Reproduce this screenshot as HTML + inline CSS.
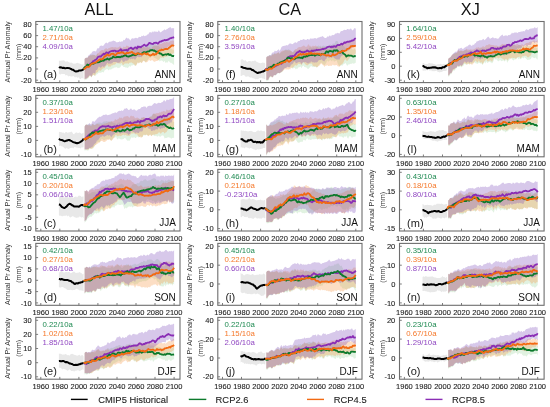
<!DOCTYPE html><html><head><meta charset="utf-8"><style>html,body{margin:0;padding:0;background:#fff;}svg{display:block}text{font-family:"Liberation Sans",Arial,sans-serif;}</style></head><body>
<svg width="550" height="407" viewBox="0 0 550 407">
<rect width="550" height="407" fill="#fff"/>
<text x="99.0" y="14.6" font-size="16.2" text-anchor="middle" fill="#111">ALL</text>
<text x="289.7" y="14.6" font-size="16.2" text-anchor="middle" fill="#111">CA</text>
<text x="470.3" y="14.6" font-size="16.2" text-anchor="middle" fill="#111">XJ</text>
<g>
<clipPath id="ca"><rect x="35.8" y="21.5" width="144.2" height="61.1"/></clipPath>
<g clip-path="url(#ca)">
<path d="M58.9,60.5 L59.8,60.8 L60.8,60.7 L61.7,60.4 L62.7,60.4 L63.6,60.2 L64.6,60.7 L65.6,61.7 L66.5,61.4 L67.5,61.2 L68.4,61.9 L69.4,62.4 L70.3,62.7 L71.3,62.5 L72.2,63.0 L73.2,63.8 L74.1,63.4 L75.1,63.7 L76.0,63.2 L77.0,63.1 L77.9,62.8 L78.9,63.5 L79.8,63.4 L80.8,64.1 L81.7,64.5 L82.7,64.6 L83.6,63.5 L83.6,78.7 L82.7,78.2 L81.7,78.0 L80.8,79.1 L79.8,78.9 L78.9,77.3 L77.9,77.7 L77.0,77.5 L76.0,76.6 L75.1,77.7 L74.1,76.5 L73.2,76.0 L72.2,76.6 L71.3,76.4 L70.3,76.2 L69.4,76.0 L68.4,76.4 L67.5,75.5 L66.5,75.1 L65.6,75.4 L64.6,74.1 L63.6,74.0 L62.7,74.1 L61.7,73.8 L60.8,74.6 L59.8,74.3 L58.9,74.1Z" fill="#e8e8e8"/>
<path d="M84.6,58.9 L85.5,58.0 L86.5,57.9 L87.4,58.0 L88.4,56.6 L89.4,56.1 L90.3,54.9 L91.3,54.8 L92.2,54.6 L93.2,54.5 L94.1,55.0 L95.1,55.3 L96.0,56.1 L97.0,54.2 L97.9,53.9 L98.9,55.9 L99.8,54.2 L100.8,53.4 L101.7,53.3 L102.7,54.0 L103.6,54.3 L104.6,52.6 L105.5,50.8 L106.5,50.8 L107.4,51.9 L108.4,51.3 L109.3,51.6 L110.3,51.4 L111.2,51.4 L112.2,50.2 L113.2,50.5 L114.1,52.2 L115.1,51.8 L116.0,52.2 L117.0,52.0 L117.9,52.5 L118.9,51.2 L119.8,50.4 L120.8,51.0 L121.7,50.7 L122.7,50.1 L123.6,49.3 L124.6,49.4 L125.5,48.7 L126.5,48.0 L127.4,47.9 L128.4,48.3 L129.3,49.3 L130.3,49.7 L131.2,48.7 L132.2,48.7 L133.1,48.0 L134.1,48.4 L135.0,47.3 L136.0,48.0 L137.0,49.4 L137.9,49.8 L138.9,47.8 L139.8,47.8 L140.8,47.5 L141.7,46.7 L142.7,47.7 L143.6,45.7 L144.6,47.0 L145.5,46.5 L146.5,46.9 L147.4,45.9 L148.4,45.0 L149.3,44.0 L150.3,44.1 L151.2,44.2 L152.2,43.0 L153.1,43.1 L154.1,41.3 L155.0,43.8 L156.0,44.2 L156.9,45.2 L157.9,45.8 L158.8,46.2 L159.8,47.2 L160.8,47.9 L161.7,47.6 L162.7,48.3 L163.6,47.3 L164.6,47.9 L165.5,48.3 L166.5,47.3 L167.4,48.5 L168.4,47.9 L169.3,47.0 L170.3,46.7 L171.2,48.7 L172.2,49.5 L173.1,49.7 L174.1,50.0 L174.1,65.0 L173.1,64.2 L172.2,63.4 L171.2,62.8 L170.3,62.7 L169.3,61.6 L168.4,60.9 L167.4,62.7 L166.5,62.2 L165.5,63.0 L164.6,60.7 L163.6,62.2 L162.7,61.1 L161.7,60.6 L160.8,60.4 L159.8,61.4 L158.8,60.3 L157.9,59.9 L156.9,58.9 L156.0,58.5 L155.0,57.9 L154.1,57.7 L153.1,56.6 L152.2,56.2 L151.2,57.1 L150.3,58.0 L149.3,57.8 L148.4,58.9 L147.4,60.2 L146.5,61.4 L145.5,61.9 L144.6,61.2 L143.6,60.6 L142.7,61.0 L141.7,63.0 L140.8,62.3 L139.8,61.8 L138.9,63.4 L137.9,62.1 L137.0,64.1 L136.0,65.4 L135.0,65.8 L134.1,65.1 L133.1,65.1 L132.2,65.4 L131.2,65.4 L130.3,67.0 L129.3,66.0 L128.4,67.5 L127.4,67.9 L126.5,67.5 L125.5,67.6 L124.6,66.9 L123.6,67.0 L122.7,65.9 L121.7,65.1 L120.8,66.5 L119.8,67.8 L118.9,67.7 L117.9,68.2 L117.0,67.6 L116.0,67.0 L115.1,67.7 L114.1,67.6 L113.2,68.5 L112.2,68.5 L111.2,69.4 L110.3,69.6 L109.3,69.4 L108.4,70.5 L107.4,68.9 L106.5,69.3 L105.5,69.8 L104.6,70.3 L103.6,72.6 L102.7,72.1 L101.7,72.2 L100.8,72.8 L99.8,72.8 L98.9,72.6 L97.9,73.6 L97.0,74.4 L96.0,74.4 L95.1,76.2 L94.1,75.5 L93.2,74.8 L92.2,76.0 L91.3,77.6 L90.3,76.1 L89.4,76.6 L88.4,78.0 L87.4,78.7 L86.5,79.5 L85.5,79.7 L84.6,80.5Z" fill="rgba(118,198,118,0.22)"/>
<path d="M84.6,58.9 L85.5,57.9 L86.5,57.8 L87.4,58.1 L88.4,56.6 L89.4,56.1 L90.3,55.3 L91.3,55.6 L92.2,55.1 L93.2,55.2 L94.1,54.8 L95.1,55.3 L96.0,56.1 L97.0,54.0 L97.9,52.7 L98.9,53.0 L99.8,51.3 L100.8,50.7 L101.7,49.9 L102.7,50.1 L103.6,50.4 L104.6,49.0 L105.5,48.4 L106.5,48.3 L107.4,49.3 L108.4,48.2 L109.3,47.9 L110.3,47.4 L111.2,47.3 L112.2,46.9 L113.2,47.3 L114.1,47.6 L115.1,46.9 L116.0,47.6 L117.0,47.6 L117.9,47.5 L118.9,46.9 L119.8,46.2 L120.8,46.8 L121.7,47.9 L122.7,48.0 L123.6,46.6 L124.6,47.1 L125.5,46.9 L126.5,45.5 L127.4,45.8 L128.4,46.3 L129.3,46.8 L130.3,48.2 L131.2,46.8 L132.2,47.4 L133.1,48.2 L134.1,48.3 L135.0,48.1 L136.0,46.8 L137.0,47.8 L137.9,47.8 L138.9,47.3 L139.8,47.7 L140.8,47.6 L141.7,46.4 L142.7,47.3 L143.6,46.7 L144.6,47.6 L145.5,47.4 L146.5,47.5 L147.4,46.4 L148.4,47.8 L149.3,47.2 L150.3,47.7 L151.2,49.0 L152.2,47.1 L153.1,46.6 L154.1,45.4 L155.0,45.9 L156.0,45.5 L156.9,46.2 L157.9,44.7 L158.8,43.8 L159.8,43.6 L160.8,44.3 L161.7,43.7 L162.7,43.0 L163.6,42.8 L164.6,42.0 L165.5,42.7 L166.5,41.8 L167.4,42.3 L168.4,42.4 L169.3,42.2 L170.3,41.1 L171.2,41.3 L172.2,40.2 L173.1,41.0 L174.1,40.2 L174.1,53.8 L173.1,52.8 L172.2,54.2 L171.2,54.4 L170.3,54.5 L169.3,53.6 L168.4,54.1 L167.4,56.6 L166.5,56.4 L165.5,56.9 L164.6,56.5 L163.6,58.3 L162.7,57.2 L161.7,57.9 L160.8,56.9 L159.8,58.7 L158.8,59.7 L157.9,60.8 L156.9,61.1 L156.0,61.1 L155.0,61.8 L154.1,61.7 L153.1,61.0 L152.2,60.0 L151.2,60.4 L150.3,61.0 L149.3,60.1 L148.4,60.5 L147.4,61.9 L146.5,62.3 L145.5,62.4 L144.6,61.2 L143.6,60.8 L142.7,61.7 L141.7,63.2 L140.8,62.3 L139.8,62.6 L138.9,63.4 L137.9,62.3 L137.0,63.8 L136.0,65.7 L135.0,65.6 L134.1,64.1 L133.1,63.6 L132.2,63.1 L131.2,62.2 L130.3,62.8 L129.3,62.7 L128.4,63.9 L127.4,63.2 L126.5,63.4 L125.5,63.4 L124.6,63.4 L123.6,65.1 L122.7,65.0 L121.7,62.7 L120.8,63.4 L119.8,63.4 L118.9,63.3 L117.9,63.5 L117.0,62.4 L116.0,63.5 L115.1,64.5 L114.1,64.8 L113.2,64.7 L112.2,65.6 L111.2,65.4 L110.3,66.9 L109.3,66.2 L108.4,66.8 L107.4,64.7 L106.5,65.4 L105.5,66.5 L104.6,68.2 L103.6,68.3 L102.7,68.5 L101.7,69.6 L100.8,70.8 L99.8,70.6 L98.9,70.1 L97.9,72.0 L97.0,72.6 L96.0,73.1 L95.1,75.7 L94.1,75.0 L93.2,74.7 L92.2,75.9 L91.3,77.2 L90.3,75.4 L89.4,75.8 L88.4,77.4 L87.4,77.9 L86.5,78.5 L85.5,78.7 L84.6,79.3Z" fill="rgba(245,145,58,0.3)"/>
<path d="M84.6,58.9 L85.5,57.9 L86.5,57.6 L87.4,57.7 L88.4,55.6 L89.4,55.0 L90.3,53.8 L91.3,53.4 L92.2,51.8 L93.2,51.2 L94.1,50.9 L95.1,51.3 L96.0,51.4 L97.0,49.1 L97.9,48.1 L98.9,48.4 L99.8,46.1 L100.8,45.7 L101.7,45.5 L102.7,46.0 L103.6,45.5 L104.6,43.9 L105.5,42.9 L106.5,42.5 L107.4,43.6 L108.4,42.4 L109.3,41.7 L110.3,41.8 L111.2,41.5 L112.2,41.3 L113.2,40.5 L114.1,41.0 L115.1,40.9 L116.0,42.1 L117.0,42.4 L117.9,41.9 L118.9,42.0 L119.8,41.2 L120.8,41.9 L121.7,41.3 L122.7,41.4 L123.6,39.8 L124.6,40.3 L125.5,38.7 L126.5,37.6 L127.4,38.4 L128.4,38.2 L129.3,38.9 L130.3,40.8 L131.2,39.1 L132.2,38.3 L133.1,38.4 L134.1,38.6 L135.0,38.1 L136.0,37.7 L137.0,38.2 L137.9,38.2 L138.9,36.8 L139.8,36.9 L140.8,36.9 L141.7,35.8 L142.7,36.2 L143.6,35.3 L144.6,36.2 L145.5,35.8 L146.5,35.4 L147.4,34.5 L148.4,34.2 L149.3,32.4 L150.3,32.0 L151.2,32.9 L152.2,31.2 L153.1,32.6 L154.1,31.0 L155.0,32.1 L156.0,31.2 L156.9,31.9 L157.9,31.7 L158.8,30.2 L159.8,31.7 L160.8,32.5 L161.7,31.5 L162.7,30.7 L163.6,30.2 L164.6,29.2 L165.5,30.2 L166.5,29.2 L167.4,28.9 L168.4,28.1 L169.3,27.7 L170.3,26.8 L171.2,28.4 L172.2,27.9 L173.1,28.4 L174.1,27.8 L174.1,46.3 L173.1,45.2 L172.2,46.2 L171.2,46.2 L170.3,46.9 L169.3,46.9 L168.4,46.3 L167.4,48.0 L166.5,47.8 L165.5,48.8 L164.6,48.3 L163.6,50.3 L162.7,48.2 L161.7,48.8 L160.8,48.7 L159.8,49.2 L158.8,49.5 L157.9,51.4 L156.9,50.8 L156.0,50.6 L155.0,51.6 L154.1,51.4 L153.1,52.3 L152.2,50.2 L151.2,51.2 L150.3,51.1 L149.3,50.9 L148.4,52.5 L147.4,54.4 L146.5,54.0 L145.5,54.0 L144.6,53.9 L143.6,53.7 L142.7,55.1 L141.7,57.2 L140.8,57.1 L139.8,57.1 L138.9,57.6 L137.9,56.2 L137.0,57.1 L136.0,58.5 L135.0,60.0 L134.1,58.8 L133.1,58.6 L132.2,59.2 L131.2,58.5 L130.3,59.4 L129.3,58.1 L128.4,60.1 L127.4,60.6 L126.5,60.8 L125.5,60.5 L124.6,61.4 L123.6,62.0 L122.7,61.4 L121.7,59.3 L120.8,61.0 L119.8,62.5 L118.9,62.6 L117.9,63.0 L117.0,62.3 L116.0,62.0 L115.1,62.1 L114.1,62.1 L113.2,61.9 L112.2,63.3 L111.2,63.5 L110.3,63.8 L109.3,63.5 L108.4,63.8 L107.4,62.5 L106.5,64.0 L105.5,65.5 L104.6,66.5 L103.6,66.9 L102.7,66.0 L101.7,66.9 L100.8,67.7 L99.8,67.2 L98.9,66.2 L97.9,68.2 L97.0,69.9 L96.0,70.0 L95.1,73.5 L94.1,73.3 L93.2,72.8 L92.2,75.1 L91.3,76.8 L90.3,75.3 L89.4,75.5 L88.4,76.8 L87.4,77.8 L86.5,78.5 L85.5,78.7 L84.6,79.3Z" fill="rgba(122,72,184,0.3)"/>
<polyline points="58.9,67.0 59.8,67.5 60.8,67.3 61.7,67.6 62.7,68.0 63.6,67.7 64.6,68.2 65.6,68.2 66.5,68.1 67.5,67.9 68.4,68.1 69.4,68.2 70.3,68.7 71.3,69.0 72.2,69.7 73.2,69.8 74.1,70.6 75.1,71.3 76.0,71.4 77.0,71.2 77.9,71.3 78.9,70.5 79.8,70.6 80.8,70.6 81.7,70.2 82.7,69.9 83.6,69.1" fill="none" stroke="#000" stroke-width="2" stroke-linejoin="round"/>
<polyline points="83.6,69.1 84.6,67.7 85.5,67.6 86.5,66.3 87.4,66.4 88.4,65.1 89.4,65.3 90.3,63.7 91.3,63.3 92.2,62.3 93.2,61.1 94.1,60.9 95.1,60.0 96.0,59.6 97.0,58.6 97.9,57.0 98.9,56.7 99.8,56.5 100.8,56.7 101.7,55.4 102.7,55.0 103.6,53.6 104.6,54.3 105.5,53.4 106.5,52.3 107.4,52.7 108.4,53.5 109.3,52.1 110.3,51.5 111.2,51.2 112.2,50.7 113.2,51.2 114.1,50.6 115.1,50.6 116.0,51.5 117.0,51.1 117.9,51.6 118.9,50.8 119.8,50.1 120.8,49.2 121.7,51.0 122.7,50.4 123.6,50.4 124.6,50.2 125.5,50.1 126.5,49.9 127.4,50.9 128.4,49.5 129.3,48.3 130.3,48.1 131.2,47.6 132.2,48.6 133.1,49.1 134.1,48.1 135.0,47.3 136.0,47.5 137.0,48.6 137.9,46.4 138.9,47.3 139.8,46.6 140.8,47.4 141.7,46.3 142.7,46.0 143.6,45.0 144.6,44.7 145.5,45.8 146.5,45.9 147.4,45.0 148.4,44.1 149.3,42.8 150.3,43.2 151.2,43.7 152.2,43.9 153.1,44.0 154.1,42.9 155.0,42.8 156.0,42.6 156.9,43.1 157.9,43.7 158.8,42.7 159.8,41.7 160.8,41.6 161.7,41.1 162.7,40.6 163.6,40.6 164.6,39.9 165.5,40.3 166.5,40.0 167.4,39.9 168.4,39.4 169.3,38.8 170.3,38.2 171.2,38.2 172.2,37.6 173.1,37.6 174.1,37.2" fill="none" stroke="#8a2db5" stroke-width="1.8" stroke-linejoin="round"/>
<polyline points="83.6,69.1 84.6,67.1 85.5,67.3 86.5,66.1 87.4,64.5 88.4,64.8 89.4,65.6 90.3,65.1 91.3,63.9 92.2,63.3 93.2,63.9 94.1,63.4 95.1,63.0 96.0,62.5 97.0,62.2 97.9,62.4 98.9,62.2 99.8,61.9 100.8,60.9 101.7,61.1 102.7,60.4 103.6,60.8 104.6,59.6 105.5,59.5 106.5,59.3 107.4,58.4 108.4,59.3 109.3,59.5 110.3,58.5 111.2,58.4 112.2,58.0 113.2,56.4 114.1,57.1 115.1,57.3 116.0,57.4 117.0,56.9 117.9,57.0 118.9,56.8 119.8,57.3 120.8,56.9 121.7,56.4 122.7,56.7 123.6,55.9 124.6,55.6 125.5,54.7 126.5,56.1 127.4,56.4 128.4,56.5 129.3,56.3 130.3,55.9 131.2,55.6 132.2,55.1 133.1,54.9 134.1,54.7 135.0,55.3 136.0,55.0 137.0,54.3 137.9,53.7 138.9,53.3 139.8,54.2 140.8,54.0 141.7,53.5 142.7,53.0 143.6,52.2 144.6,52.2 145.5,52.6 146.5,52.0 147.4,51.6 148.4,51.4 149.3,51.3 150.3,50.2 151.2,50.3 152.2,49.9 153.1,50.5 154.1,50.3 155.0,51.0 156.0,51.9 156.9,51.6 157.9,51.9 158.8,52.8 159.8,53.5 160.8,53.5 161.7,54.2 162.7,55.4 163.6,54.9 164.6,54.7 165.5,54.3 166.5,54.8 167.4,54.2 168.4,53.9 169.3,55.1 170.3,54.5 171.2,55.3 172.2,56.1 173.1,56.0 174.1,56.2" fill="none" stroke="#0c7a2c" stroke-width="1.8" stroke-linejoin="round"/>
<polyline points="83.6,69.1 84.6,68.7 85.5,68.1 86.5,66.8 87.4,66.6 88.4,67.0 89.4,66.6 90.3,65.0 91.3,63.9 92.2,63.5 93.2,63.4 94.1,62.9 95.1,62.6 96.0,62.3 97.0,61.4 97.9,60.7 98.9,60.1 99.8,59.3 100.8,59.1 101.7,59.6 102.7,58.8 103.6,57.9 104.6,56.2 105.5,56.4 106.5,55.0 107.4,54.5 108.4,55.4 109.3,55.5 110.3,55.0 111.2,53.8 112.2,53.9 113.2,53.7 114.1,54.3 115.1,55.4 116.0,54.7 117.0,53.7 117.9,52.9 118.9,53.1 119.8,53.0 120.8,52.3 121.7,52.7 122.7,52.2 123.6,53.1 124.6,53.6 125.5,53.8 126.5,52.9 127.4,53.2 128.4,53.0 129.3,52.7 130.3,52.7 131.2,52.2 132.2,51.9 133.1,53.2 134.1,53.4 135.0,53.9 136.0,54.5 137.0,53.3 137.9,53.2 138.9,53.7 139.8,54.0 140.8,53.8 141.7,54.5 142.7,54.3 143.6,53.5 144.6,53.2 145.5,54.0 146.5,54.3 147.4,53.3 148.4,54.6 149.3,55.0 150.3,55.7 151.2,55.1 152.2,54.6 153.1,53.7 154.1,55.1 155.0,54.1 156.0,54.5 156.9,53.2 157.9,52.5 158.8,50.7 159.8,50.2 160.8,50.5 161.7,49.5 162.7,50.1 163.6,49.9 164.6,49.1 165.5,49.0 166.5,49.0 167.4,49.2 168.4,48.4 169.3,47.5 170.3,46.9 171.2,46.0 172.2,45.3 173.1,45.5 174.1,46.0" fill="none" stroke="#f26a12" stroke-width="1.8" stroke-linejoin="round"/>
</g>
<rect x="35.8" y="21.5" width="144.2" height="61.1" fill="none" stroke="#6e6e6e" stroke-width="1.1"/>
<line x1="40.8" y1="82.6" x2="40.8" y2="80.3" stroke="#6e6e6e" stroke-width="0.9"/>
<text x="40.8" y="92.1" font-size="7.5" text-anchor="middle" fill="#222" stroke="#222" stroke-width="0.1">1960</text>
<line x1="59.8" y1="82.6" x2="59.8" y2="80.3" stroke="#6e6e6e" stroke-width="0.9"/>
<text x="59.8" y="92.1" font-size="7.5" text-anchor="middle" fill="#222" stroke="#222" stroke-width="0.1">1980</text>
<line x1="78.9" y1="82.6" x2="78.9" y2="80.3" stroke="#6e6e6e" stroke-width="0.9"/>
<text x="78.9" y="92.1" font-size="7.5" text-anchor="middle" fill="#222" stroke="#222" stroke-width="0.1">2000</text>
<line x1="97.9" y1="82.6" x2="97.9" y2="80.3" stroke="#6e6e6e" stroke-width="0.9"/>
<text x="97.9" y="92.1" font-size="7.5" text-anchor="middle" fill="#222" stroke="#222" stroke-width="0.1">2020</text>
<line x1="117.0" y1="82.6" x2="117.0" y2="80.3" stroke="#6e6e6e" stroke-width="0.9"/>
<text x="117.0" y="92.1" font-size="7.5" text-anchor="middle" fill="#222" stroke="#222" stroke-width="0.1">2040</text>
<line x1="136.0" y1="82.6" x2="136.0" y2="80.3" stroke="#6e6e6e" stroke-width="0.9"/>
<text x="136.0" y="92.1" font-size="7.5" text-anchor="middle" fill="#222" stroke="#222" stroke-width="0.1">2060</text>
<line x1="155.0" y1="82.6" x2="155.0" y2="80.3" stroke="#6e6e6e" stroke-width="0.9"/>
<text x="155.0" y="92.1" font-size="7.5" text-anchor="middle" fill="#222" stroke="#222" stroke-width="0.1">2080</text>
<line x1="174.1" y1="82.6" x2="174.1" y2="80.3" stroke="#6e6e6e" stroke-width="0.9"/>
<text x="174.1" y="92.1" font-size="7.5" text-anchor="middle" fill="#222" stroke="#222" stroke-width="0.1">2100</text>
<line x1="35.8" y1="24.4" x2="38.099999999999994" y2="24.4" stroke="#6e6e6e" stroke-width="0.9"/>
<text x="31.6" y="26.9" font-size="7.5" text-anchor="end" fill="#222" stroke="#222" stroke-width="0.1">80</text>
<line x1="35.8" y1="35.6" x2="38.099999999999994" y2="35.6" stroke="#6e6e6e" stroke-width="0.9"/>
<text x="31.6" y="38.1" font-size="7.5" text-anchor="end" fill="#222" stroke="#222" stroke-width="0.1">60</text>
<line x1="35.8" y1="46.7" x2="38.099999999999994" y2="46.7" stroke="#6e6e6e" stroke-width="0.9"/>
<text x="31.6" y="49.3" font-size="7.5" text-anchor="end" fill="#222" stroke="#222" stroke-width="0.1">40</text>
<line x1="35.8" y1="57.9" x2="38.099999999999994" y2="57.9" stroke="#6e6e6e" stroke-width="0.9"/>
<text x="31.6" y="60.4" font-size="7.5" text-anchor="end" fill="#222" stroke="#222" stroke-width="0.1">20</text>
<line x1="35.8" y1="69.0" x2="38.099999999999994" y2="69.0" stroke="#6e6e6e" stroke-width="0.9"/>
<text x="31.6" y="71.6" font-size="7.5" text-anchor="end" fill="#222" stroke="#222" stroke-width="0.1">0</text>
<line x1="35.8" y1="80.2" x2="38.099999999999994" y2="80.2" stroke="#6e6e6e" stroke-width="0.9"/>
<text x="31.6" y="82.7" font-size="7.5" text-anchor="end" fill="#222" stroke="#222" stroke-width="0.1">-20</text>
<text transform="translate(10.4,52.0) rotate(-90)" font-size="7.2" text-anchor="middle" fill="#333">Annual Pr Anomaly</text>
<text transform="translate(21.2,52.0) rotate(-90)" font-size="7.2" text-anchor="middle" fill="#333">(mm)</text>
<text x="42.5" y="31.3" font-size="7.8" fill="#1f8a52">1.47/10a</text>
<text x="42.5" y="40.1" font-size="7.8" fill="#f5782a">2.71/10a</text>
<text x="42.5" y="49.0" font-size="7.8" fill="#9148c2">4.09/10a</text>
<text x="43.4" y="78.3" font-size="11" fill="#222">(a)</text>
<text x="175.8" y="78.0" font-size="10" text-anchor="end" fill="#111">ANN</text>
</g>
<g>
<clipPath id="cb"><rect x="35.8" y="95.4" width="144.2" height="61.4"/></clipPath>
<g clip-path="url(#cb)">
<path d="M58.9,132.3 L59.8,131.7 L60.8,132.3 L61.7,132.2 L62.7,132.8 L63.6,132.6 L64.6,133.6 L65.6,132.0 L66.5,132.1 L67.5,132.8 L68.4,132.6 L69.4,132.2 L70.3,132.2 L71.3,131.6 L72.2,132.2 L73.2,134.0 L74.1,134.2 L75.1,133.1 L76.0,132.5 L77.0,132.5 L77.9,133.3 L78.9,132.7 L79.8,132.5 L80.8,133.3 L81.7,133.8 L82.7,133.3 L83.6,132.6 L83.6,147.3 L82.7,147.5 L81.7,147.2 L80.8,148.4 L79.8,147.9 L78.9,148.0 L77.9,147.8 L77.0,147.6 L76.0,147.4 L75.1,147.1 L74.1,147.2 L73.2,148.4 L72.2,147.4 L71.3,148.1 L70.3,148.0 L69.4,148.5 L68.4,149.0 L67.5,148.4 L66.5,147.9 L65.6,148.7 L64.6,148.3 L63.6,147.2 L62.7,146.6 L61.7,146.5 L60.8,145.4 L59.8,145.9 L58.9,145.9Z" fill="#e8e8e8"/>
<path d="M84.6,126.4 L85.5,125.1 L86.5,124.5 L87.4,124.7 L88.4,124.8 L89.4,124.1 L90.3,125.0 L91.3,125.0 L92.2,123.8 L93.2,123.6 L94.1,125.0 L95.1,124.8 L96.0,123.5 L97.0,123.3 L97.9,122.7 L98.9,122.6 L99.8,122.4 L100.8,122.8 L101.7,122.9 L102.7,122.4 L103.6,121.6 L104.6,121.6 L105.5,121.4 L106.5,120.9 L107.4,121.4 L108.4,121.6 L109.3,121.5 L110.3,121.6 L111.2,121.2 L112.2,122.3 L113.2,122.8 L114.1,123.3 L115.1,122.6 L116.0,124.7 L117.0,123.8 L117.9,122.8 L118.9,122.5 L119.8,122.2 L120.8,123.0 L121.7,122.0 L122.7,123.4 L123.6,121.4 L124.6,120.5 L125.5,119.7 L126.5,120.2 L127.4,120.2 L128.4,120.8 L129.3,121.5 L130.3,121.1 L131.2,119.9 L132.2,120.6 L133.1,119.6 L134.1,119.6 L135.0,119.8 L136.0,120.2 L137.0,119.6 L137.9,119.0 L138.9,118.6 L139.8,119.2 L140.8,119.4 L141.7,117.4 L142.7,117.8 L143.6,117.5 L144.6,118.3 L145.5,118.0 L146.5,119.2 L147.4,118.0 L148.4,118.3 L149.3,117.4 L150.3,116.6 L151.2,116.2 L152.2,115.1 L153.1,113.6 L154.1,113.9 L155.0,114.3 L156.0,115.1 L156.9,116.1 L157.9,116.4 L158.8,115.6 L159.8,115.5 L160.8,116.8 L161.7,116.8 L162.7,115.7 L163.6,114.2 L164.6,114.4 L165.5,116.3 L166.5,115.5 L167.4,117.2 L168.4,117.7 L169.3,117.9 L170.3,119.3 L171.2,119.6 L172.2,120.6 L173.1,121.7 L174.1,121.9 L174.1,137.9 L173.1,137.8 L172.2,137.9 L171.2,138.8 L170.3,137.7 L169.3,137.6 L168.4,137.2 L167.4,137.6 L166.5,138.1 L165.5,137.9 L164.6,138.5 L163.6,135.7 L162.7,135.4 L161.7,135.6 L160.8,136.4 L159.8,136.7 L158.8,135.4 L157.9,136.4 L156.9,136.4 L156.0,135.6 L155.0,136.3 L154.1,135.7 L153.1,135.0 L152.2,135.0 L151.2,136.0 L150.3,134.4 L149.3,134.8 L148.4,135.7 L147.4,135.2 L146.5,134.5 L145.5,135.5 L144.6,135.6 L143.6,134.5 L142.7,137.0 L141.7,137.3 L140.8,136.0 L139.8,136.8 L138.9,137.5 L137.9,136.9 L137.0,136.3 L136.0,138.1 L135.0,138.1 L134.1,136.7 L133.1,138.0 L132.2,137.6 L131.2,137.6 L130.3,139.6 L129.3,141.0 L128.4,140.6 L127.4,140.8 L126.5,139.8 L125.5,138.3 L124.6,138.1 L123.6,138.9 L122.7,139.3 L121.7,139.5 L120.8,139.3 L119.8,139.1 L118.9,138.0 L117.9,139.5 L117.0,138.9 L116.0,136.8 L115.1,137.7 L114.1,137.5 L113.2,137.8 L112.2,139.8 L111.2,140.5 L110.3,139.7 L109.3,138.6 L108.4,139.3 L107.4,138.9 L106.5,139.3 L105.5,139.5 L104.6,140.2 L103.6,140.3 L102.7,139.2 L101.7,138.7 L100.8,140.3 L99.8,142.4 L98.9,141.7 L97.9,142.4 L97.0,142.1 L96.0,144.6 L95.1,144.9 L94.1,146.8 L93.2,148.4 L92.2,148.3 L91.3,148.8 L90.3,148.8 L89.4,148.7 L88.4,150.5 L87.4,150.6 L86.5,150.2 L85.5,150.3 L84.6,150.8Z" fill="rgba(118,198,118,0.22)"/>
<path d="M84.6,126.4 L85.5,125.1 L86.5,124.4 L87.4,125.1 L88.4,125.4 L89.4,124.9 L90.3,125.8 L91.3,126.3 L92.2,124.1 L93.2,124.5 L94.1,124.9 L95.1,125.3 L96.0,124.5 L97.0,123.9 L97.9,124.0 L98.9,124.6 L99.8,124.5 L100.8,125.1 L101.7,124.4 L102.7,124.4 L103.6,123.9 L104.6,123.4 L105.5,123.4 L106.5,122.9 L107.4,123.0 L108.4,122.2 L109.3,122.1 L110.3,122.4 L111.2,121.3 L112.2,121.5 L113.2,121.2 L114.1,121.2 L115.1,118.9 L116.0,119.7 L117.0,119.9 L117.9,118.7 L118.9,118.7 L119.8,117.1 L120.8,118.2 L121.7,117.6 L122.7,118.7 L123.6,116.9 L124.6,116.5 L125.5,116.4 L126.5,116.3 L127.4,116.0 L128.4,116.4 L129.3,118.0 L130.3,116.2 L131.2,115.5 L132.2,116.4 L133.1,115.8 L134.1,116.7 L135.0,118.1 L136.0,118.2 L137.0,117.3 L137.9,118.1 L138.9,118.6 L139.8,118.9 L140.8,118.8 L141.7,117.5 L142.7,117.8 L143.6,117.1 L144.6,117.2 L145.5,118.4 L146.5,119.0 L147.4,119.5 L148.4,118.5 L149.3,116.9 L150.3,116.7 L151.2,117.0 L152.2,115.7 L153.1,113.9 L154.1,113.4 L155.0,113.8 L156.0,113.6 L156.9,113.1 L157.9,113.2 L158.8,113.0 L159.8,112.3 L160.8,112.4 L161.7,111.6 L162.7,111.8 L163.6,110.9 L164.6,111.2 L165.5,112.1 L166.5,109.5 L167.4,109.9 L168.4,110.4 L169.3,109.9 L170.3,109.7 L171.2,108.9 L172.2,109.1 L173.1,110.4 L174.1,109.5 L174.1,127.1 L173.1,127.4 L172.2,127.9 L171.2,129.1 L170.3,128.5 L169.3,128.5 L168.4,128.5 L167.4,130.5 L166.5,131.9 L165.5,132.5 L164.6,133.5 L163.6,131.9 L162.7,132.1 L161.7,132.6 L160.8,134.0 L159.8,132.4 L158.8,132.2 L157.9,133.5 L156.9,134.1 L156.0,134.2 L155.0,134.3 L154.1,134.9 L153.1,134.3 L152.2,135.4 L151.2,136.3 L150.3,134.6 L149.3,135.5 L148.4,136.2 L147.4,135.2 L146.5,134.6 L145.5,135.0 L144.6,134.8 L143.6,134.8 L142.7,136.4 L141.7,137.5 L140.8,137.5 L139.8,136.9 L138.9,136.7 L137.9,135.8 L137.0,133.9 L136.0,134.4 L135.0,133.9 L134.1,132.9 L133.1,133.5 L132.2,133.4 L131.2,133.5 L130.3,134.8 L129.3,136.0 L128.4,135.7 L127.4,135.7 L126.5,135.6 L125.5,134.7 L124.6,135.4 L123.6,134.5 L122.7,135.0 L121.7,135.6 L120.8,136.2 L119.8,135.8 L118.9,135.6 L117.9,136.5 L117.0,135.8 L116.0,135.1 L115.1,135.5 L114.1,137.7 L113.2,138.7 L112.2,140.1 L111.2,140.9 L110.3,139.9 L109.3,139.3 L108.4,139.9 L107.4,139.8 L106.5,140.7 L105.5,141.4 L104.6,142.1 L103.6,141.9 L102.7,141.2 L101.7,140.9 L100.8,141.0 L99.8,142.6 L98.9,142.4 L97.9,143.8 L97.0,143.8 L96.0,145.0 L95.1,145.2 L94.1,146.7 L93.2,147.6 L92.2,148.7 L91.3,148.8 L90.3,148.6 L89.4,148.3 L88.4,149.6 L87.4,149.7 L86.5,149.4 L85.5,149.3 L84.6,149.6Z" fill="rgba(245,145,58,0.3)"/>
<path d="M84.6,126.4 L85.5,125.1 L86.5,124.4 L87.4,124.7 L88.4,124.2 L89.4,123.0 L90.3,123.9 L91.3,124.2 L92.2,121.5 L93.2,121.0 L94.1,121.9 L95.1,120.9 L96.0,119.9 L97.0,118.8 L97.9,117.8 L98.9,117.3 L99.8,116.6 L100.8,116.9 L101.7,116.1 L102.7,115.6 L103.6,114.8 L104.6,115.0 L105.5,114.4 L106.5,114.4 L107.4,115.2 L108.4,114.9 L109.3,114.8 L110.3,114.5 L111.2,114.0 L112.2,113.5 L113.2,113.0 L114.1,113.3 L115.1,112.1 L116.0,113.0 L117.0,112.5 L117.9,111.5 L118.9,111.1 L119.8,110.7 L120.8,110.9 L121.7,110.3 L122.7,111.1 L123.6,110.1 L124.6,108.5 L125.5,108.7 L126.5,107.9 L127.4,108.8 L128.4,109.9 L129.3,110.1 L130.3,108.8 L131.2,108.5 L132.2,110.0 L133.1,109.7 L134.1,109.3 L135.0,109.7 L136.0,110.8 L137.0,110.5 L137.9,109.5 L138.9,109.1 L139.8,109.0 L140.8,107.9 L141.7,107.0 L142.7,107.1 L143.6,106.4 L144.6,106.5 L145.5,106.6 L146.5,108.0 L147.4,106.4 L148.4,106.0 L149.3,105.7 L150.3,105.8 L151.2,106.1 L152.2,105.2 L153.1,104.3 L154.1,103.2 L155.0,103.1 L156.0,103.8 L156.9,103.8 L157.9,102.9 L158.8,102.8 L159.8,102.9 L160.8,103.1 L161.7,102.3 L162.7,101.9 L163.6,100.6 L164.6,100.2 L165.5,101.7 L166.5,99.7 L167.4,99.8 L168.4,100.1 L169.3,99.6 L170.3,99.0 L171.2,99.0 L172.2,98.7 L173.1,98.3 L174.1,96.6 L174.1,117.4 L173.1,118.8 L172.2,120.7 L171.2,122.9 L170.3,122.2 L169.3,123.7 L168.4,123.6 L167.4,124.6 L166.5,126.0 L165.5,125.8 L164.6,128.2 L163.6,127.4 L162.7,128.6 L161.7,127.9 L160.8,129.3 L159.8,128.7 L158.8,127.3 L157.9,129.2 L156.9,129.4 L156.0,128.9 L155.0,130.3 L154.1,130.4 L153.1,130.3 L152.2,131.0 L151.2,131.0 L150.3,128.4 L149.3,129.0 L148.4,128.4 L147.4,127.1 L146.5,126.8 L145.5,127.6 L144.6,127.8 L143.6,127.1 L142.7,131.0 L141.7,131.6 L140.8,131.5 L139.8,131.2 L138.9,132.9 L137.9,133.1 L137.0,132.4 L136.0,132.6 L135.0,133.6 L134.1,131.7 L133.1,132.0 L132.2,131.1 L131.2,131.0 L130.3,133.2 L129.3,134.3 L128.4,135.0 L127.4,133.5 L126.5,133.3 L125.5,132.8 L124.6,133.0 L123.6,132.4 L122.7,133.0 L121.7,132.7 L120.8,133.4 L119.8,133.4 L118.9,132.0 L117.9,132.8 L117.0,133.4 L116.0,131.8 L115.1,133.1 L114.1,134.5 L113.2,134.4 L112.2,136.1 L111.2,137.3 L110.3,135.8 L109.3,135.0 L108.4,135.8 L107.4,134.8 L106.5,135.6 L105.5,136.0 L104.6,136.7 L103.6,136.4 L102.7,135.6 L101.7,136.7 L100.8,136.4 L99.8,137.7 L98.9,138.9 L97.9,140.5 L97.0,140.3 L96.0,142.7 L95.1,143.6 L94.1,144.2 L93.2,145.9 L92.2,147.1 L91.3,147.3 L90.3,148.0 L89.4,147.8 L88.4,149.0 L87.4,149.0 L86.5,149.3 L85.5,149.2 L84.6,149.6Z" fill="rgba(122,72,184,0.3)"/>
<polyline points="58.9,138.8 59.8,139.6 60.8,139.9 61.7,140.0 62.7,140.3 63.6,140.9 64.6,141.2 65.6,141.0 66.5,140.6 67.5,140.5 68.4,139.9 69.4,139.9 70.3,140.6 71.3,140.9 72.2,141.5 73.2,142.1 74.1,142.4 75.1,142.5 76.0,143.1 77.0,143.3 77.9,143.0 78.9,142.7 79.8,142.3 80.8,141.6 81.7,141.1 82.7,140.2 83.6,138.8" fill="none" stroke="#000" stroke-width="2" stroke-linejoin="round"/>
<polyline points="83.6,138.8 84.6,138.7 85.5,138.6 86.5,137.2 87.4,136.3 88.4,135.3 89.4,134.4 90.3,134.3 91.3,133.9 92.2,132.7 93.2,131.6 94.1,131.2 95.1,130.5 96.0,130.4 97.0,130.9 97.9,129.9 98.9,128.6 99.8,127.6 100.8,127.0 101.7,126.6 102.7,126.2 103.6,126.3 104.6,126.3 105.5,126.8 106.5,126.4 107.4,126.3 108.4,125.7 109.3,126.8 110.3,126.7 111.2,127.3 112.2,127.0 113.2,127.2 114.1,126.3 115.1,126.3 116.0,127.3 117.0,125.6 117.9,125.9 118.9,126.2 119.8,125.5 120.8,125.3 121.7,125.4 122.7,124.3 123.6,124.3 124.6,123.5 125.5,123.2 126.5,123.0 127.4,123.0 128.4,123.1 129.3,123.2 130.3,122.2 131.2,123.4 132.2,123.5 133.1,123.3 134.1,122.5 135.0,122.2 136.0,122.3 137.0,122.1 137.9,120.9 138.9,121.5 139.8,122.8 140.8,120.9 141.7,121.4 142.7,121.2 143.6,120.5 144.6,120.6 145.5,119.1 146.5,118.9 147.4,119.2 148.4,118.8 149.3,119.1 150.3,119.9 151.2,120.4 152.2,121.4 153.1,120.3 154.1,120.6 155.0,119.5 156.0,119.6 156.9,119.0 157.9,117.2 158.8,117.4 159.8,116.7 160.8,116.5 161.7,117.3 162.7,116.2 163.6,115.5 164.6,116.3 165.5,115.8 166.5,116.1 167.4,115.3 168.4,114.0 169.3,113.6 170.3,113.8 171.2,113.4 172.2,111.9 173.1,110.5 174.1,109.1" fill="none" stroke="#8a2db5" stroke-width="1.8" stroke-linejoin="round"/>
<polyline points="83.6,138.8 84.6,139.0 85.5,139.5 86.5,138.5 87.4,137.9 88.4,137.4 89.4,136.1 90.3,134.3 91.3,133.3 92.2,132.5 93.2,133.3 94.1,132.3 95.1,132.6 96.0,132.1 97.0,132.4 97.9,132.2 98.9,131.5 99.8,131.1 100.8,130.9 101.7,130.7 102.7,130.3 103.6,130.2 104.6,130.8 105.5,129.5 106.5,129.7 107.4,129.3 108.4,129.6 109.3,130.1 110.3,129.9 111.2,130.2 112.2,129.2 113.2,130.4 114.1,130.5 115.1,131.3 116.0,131.7 117.0,130.2 117.9,130.3 118.9,130.7 119.8,131.4 120.8,131.1 121.7,130.8 122.7,129.7 123.6,130.4 124.6,130.8 125.5,130.0 126.5,129.4 127.4,128.5 128.4,129.2 129.3,130.3 130.3,129.9 131.2,130.0 132.2,129.5 133.1,128.4 134.1,128.7 135.0,127.5 136.0,127.2 137.0,127.2 137.9,127.4 138.9,127.4 139.8,127.3 140.8,126.7 141.7,126.1 142.7,126.4 143.6,126.1 144.6,125.7 145.5,125.4 146.5,125.6 147.4,125.0 148.4,124.8 149.3,124.3 150.3,124.8 151.2,125.0 152.2,125.6 153.1,124.2 154.1,124.1 155.0,124.9 156.0,124.9 156.9,124.9 157.9,125.9 158.8,125.5 159.8,124.7 160.8,124.1 161.7,124.5 162.7,124.6 163.6,123.8 164.6,124.1 165.5,125.4 166.5,126.5 167.4,126.8 168.4,127.6 169.3,128.2 170.3,127.5 171.2,128.1 172.2,128.7 173.1,128.6 174.1,128.0" fill="none" stroke="#0c7a2c" stroke-width="1.8" stroke-linejoin="round"/>
<polyline points="83.6,138.8 84.6,138.9 85.5,139.5 86.5,137.6 87.4,138.6 88.4,137.2 89.4,137.1 90.3,137.0 91.3,136.6 92.2,135.8 93.2,134.6 94.1,134.5 95.1,133.7 96.0,132.2 97.0,133.8 97.9,133.7 98.9,134.0 99.8,132.9 100.8,133.3 101.7,133.4 102.7,133.3 103.6,132.3 104.6,131.2 105.5,130.9 106.5,129.7 107.4,129.3 108.4,129.8 109.3,129.5 110.3,129.6 111.2,129.7 112.2,130.5 113.2,130.4 114.1,129.6 115.1,129.6 116.0,128.5 117.0,128.1 117.9,128.2 118.9,127.3 119.8,127.1 120.8,126.5 121.7,126.7 122.7,127.3 123.6,126.5 124.6,126.4 125.5,125.7 126.5,125.1 127.4,124.7 128.4,125.5 129.3,126.3 130.3,125.7 131.2,124.9 132.2,125.0 133.1,124.5 134.1,124.9 135.0,125.0 136.0,125.2 137.0,125.6 137.9,125.3 138.9,125.4 139.8,125.0 140.8,125.4 141.7,125.3 142.7,125.8 143.6,125.9 144.6,126.4 145.5,126.5 146.5,125.6 147.4,125.2 148.4,124.9 149.3,125.3 150.3,125.8 151.2,125.5 152.2,124.7 153.1,124.9 154.1,123.5 155.0,124.0 156.0,123.2 156.9,121.6 157.9,123.1 158.8,123.2 159.8,122.0 160.8,121.7 161.7,121.2 162.7,121.0 163.6,120.0 164.6,119.7 165.5,119.9 166.5,119.6 167.4,119.7 168.4,118.9 169.3,119.3 170.3,118.0 171.2,117.5 172.2,116.7 173.1,116.7 174.1,117.8" fill="none" stroke="#f26a12" stroke-width="1.8" stroke-linejoin="round"/>
</g>
<rect x="35.8" y="95.4" width="144.2" height="61.4" fill="none" stroke="#6e6e6e" stroke-width="1.1"/>
<line x1="40.8" y1="156.8" x2="40.8" y2="154.5" stroke="#6e6e6e" stroke-width="0.9"/>
<text x="40.8" y="166.3" font-size="7.5" text-anchor="middle" fill="#222" stroke="#222" stroke-width="0.1">1960</text>
<line x1="59.8" y1="156.8" x2="59.8" y2="154.5" stroke="#6e6e6e" stroke-width="0.9"/>
<text x="59.8" y="166.3" font-size="7.5" text-anchor="middle" fill="#222" stroke="#222" stroke-width="0.1">1980</text>
<line x1="78.9" y1="156.8" x2="78.9" y2="154.5" stroke="#6e6e6e" stroke-width="0.9"/>
<text x="78.9" y="166.3" font-size="7.5" text-anchor="middle" fill="#222" stroke="#222" stroke-width="0.1">2000</text>
<line x1="97.9" y1="156.8" x2="97.9" y2="154.5" stroke="#6e6e6e" stroke-width="0.9"/>
<text x="97.9" y="166.3" font-size="7.5" text-anchor="middle" fill="#222" stroke="#222" stroke-width="0.1">2020</text>
<line x1="117.0" y1="156.8" x2="117.0" y2="154.5" stroke="#6e6e6e" stroke-width="0.9"/>
<text x="117.0" y="166.3" font-size="7.5" text-anchor="middle" fill="#222" stroke="#222" stroke-width="0.1">2040</text>
<line x1="136.0" y1="156.8" x2="136.0" y2="154.5" stroke="#6e6e6e" stroke-width="0.9"/>
<text x="136.0" y="166.3" font-size="7.5" text-anchor="middle" fill="#222" stroke="#222" stroke-width="0.1">2060</text>
<line x1="155.0" y1="156.8" x2="155.0" y2="154.5" stroke="#6e6e6e" stroke-width="0.9"/>
<text x="155.0" y="166.3" font-size="7.5" text-anchor="middle" fill="#222" stroke="#222" stroke-width="0.1">2080</text>
<line x1="174.1" y1="156.8" x2="174.1" y2="154.5" stroke="#6e6e6e" stroke-width="0.9"/>
<text x="174.1" y="166.3" font-size="7.5" text-anchor="middle" fill="#222" stroke="#222" stroke-width="0.1">2100</text>
<line x1="35.8" y1="98.3" x2="38.099999999999994" y2="98.3" stroke="#6e6e6e" stroke-width="0.9"/>
<text x="31.6" y="100.9" font-size="7.5" text-anchor="end" fill="#222" stroke="#222" stroke-width="0.1">30</text>
<line x1="35.8" y1="112.3" x2="38.099999999999994" y2="112.3" stroke="#6e6e6e" stroke-width="0.9"/>
<text x="31.6" y="114.9" font-size="7.5" text-anchor="end" fill="#222" stroke="#222" stroke-width="0.1">20</text>
<line x1="35.8" y1="126.4" x2="38.099999999999994" y2="126.4" stroke="#6e6e6e" stroke-width="0.9"/>
<text x="31.6" y="128.9" font-size="7.5" text-anchor="end" fill="#222" stroke="#222" stroke-width="0.1">10</text>
<line x1="35.8" y1="140.4" x2="38.099999999999994" y2="140.4" stroke="#6e6e6e" stroke-width="0.9"/>
<text x="31.6" y="142.9" font-size="7.5" text-anchor="end" fill="#222" stroke="#222" stroke-width="0.1">0</text>
<line x1="35.8" y1="154.4" x2="38.099999999999994" y2="154.4" stroke="#6e6e6e" stroke-width="0.9"/>
<text x="31.6" y="157.0" font-size="7.5" text-anchor="end" fill="#222" stroke="#222" stroke-width="0.1">-10</text>
<text transform="translate(10.4,126.1) rotate(-90)" font-size="7.2" text-anchor="middle" fill="#333">Annual Pr Anomaly</text>
<text transform="translate(21.2,126.1) rotate(-90)" font-size="7.2" text-anchor="middle" fill="#333">(mm)</text>
<text x="42.5" y="105.2" font-size="7.8" fill="#1f8a52">0.37/10a</text>
<text x="42.5" y="114.0" font-size="7.8" fill="#f5782a">1.23/10a</text>
<text x="42.5" y="122.9" font-size="7.8" fill="#9148c2">1.51/10a</text>
<text x="43.4" y="152.5" font-size="11" fill="#222">(b)</text>
<text x="175.8" y="152.2" font-size="10" text-anchor="end" fill="#111">MAM</text>
</g>
<g>
<clipPath id="cc"><rect x="35.8" y="169.4" width="144.2" height="61.6"/></clipPath>
<g clip-path="url(#cc)">
<path d="M58.9,196.9 L59.8,196.6 L60.8,196.1 L61.7,197.4 L62.7,196.6 L63.6,197.6 L64.6,197.6 L65.6,197.1 L66.5,196.4 L67.5,197.1 L68.4,197.8 L69.4,196.9 L70.3,196.7 L71.3,197.2 L72.2,197.1 L73.2,197.9 L74.1,197.1 L75.1,197.1 L76.0,196.2 L77.0,197.4 L77.9,196.6 L78.9,195.4 L79.8,195.7 L80.8,195.9 L81.7,197.0 L82.7,196.5 L83.6,196.4 L83.6,218.2 L82.7,217.1 L81.7,217.4 L80.8,217.2 L79.8,216.2 L78.9,217.4 L77.9,217.3 L77.0,218.1 L76.0,217.5 L75.1,217.5 L74.1,216.9 L73.2,216.3 L72.2,216.3 L71.3,217.0 L70.3,217.4 L69.4,216.8 L68.4,215.4 L67.5,216.5 L66.5,215.2 L65.6,215.8 L64.6,215.8 L63.6,215.7 L62.7,216.3 L61.7,216.2 L60.8,215.6 L59.8,216.0 L58.9,215.0Z" fill="#e8e8e8"/>
<path d="M84.6,190.8 L85.5,191.4 L86.5,190.9 L87.4,192.4 L88.4,194.5 L89.4,193.5 L90.3,193.4 L91.3,192.5 L92.2,192.3 L93.2,192.0 L94.1,192.6 L95.1,191.6 L96.0,192.9 L97.0,191.5 L97.9,190.8 L98.9,190.4 L99.8,190.1 L100.8,188.6 L101.7,188.5 L102.7,187.8 L103.6,186.4 L104.6,185.9 L105.5,185.0 L106.5,184.3 L107.4,184.1 L108.4,185.4 L109.3,185.4 L110.3,186.3 L111.2,186.1 L112.2,185.4 L113.2,186.1 L114.1,186.0 L115.1,184.5 L116.0,185.1 L117.0,185.6 L117.9,185.6 L118.9,185.6 L119.8,184.2 L120.8,184.6 L121.7,183.7 L122.7,184.6 L123.6,185.1 L124.6,187.3 L125.5,189.6 L126.5,190.3 L127.4,189.3 L128.4,188.1 L129.3,187.1 L130.3,187.1 L131.2,186.8 L132.2,184.9 L133.1,184.3 L134.1,184.3 L135.0,184.0 L136.0,183.9 L137.0,183.5 L137.9,182.8 L138.9,183.4 L139.8,182.1 L140.8,180.7 L141.7,180.7 L142.7,181.2 L143.6,180.0 L144.6,179.5 L145.5,179.2 L146.5,180.2 L147.4,181.0 L148.4,180.4 L149.3,180.3 L150.3,180.2 L151.2,179.5 L152.2,179.1 L153.1,178.6 L154.1,178.2 L155.0,178.4 L156.0,179.6 L156.9,181.2 L157.9,180.0 L158.8,180.7 L159.8,182.0 L160.8,180.6 L161.7,179.8 L162.7,180.4 L163.6,180.6 L164.6,181.8 L165.5,179.9 L166.5,180.9 L167.4,180.5 L168.4,179.6 L169.3,179.7 L170.3,180.3 L171.2,180.6 L172.2,180.9 L173.1,181.2 L174.1,181.0 L174.1,202.0 L173.1,202.6 L172.2,203.0 L171.2,202.0 L170.3,200.0 L169.3,201.0 L168.4,199.5 L167.4,201.0 L166.5,201.2 L165.5,200.4 L164.6,201.6 L163.6,200.7 L162.7,201.5 L161.7,200.4 L160.8,202.1 L159.8,201.6 L158.8,200.5 L157.9,200.5 L156.9,201.3 L156.0,202.6 L155.0,202.4 L154.1,201.3 L153.1,200.5 L152.2,201.2 L151.2,199.6 L150.3,200.0 L149.3,199.9 L148.4,199.3 L147.4,199.3 L146.5,199.7 L145.5,201.5 L144.6,201.3 L143.6,200.9 L142.7,200.7 L141.7,202.2 L140.8,203.0 L139.8,203.1 L138.9,203.6 L137.9,204.8 L137.0,206.0 L136.0,205.7 L135.0,206.5 L134.1,206.1 L133.1,207.1 L132.2,207.5 L131.2,206.0 L130.3,207.0 L129.3,206.3 L128.4,206.7 L127.4,207.6 L126.5,208.4 L125.5,207.5 L124.6,209.2 L123.6,206.6 L122.7,204.6 L121.7,204.6 L120.8,205.0 L119.8,205.1 L118.9,205.0 L117.9,204.0 L117.0,205.3 L116.0,205.5 L115.1,205.9 L114.1,208.0 L113.2,206.7 L112.2,207.5 L111.2,207.7 L110.3,208.6 L109.3,208.0 L108.4,206.4 L107.4,206.5 L106.5,206.2 L105.5,207.4 L104.6,209.5 L103.6,210.8 L102.7,210.7 L101.7,209.8 L100.8,211.4 L99.8,211.8 L98.9,213.4 L97.9,212.5 L97.0,213.6 L96.0,213.5 L95.1,212.8 L94.1,214.0 L93.2,215.1 L92.2,215.7 L91.3,217.1 L90.3,216.6 L89.4,217.0 L88.4,218.3 L87.4,218.4 L86.5,220.8 L85.5,221.7 L84.6,222.4Z" fill="rgba(118,198,118,0.22)"/>
<path d="M84.6,190.8 L85.5,191.3 L86.5,190.2 L87.4,191.0 L88.4,192.0 L89.4,190.3 L90.3,190.2 L91.3,189.6 L92.2,189.3 L93.2,189.4 L94.1,190.5 L95.1,188.9 L96.0,189.4 L97.0,188.9 L97.9,188.9 L98.9,189.1 L99.8,188.6 L100.8,186.9 L101.7,186.4 L102.7,186.4 L103.6,186.7 L104.6,187.7 L105.5,187.0 L106.5,187.2 L107.4,187.1 L108.4,186.1 L109.3,184.7 L110.3,184.9 L111.2,184.1 L112.2,183.7 L113.2,183.4 L114.1,183.1 L115.1,181.2 L116.0,181.9 L117.0,181.4 L117.9,180.6 L118.9,180.1 L119.8,179.1 L120.8,178.8 L121.7,178.9 L122.7,180.3 L123.6,178.8 L124.6,180.2 L125.5,180.3 L126.5,180.2 L127.4,179.0 L128.4,179.9 L129.3,179.7 L130.3,179.9 L131.2,180.8 L132.2,181.9 L133.1,182.3 L134.1,183.3 L135.0,184.2 L136.0,184.3 L137.0,185.2 L137.9,186.2 L138.9,186.4 L139.8,186.1 L140.8,185.2 L141.7,185.8 L142.7,186.9 L143.6,187.5 L144.6,186.8 L145.5,186.7 L146.5,186.7 L147.4,186.5 L148.4,186.0 L149.3,186.9 L150.3,186.3 L151.2,186.5 L152.2,186.6 L153.1,186.6 L154.1,186.2 L155.0,184.8 L156.0,185.2 L156.9,186.7 L157.9,185.0 L158.8,184.9 L159.8,185.4 L160.8,185.4 L161.7,184.2 L162.7,182.9 L163.6,182.4 L164.6,183.4 L165.5,182.5 L166.5,183.2 L167.4,183.0 L168.4,182.0 L169.3,182.0 L170.3,181.6 L171.2,181.2 L172.2,180.3 L173.1,181.6 L174.1,180.1 L174.1,199.3 L173.1,201.0 L172.2,202.4 L171.2,202.1 L170.3,202.0 L169.3,202.7 L168.4,200.6 L167.4,203.6 L166.5,203.8 L165.5,203.9 L164.6,204.2 L163.6,203.4 L162.7,203.7 L161.7,204.3 L160.8,204.8 L159.8,205.8 L158.8,205.1 L157.9,206.1 L156.9,205.8 L156.0,206.8 L155.0,205.7 L154.1,205.6 L153.1,205.7 L152.2,206.5 L151.2,204.9 L150.3,204.8 L149.3,206.3 L148.4,205.1 L147.4,205.1 L146.5,205.9 L145.5,207.1 L144.6,206.8 L143.6,206.7 L142.7,205.9 L141.7,205.8 L140.8,206.2 L139.8,206.4 L138.9,206.4 L137.9,206.7 L137.0,207.0 L136.0,206.1 L135.0,206.3 L134.1,205.6 L133.1,204.7 L132.2,202.7 L131.2,200.2 L130.3,198.7 L129.3,198.9 L128.4,198.2 L127.4,196.7 L126.5,198.0 L125.5,197.5 L124.6,199.9 L123.6,200.1 L122.7,199.9 L121.7,199.4 L120.8,200.1 L119.8,200.2 L118.9,199.7 L117.9,200.2 L117.0,201.9 L116.0,202.5 L115.1,203.1 L114.1,205.2 L113.2,204.9 L112.2,205.8 L111.2,207.0 L110.3,208.7 L109.3,208.4 L108.4,207.9 L107.4,209.3 L106.5,208.8 L105.5,209.4 L104.6,210.7 L103.6,211.4 L102.7,209.6 L101.7,208.4 L100.8,209.6 L99.8,210.5 L98.9,212.1 L97.9,210.1 L97.0,210.9 L96.0,210.7 L95.1,210.4 L94.1,209.9 L93.2,211.7 L92.2,212.5 L91.3,214.0 L90.3,213.7 L89.4,213.8 L88.4,215.3 L87.4,216.4 L86.5,219.2 L85.5,220.2 L84.6,221.2Z" fill="rgba(245,145,58,0.3)"/>
<path d="M84.6,190.8 L85.5,191.2 L86.5,190.0 L87.4,190.8 L88.4,191.9 L89.4,190.1 L90.3,189.3 L91.3,188.4 L92.2,188.0 L93.2,187.7 L94.1,187.6 L95.1,185.7 L96.0,186.3 L97.0,184.5 L97.9,184.2 L98.9,184.3 L99.8,183.8 L100.8,182.1 L101.7,181.2 L102.7,180.8 L103.6,180.6 L104.6,181.1 L105.5,179.5 L106.5,179.7 L107.4,179.7 L108.4,179.4 L109.3,179.0 L110.3,179.3 L111.2,178.6 L112.2,178.3 L113.2,177.8 L114.1,178.2 L115.1,175.7 L116.0,176.5 L117.0,175.6 L117.9,175.1 L118.9,174.3 L119.8,173.3 L120.8,173.6 L121.7,173.6 L122.7,174.2 L123.6,173.3 L124.6,174.8 L125.5,174.7 L126.5,174.4 L127.4,173.9 L128.4,173.6 L129.3,173.7 L130.3,174.4 L131.2,175.3 L132.2,175.9 L133.1,175.6 L134.1,176.3 L135.0,176.0 L136.0,176.6 L137.0,178.1 L137.9,178.0 L138.9,177.3 L139.8,175.9 L140.8,175.3 L141.7,174.7 L142.7,176.0 L143.6,175.5 L144.6,175.8 L145.5,175.4 L146.5,175.5 L147.4,176.5 L148.4,175.4 L149.3,175.0 L150.3,174.6 L151.2,175.5 L152.2,174.7 L153.1,174.2 L154.1,173.8 L155.0,173.6 L156.0,174.9 L156.9,177.0 L157.9,175.8 L158.8,176.5 L159.8,176.5 L160.8,175.6 L161.7,175.7 L162.7,175.8 L163.6,175.5 L164.6,177.1 L165.5,175.3 L166.5,175.9 L167.4,176.0 L168.4,175.4 L169.3,175.5 L170.3,175.9 L171.2,175.6 L172.2,175.7 L173.1,175.9 L174.1,174.2 L174.1,202.2 L173.1,203.6 L172.2,203.8 L171.2,202.9 L170.3,201.3 L169.3,202.1 L168.4,199.5 L167.4,202.1 L166.5,201.6 L165.5,200.7 L164.6,201.0 L163.6,201.4 L162.7,201.4 L161.7,202.6 L160.8,202.5 L159.8,203.8 L158.8,201.9 L157.9,203.4 L156.9,202.6 L156.0,203.9 L155.0,203.9 L154.1,202.5 L153.1,204.1 L152.2,203.5 L151.2,202.8 L150.3,202.8 L149.3,202.1 L148.4,201.4 L147.4,202.1 L146.5,201.5 L145.5,203.8 L144.6,203.6 L143.6,203.2 L142.7,201.2 L141.7,202.3 L140.8,202.7 L139.8,203.5 L138.9,203.3 L137.9,203.5 L137.0,204.1 L136.0,202.9 L135.0,203.6 L134.1,203.3 L133.1,203.6 L132.2,202.8 L131.2,201.7 L130.3,201.7 L129.3,201.9 L128.4,201.7 L127.4,201.7 L126.5,203.1 L125.5,203.7 L124.6,205.0 L123.6,202.9 L122.7,200.9 L121.7,200.0 L120.8,199.1 L119.8,198.9 L118.9,199.2 L117.9,198.4 L117.0,200.6 L116.0,202.1 L115.1,201.5 L114.1,203.0 L113.2,203.0 L112.2,204.2 L111.2,203.8 L110.3,204.9 L109.3,206.0 L108.4,204.8 L107.4,205.9 L106.5,205.0 L105.5,205.9 L104.6,207.5 L103.6,208.5 L102.7,207.0 L101.7,206.2 L100.8,206.9 L99.8,208.1 L98.9,210.1 L97.9,208.5 L97.0,208.3 L96.0,209.6 L95.1,210.6 L94.1,210.5 L93.2,212.7 L92.2,213.0 L91.3,214.5 L90.3,214.1 L89.4,214.9 L88.4,215.5 L87.4,216.9 L86.5,219.6 L85.5,220.4 L84.6,221.2Z" fill="rgba(122,72,184,0.3)"/>
<polyline points="58.9,204.4 59.8,204.6 60.8,205.7 61.7,206.8 62.7,207.4 63.6,207.7 64.6,208.0 65.6,207.2 66.5,206.6 67.5,205.3 68.4,204.5 69.4,203.8 70.3,203.9 71.3,204.7 72.2,205.3 73.2,205.7 74.1,206.5 75.1,206.5 76.0,206.5 77.0,206.6 77.9,206.5 78.9,206.7 79.8,206.0 80.8,205.2 81.7,205.1 82.7,205.1 83.6,205.8" fill="none" stroke="#000" stroke-width="2" stroke-linejoin="round"/>
<polyline points="83.6,205.8 84.6,205.4 85.5,205.2 86.5,203.4 87.4,203.5 88.4,203.9 89.4,201.7 90.3,201.9 91.3,200.6 92.2,201.0 93.2,199.7 94.1,198.2 95.1,197.7 96.0,196.6 97.0,195.1 97.9,194.7 98.9,193.5 99.8,191.7 100.8,192.6 101.7,191.3 102.7,190.6 103.6,190.6 104.6,189.4 105.5,188.8 106.5,188.8 107.4,188.7 108.4,188.9 109.3,189.5 110.3,188.9 111.2,189.0 112.2,189.1 113.2,188.4 114.1,188.8 115.1,188.5 116.0,189.5 117.0,189.8 117.9,189.7 118.9,189.1 119.8,189.6 120.8,189.5 121.7,190.3 122.7,190.3 123.6,190.0 124.6,190.9 125.5,191.3 126.5,190.9 127.4,191.7 128.4,191.4 129.3,191.3 130.3,191.6 131.2,191.4 132.2,191.5 133.1,191.8 134.1,192.8 135.0,193.1 136.0,192.2 137.0,192.7 137.9,192.0 138.9,191.8 139.8,192.0 140.8,191.8 141.7,192.9 142.7,192.2 143.6,191.1 144.6,191.9 145.5,191.5 146.5,191.5 147.4,190.1 148.4,191.6 149.3,192.4 150.3,192.7 151.2,192.7 152.2,193.1 153.1,192.2 154.1,192.3 155.0,191.3 156.0,190.9 156.9,191.4 157.9,191.3 158.8,190.1 159.8,190.4 160.8,190.1 161.7,189.4 162.7,189.6 163.6,189.1 164.6,188.0 165.5,187.6 166.5,189.1 167.4,188.3 168.4,188.8 169.3,189.4 170.3,189.8 171.2,189.1 172.2,189.4 173.1,189.9 174.1,190.6" fill="none" stroke="#8a2db5" stroke-width="1.8" stroke-linejoin="round"/>
<polyline points="83.6,205.8 84.6,206.3 85.5,206.1 86.5,206.2 87.4,206.2 88.4,207.4 89.4,207.2 90.3,206.7 91.3,205.3 92.2,204.3 93.2,203.2 94.1,202.6 95.1,201.9 96.0,200.8 97.0,199.3 97.9,198.0 98.9,198.3 99.8,197.1 100.8,196.0 101.7,196.1 102.7,195.5 103.6,194.4 104.6,192.9 105.5,193.1 106.5,191.7 107.4,191.5 108.4,191.7 109.3,191.6 110.3,191.9 111.2,192.9 112.2,193.4 113.2,193.4 114.1,193.0 115.1,192.7 116.0,193.3 117.0,193.4 117.9,194.9 118.9,196.0 119.8,197.3 120.8,196.4 121.7,194.9 122.7,193.8 123.6,192.6 124.6,194.2 125.5,195.8 126.5,197.6 127.4,197.5 128.4,197.1 129.3,196.5 130.3,196.2 131.2,196.2 132.2,194.6 133.1,193.9 134.1,192.9 135.0,193.7 136.0,193.7 137.0,193.2 137.9,191.7 138.9,191.6 139.8,191.2 140.8,191.0 141.7,190.6 142.7,190.6 143.6,190.1 144.6,190.5 145.5,190.2 146.5,189.7 147.4,189.5 148.4,189.1 149.3,189.3 150.3,188.7 151.2,188.5 152.2,187.9 153.1,186.9 154.1,188.0 155.0,187.8 156.0,188.7 156.9,189.2 157.9,188.5 158.8,188.6 159.8,188.6 160.8,188.3 161.7,188.0 162.7,188.7 163.6,188.5 164.6,188.7 165.5,188.3 166.5,188.5 167.4,188.0 168.4,188.1 169.3,188.5 170.3,188.4 171.2,188.2 172.2,187.8 173.1,188.3 174.1,188.6" fill="none" stroke="#0c7a2c" stroke-width="1.8" stroke-linejoin="round"/>
<polyline points="83.6,205.8 84.6,204.2 85.5,204.7 86.5,205.2 87.4,203.8 88.4,203.1 89.4,202.5 90.3,200.4 91.3,200.4 92.2,199.6 93.2,200.0 94.1,199.0 95.1,198.0 96.0,197.4 97.0,197.1 97.9,196.4 98.9,196.0 99.8,195.0 100.8,194.8 101.7,194.9 102.7,195.7 103.6,195.3 104.6,194.9 105.5,195.0 106.5,194.9 107.4,195.0 108.4,194.4 109.3,193.3 110.3,192.7 111.2,192.1 112.2,191.6 113.2,191.4 114.1,190.7 115.1,189.7 116.0,189.8 117.0,189.1 117.9,189.6 118.9,189.6 119.8,188.7 120.8,189.2 121.7,189.4 122.7,188.9 123.6,189.2 124.6,189.2 125.5,187.4 126.5,187.4 127.4,187.7 128.4,188.2 129.3,188.9 130.3,188.8 131.2,189.7 132.2,190.7 133.1,191.8 134.1,192.8 135.0,192.6 136.0,192.9 137.0,194.0 137.9,194.3 138.9,194.9 139.8,194.1 140.8,194.3 141.7,194.6 142.7,195.1 143.6,195.2 144.6,195.9 145.5,195.7 146.5,195.6 147.4,195.6 148.4,195.8 149.3,195.3 150.3,195.7 151.2,195.4 152.2,195.0 153.1,194.6 154.1,194.5 155.0,194.6 156.0,194.6 156.9,194.2 157.9,194.2 158.8,193.7 159.8,194.0 160.8,193.3 161.7,191.8 162.7,192.5 163.6,192.2 164.6,191.2 165.5,191.0 166.5,190.4 167.4,191.4 168.4,191.0 169.3,189.6 170.3,189.8 171.2,189.2 172.2,189.5 173.1,187.9 174.1,186.1" fill="none" stroke="#f26a12" stroke-width="1.8" stroke-linejoin="round"/>
</g>
<rect x="35.8" y="169.4" width="144.2" height="61.6" fill="none" stroke="#6e6e6e" stroke-width="1.1"/>
<line x1="40.8" y1="231.0" x2="40.8" y2="228.7" stroke="#6e6e6e" stroke-width="0.9"/>
<text x="40.8" y="240.5" font-size="7.5" text-anchor="middle" fill="#222" stroke="#222" stroke-width="0.1">1960</text>
<line x1="59.8" y1="231.0" x2="59.8" y2="228.7" stroke="#6e6e6e" stroke-width="0.9"/>
<text x="59.8" y="240.5" font-size="7.5" text-anchor="middle" fill="#222" stroke="#222" stroke-width="0.1">1980</text>
<line x1="78.9" y1="231.0" x2="78.9" y2="228.7" stroke="#6e6e6e" stroke-width="0.9"/>
<text x="78.9" y="240.5" font-size="7.5" text-anchor="middle" fill="#222" stroke="#222" stroke-width="0.1">2000</text>
<line x1="97.9" y1="231.0" x2="97.9" y2="228.7" stroke="#6e6e6e" stroke-width="0.9"/>
<text x="97.9" y="240.5" font-size="7.5" text-anchor="middle" fill="#222" stroke="#222" stroke-width="0.1">2020</text>
<line x1="117.0" y1="231.0" x2="117.0" y2="228.7" stroke="#6e6e6e" stroke-width="0.9"/>
<text x="117.0" y="240.5" font-size="7.5" text-anchor="middle" fill="#222" stroke="#222" stroke-width="0.1">2040</text>
<line x1="136.0" y1="231.0" x2="136.0" y2="228.7" stroke="#6e6e6e" stroke-width="0.9"/>
<text x="136.0" y="240.5" font-size="7.5" text-anchor="middle" fill="#222" stroke="#222" stroke-width="0.1">2060</text>
<line x1="155.0" y1="231.0" x2="155.0" y2="228.7" stroke="#6e6e6e" stroke-width="0.9"/>
<text x="155.0" y="240.5" font-size="7.5" text-anchor="middle" fill="#222" stroke="#222" stroke-width="0.1">2080</text>
<line x1="174.1" y1="231.0" x2="174.1" y2="228.7" stroke="#6e6e6e" stroke-width="0.9"/>
<text x="174.1" y="240.5" font-size="7.5" text-anchor="middle" fill="#222" stroke="#222" stroke-width="0.1">2100</text>
<line x1="35.8" y1="172.3" x2="38.099999999999994" y2="172.3" stroke="#6e6e6e" stroke-width="0.9"/>
<text x="31.6" y="174.9" font-size="7.5" text-anchor="end" fill="#222" stroke="#222" stroke-width="0.1">15</text>
<line x1="35.8" y1="183.6" x2="38.099999999999994" y2="183.6" stroke="#6e6e6e" stroke-width="0.9"/>
<text x="31.6" y="186.1" font-size="7.5" text-anchor="end" fill="#222" stroke="#222" stroke-width="0.1">10</text>
<line x1="35.8" y1="194.8" x2="38.099999999999994" y2="194.8" stroke="#6e6e6e" stroke-width="0.9"/>
<text x="31.6" y="197.4" font-size="7.5" text-anchor="end" fill="#222" stroke="#222" stroke-width="0.1">5</text>
<line x1="35.8" y1="206.1" x2="38.099999999999994" y2="206.1" stroke="#6e6e6e" stroke-width="0.9"/>
<text x="31.6" y="208.6" font-size="7.5" text-anchor="end" fill="#222" stroke="#222" stroke-width="0.1">0</text>
<line x1="35.8" y1="217.3" x2="38.099999999999994" y2="217.3" stroke="#6e6e6e" stroke-width="0.9"/>
<text x="31.6" y="219.9" font-size="7.5" text-anchor="end" fill="#222" stroke="#222" stroke-width="0.1">-5</text>
<line x1="35.8" y1="228.6" x2="38.099999999999994" y2="228.6" stroke="#6e6e6e" stroke-width="0.9"/>
<text x="31.6" y="231.2" font-size="7.5" text-anchor="end" fill="#222" stroke="#222" stroke-width="0.1">-10</text>
<text transform="translate(10.4,200.2) rotate(-90)" font-size="7.2" text-anchor="middle" fill="#333">Annual Pr Anomaly</text>
<text transform="translate(21.2,200.2) rotate(-90)" font-size="7.2" text-anchor="middle" fill="#333">(mm)</text>
<text x="42.5" y="179.2" font-size="7.8" fill="#1f8a52">0.45/10a</text>
<text x="42.5" y="188.1" font-size="7.8" fill="#f5782a">0.20/10a</text>
<text x="42.5" y="196.9" font-size="7.8" fill="#9148c2">0.06/10a</text>
<text x="43.4" y="226.7" font-size="11" fill="#222">(c)</text>
<text x="175.8" y="226.4" font-size="10" text-anchor="end" fill="#111">JJA</text>
</g>
<g>
<clipPath id="cd"><rect x="35.8" y="243.4" width="144.2" height="61.9"/></clipPath>
<g clip-path="url(#cd)">
<path d="M58.9,272.4 L59.8,272.2 L60.8,271.3 L61.7,270.8 L62.7,272.1 L63.6,272.5 L64.6,272.4 L65.6,272.1 L66.5,272.1 L67.5,272.2 L68.4,272.1 L69.4,271.8 L70.3,273.3 L71.3,273.1 L72.2,272.5 L73.2,271.7 L74.1,271.6 L75.1,272.4 L76.0,273.0 L77.0,272.7 L77.9,272.7 L78.9,272.6 L79.8,272.0 L80.8,273.1 L81.7,273.2 L82.7,274.5 L83.6,273.4 L83.6,290.9 L82.7,290.8 L81.7,290.4 L80.8,290.2 L79.8,290.6 L78.9,289.8 L77.9,289.4 L77.0,288.6 L76.0,288.9 L75.1,289.7 L74.1,290.1 L73.2,290.1 L72.2,290.3 L71.3,290.0 L70.3,289.7 L69.4,289.9 L68.4,289.9 L67.5,289.9 L66.5,289.3 L65.6,288.4 L64.6,288.2 L63.6,287.6 L62.7,286.9 L61.7,286.9 L60.8,287.5 L59.8,287.6 L58.9,286.9Z" fill="#e8e8e8"/>
<path d="M84.6,267.8 L85.5,267.8 L86.5,266.8 L87.4,267.4 L88.4,268.2 L89.4,267.2 L90.3,267.7 L91.3,266.8 L92.2,267.1 L93.2,266.4 L94.1,265.9 L95.1,266.6 L96.0,267.2 L97.0,267.8 L97.9,267.5 L98.9,267.2 L99.8,267.9 L100.8,267.3 L101.7,267.2 L102.7,265.9 L103.6,266.4 L104.6,266.9 L105.5,267.2 L106.5,268.0 L107.4,268.1 L108.4,267.8 L109.3,267.8 L110.3,267.9 L111.2,267.1 L112.2,266.1 L113.2,267.7 L114.1,267.2 L115.1,266.0 L116.0,266.2 L117.0,265.5 L117.9,264.5 L118.9,265.0 L119.8,265.9 L120.8,266.8 L121.7,268.0 L122.7,267.7 L123.6,266.5 L124.6,265.4 L125.5,265.2 L126.5,264.3 L127.4,264.5 L128.4,264.7 L129.3,265.8 L130.3,264.6 L131.2,265.4 L132.2,265.1 L133.1,264.5 L134.1,264.5 L135.0,263.6 L136.0,264.6 L137.0,264.7 L137.9,264.1 L138.9,263.8 L139.8,263.1 L140.8,262.6 L141.7,261.7 L142.7,262.2 L143.6,260.7 L144.6,260.9 L145.5,261.4 L146.5,261.4 L147.4,259.6 L148.4,259.7 L149.3,259.5 L150.3,259.6 L151.2,259.5 L152.2,260.1 L153.1,261.0 L154.1,261.4 L155.0,261.0 L156.0,259.5 L156.9,259.1 L157.9,259.1 L158.8,260.1 L159.8,260.7 L160.8,262.4 L161.7,264.5 L162.7,266.0 L163.6,266.7 L164.6,266.2 L165.5,265.3 L166.5,264.6 L167.4,264.5 L168.4,264.7 L169.3,263.7 L170.3,263.7 L171.2,262.9 L172.2,265.4 L173.1,264.7 L174.1,264.4 L174.1,284.5 L173.1,283.8 L172.2,285.8 L171.2,283.6 L170.3,284.7 L169.3,283.8 L168.4,284.9 L167.4,284.2 L166.5,284.5 L165.5,286.6 L164.6,284.2 L163.6,286.4 L162.7,286.6 L161.7,286.3 L160.8,286.2 L159.8,285.2 L158.8,281.9 L157.9,282.0 L156.9,281.1 L156.0,278.4 L155.0,279.2 L154.1,279.5 L153.1,277.9 L152.2,278.1 L151.2,277.6 L150.3,279.0 L149.3,278.7 L148.4,279.6 L147.4,280.3 L146.5,280.8 L145.5,281.3 L144.6,280.9 L143.6,281.2 L142.7,281.1 L141.7,281.7 L140.8,281.8 L139.8,282.0 L138.9,282.2 L137.9,283.5 L137.0,284.0 L136.0,283.6 L135.0,285.1 L134.1,284.3 L133.1,283.1 L132.2,283.3 L131.2,283.6 L130.3,284.1 L129.3,286.2 L128.4,287.2 L127.4,285.9 L126.5,286.2 L125.5,286.1 L124.6,285.4 L123.6,284.1 L122.7,283.7 L121.7,284.3 L120.8,286.3 L119.8,287.2 L118.9,287.3 L117.9,286.5 L117.0,284.2 L116.0,285.8 L115.1,285.1 L114.1,286.3 L113.2,286.7 L112.2,286.5 L111.2,285.3 L110.3,285.3 L109.3,286.8 L108.4,286.7 L107.4,287.4 L106.5,289.0 L105.5,287.9 L104.6,289.1 L103.6,287.8 L102.7,289.3 L101.7,289.3 L100.8,291.2 L99.8,289.4 L98.9,288.7 L97.9,289.2 L97.0,289.2 L96.0,291.4 L95.1,291.8 L94.1,291.4 L93.2,290.8 L92.2,292.2 L91.3,293.3 L90.3,292.4 L89.4,292.9 L88.4,293.1 L87.4,293.1 L86.5,292.0 L85.5,293.1 L84.6,294.1Z" fill="rgba(118,198,118,0.22)"/>
<path d="M84.6,267.8 L85.5,267.7 L86.5,266.8 L87.4,267.3 L88.4,267.9 L89.4,266.9 L90.3,268.4 L91.3,267.7 L92.2,267.4 L93.2,266.9 L94.1,267.0 L95.1,267.3 L96.0,265.9 L97.0,266.8 L97.9,266.9 L98.9,267.4 L99.8,266.6 L100.8,265.6 L101.7,265.5 L102.7,265.8 L103.6,266.3 L104.6,265.9 L105.5,266.5 L106.5,266.9 L107.4,266.6 L108.4,265.3 L109.3,265.8 L110.3,265.5 L111.2,265.8 L112.2,265.1 L113.2,265.9 L114.1,267.1 L115.1,265.6 L116.0,265.0 L117.0,263.9 L117.9,264.6 L118.9,265.4 L119.8,265.7 L120.8,265.1 L121.7,264.5 L122.7,266.3 L123.6,265.0 L124.6,265.3 L125.5,265.2 L126.5,265.4 L127.4,265.5 L128.4,264.2 L129.3,266.0 L130.3,265.7 L131.2,265.7 L132.2,267.4 L133.1,267.8 L134.1,267.4 L135.0,266.6 L136.0,268.1 L137.0,268.7 L137.9,268.6 L138.9,267.8 L139.8,267.8 L140.8,267.2 L141.7,268.2 L142.7,269.1 L143.6,268.6 L144.6,268.4 L145.5,269.1 L146.5,269.4 L147.4,268.4 L148.4,269.1 L149.3,269.7 L150.3,268.6 L151.2,268.2 L152.2,267.6 L153.1,267.8 L154.1,266.9 L155.0,266.7 L156.0,266.1 L156.9,266.2 L157.9,265.2 L158.8,264.5 L159.8,262.7 L160.8,262.2 L161.7,262.7 L162.7,263.0 L163.6,262.7 L164.6,262.8 L165.5,261.6 L166.5,260.9 L167.4,261.7 L168.4,261.7 L169.3,261.2 L170.3,262.7 L171.2,262.0 L172.2,262.5 L173.1,262.7 L174.1,262.3 L174.1,281.9 L173.1,282.0 L172.2,284.5 L171.2,283.1 L170.3,283.2 L169.3,283.1 L168.4,283.8 L167.4,281.7 L166.5,281.4 L165.5,283.7 L164.6,281.2 L163.6,282.2 L162.7,283.9 L161.7,282.7 L160.8,284.3 L159.8,286.1 L158.8,283.9 L157.9,285.9 L156.9,285.5 L156.0,284.8 L155.0,283.9 L154.1,285.1 L153.1,284.6 L152.2,285.7 L151.2,285.5 L150.3,287.1 L149.3,287.3 L148.4,287.0 L147.4,288.0 L146.5,287.2 L145.5,287.5 L144.6,287.5 L143.6,287.1 L142.7,287.3 L141.7,287.5 L140.8,286.8 L139.8,286.2 L138.9,286.0 L137.9,286.4 L137.0,285.2 L136.0,285.7 L135.0,288.0 L134.1,286.1 L133.1,285.3 L132.2,285.4 L131.2,285.5 L130.3,285.2 L129.3,284.7 L128.4,286.3 L127.4,284.6 L126.5,285.0 L125.5,285.5 L124.6,285.2 L123.6,282.5 L122.7,282.8 L121.7,281.7 L120.8,284.5 L119.8,285.5 L118.9,285.4 L117.9,285.1 L117.0,283.9 L116.0,285.5 L115.1,284.5 L114.1,287.0 L113.2,286.1 L112.2,285.0 L111.2,283.8 L110.3,284.7 L109.3,285.6 L108.4,285.8 L107.4,287.6 L106.5,288.1 L105.5,287.3 L104.6,288.6 L103.6,287.9 L102.7,287.6 L101.7,287.2 L100.8,289.6 L99.8,288.6 L98.9,289.3 L97.9,288.6 L97.0,288.8 L96.0,291.0 L95.1,291.8 L94.1,291.2 L93.2,290.3 L92.2,291.4 L91.3,292.3 L90.3,291.0 L89.4,291.6 L88.4,292.0 L87.4,292.0 L86.5,291.2 L85.5,292.1 L84.6,292.9Z" fill="rgba(245,145,58,0.3)"/>
<path d="M84.6,267.8 L85.5,267.7 L86.5,266.8 L87.4,267.1 L88.4,267.5 L89.4,266.5 L90.3,267.5 L91.3,266.3 L92.2,265.6 L93.2,265.0 L94.1,264.2 L95.1,264.4 L96.0,264.2 L97.0,265.1 L97.9,264.7 L98.9,264.3 L99.8,263.4 L100.8,262.1 L101.7,262.2 L102.7,261.6 L103.6,262.4 L104.6,262.0 L105.5,262.9 L106.5,262.5 L107.4,262.3 L108.4,261.6 L109.3,261.1 L110.3,261.1 L111.2,261.1 L112.2,259.8 L113.2,259.8 L114.1,261.2 L115.1,259.9 L116.0,258.9 L117.0,258.0 L117.9,256.9 L118.9,258.2 L119.8,258.0 L120.8,258.0 L121.7,259.1 L122.7,260.0 L123.6,258.0 L124.6,258.3 L125.5,258.1 L126.5,257.8 L127.4,257.6 L128.4,257.1 L129.3,258.0 L130.3,257.6 L131.2,257.2 L132.2,257.6 L133.1,257.6 L134.1,257.3 L135.0,257.1 L136.0,257.9 L137.0,257.5 L137.9,256.9 L138.9,256.0 L139.8,255.9 L140.8,255.2 L141.7,255.6 L142.7,255.9 L143.6,254.4 L144.6,255.0 L145.5,255.7 L146.5,255.6 L147.4,254.6 L148.4,255.5 L149.3,254.5 L150.3,253.5 L151.2,253.0 L152.2,253.3 L153.1,254.1 L154.1,254.5 L155.0,253.9 L156.0,252.5 L156.9,252.1 L157.9,251.6 L158.8,251.7 L159.8,250.5 L160.8,251.2 L161.7,251.9 L162.7,251.6 L163.6,251.8 L164.6,250.9 L165.5,250.0 L166.5,250.1 L167.4,251.3 L168.4,251.8 L169.3,250.9 L170.3,251.6 L171.2,250.8 L172.2,251.6 L173.1,251.2 L174.1,250.3 L174.1,275.4 L173.1,276.1 L172.2,277.4 L171.2,276.9 L170.3,276.3 L169.3,275.7 L168.4,276.2 L167.4,273.8 L166.5,274.5 L165.5,276.4 L164.6,274.5 L163.6,274.9 L162.7,276.0 L161.7,276.9 L160.8,278.7 L159.8,279.7 L158.8,278.4 L157.9,279.1 L156.9,277.5 L156.0,277.3 L155.0,276.1 L154.1,276.6 L153.1,275.4 L152.2,276.0 L151.2,276.6 L150.3,276.8 L149.3,277.6 L148.4,277.5 L147.4,277.4 L146.5,277.7 L145.5,278.3 L144.6,278.3 L143.6,278.8 L142.7,278.2 L141.7,278.8 L140.8,278.7 L139.8,278.3 L138.9,279.1 L137.9,278.7 L137.0,279.5 L136.0,279.1 L135.0,282.3 L134.1,280.6 L133.1,280.7 L132.2,281.2 L131.2,282.2 L130.3,282.1 L129.3,283.5 L128.4,285.8 L127.4,283.7 L126.5,283.4 L125.5,283.4 L124.6,282.4 L123.6,281.3 L122.7,282.0 L121.7,281.5 L120.8,283.3 L119.8,283.7 L118.9,283.5 L117.9,283.9 L117.0,282.1 L116.0,283.5 L115.1,282.8 L114.1,284.6 L113.2,285.7 L112.2,284.4 L111.2,282.6 L110.3,283.3 L109.3,283.8 L108.4,284.5 L107.4,285.8 L106.5,286.7 L105.5,286.4 L104.6,287.9 L103.6,286.6 L102.7,286.4 L101.7,286.5 L100.8,288.8 L99.8,288.7 L98.9,289.1 L97.9,288.6 L97.0,288.8 L96.0,290.8 L95.1,291.3 L94.1,290.3 L93.2,290.2 L92.2,291.1 L91.3,292.5 L90.3,291.4 L89.4,291.9 L88.4,292.0 L87.4,292.0 L86.5,291.2 L85.5,292.1 L84.6,292.9Z" fill="rgba(122,72,184,0.3)"/>
<polyline points="58.9,278.9 59.8,279.1 60.8,279.5 61.7,278.9 62.7,279.5 63.6,279.7 64.6,280.0 65.6,280.1 66.5,279.9 67.5,279.9 68.4,280.3 69.4,280.8 70.3,281.0 71.3,281.3 72.2,282.3 73.2,282.6 74.1,283.7 75.1,283.9 76.0,283.3 77.0,283.3 77.9,283.5 78.9,282.7 79.8,282.8 80.8,282.3 81.7,282.3 82.7,281.8 83.6,280.9" fill="none" stroke="#000" stroke-width="2" stroke-linejoin="round"/>
<polyline points="83.6,280.9 84.6,280.8 85.5,280.6 86.5,280.2 87.4,279.7 88.4,280.2 89.4,279.8 90.3,279.6 91.3,278.7 92.2,278.1 93.2,278.1 94.1,277.2 95.1,276.3 96.0,276.2 97.0,276.9 97.9,276.5 98.9,276.8 99.8,275.8 100.8,275.1 101.7,273.9 102.7,273.6 103.6,274.5 104.6,274.1 105.5,274.0 106.5,273.8 107.4,273.2 108.4,272.9 109.3,272.8 110.3,273.0 111.2,273.0 112.2,272.9 113.2,272.7 114.1,271.9 115.1,271.8 116.0,271.3 117.0,272.2 117.9,270.7 118.9,271.1 119.8,272.8 120.8,272.0 121.7,271.1 122.7,271.3 123.6,272.0 124.6,271.5 125.5,271.5 126.5,271.2 127.4,270.7 128.4,272.4 129.3,271.2 130.3,270.1 131.2,269.4 132.2,269.4 133.1,269.3 134.1,269.4 135.0,269.0 136.0,267.8 137.0,268.3 137.9,267.9 138.9,267.7 139.8,266.8 140.8,266.8 141.7,266.7 142.7,266.9 143.6,266.1 144.6,266.5 145.5,266.7 146.5,266.0 147.4,265.8 148.4,265.5 149.3,266.3 150.3,264.7 151.2,265.0 152.2,264.3 153.1,264.6 154.1,265.4 155.0,264.9 156.0,265.3 156.9,265.0 157.9,266.6 158.8,266.9 159.8,267.2 160.8,265.6 161.7,264.1 162.7,264.2 163.6,263.0 164.6,262.8 165.5,263.5 166.5,263.2 167.4,264.4 168.4,264.9 169.3,265.6 170.3,264.6 171.2,264.5 172.2,263.5 173.1,263.8 174.1,263.7" fill="none" stroke="#8a2db5" stroke-width="1.8" stroke-linejoin="round"/>
<polyline points="83.6,280.9 84.6,281.0 85.5,280.2 86.5,280.5 87.4,280.3 88.4,280.3 89.4,280.6 90.3,280.5 91.3,279.9 92.2,279.2 93.2,277.8 94.1,277.4 95.1,277.1 96.0,276.4 97.0,276.4 97.9,275.8 98.9,276.9 99.8,277.7 100.8,276.6 101.7,276.4 102.7,275.8 103.6,276.2 104.6,275.9 105.5,275.4 106.5,275.1 107.4,275.2 108.4,274.5 109.3,275.2 110.3,274.7 111.2,275.1 112.2,274.9 113.2,275.3 114.1,274.8 115.1,275.1 116.0,274.1 117.0,274.6 117.9,274.5 118.9,274.8 119.8,274.9 120.8,275.6 121.7,274.0 122.7,274.2 123.6,273.1 124.6,273.9 125.5,272.3 126.5,271.9 127.4,271.3 128.4,272.9 129.3,272.0 130.3,272.3 131.2,272.0 132.2,271.1 133.1,271.4 134.1,272.0 135.0,271.8 136.0,272.2 137.0,271.6 137.9,271.3 138.9,270.8 139.8,270.7 140.8,271.5 141.7,270.8 142.7,270.2 143.6,269.3 144.6,268.6 145.5,269.4 146.5,268.1 147.4,267.4 148.4,267.5 149.3,267.3 150.3,268.5 151.2,266.5 152.2,267.0 153.1,267.4 154.1,266.8 155.0,267.0 156.0,267.9 156.9,269.2 157.9,268.5 158.8,268.2 159.8,270.4 160.8,272.4 161.7,273.0 162.7,272.1 163.6,273.6 164.6,273.3 165.5,274.0 166.5,273.6 167.4,273.2 168.4,272.6 169.3,273.1 170.3,273.1 171.2,270.9 172.2,270.9 173.1,272.6 174.1,272.3" fill="none" stroke="#0c7a2c" stroke-width="1.8" stroke-linejoin="round"/>
<polyline points="83.6,280.9 84.6,280.4 85.5,280.5 86.5,280.4 87.4,279.9 88.4,279.7 89.4,279.3 90.3,279.5 91.3,278.7 92.2,278.4 93.2,278.0 94.1,278.4 95.1,277.9 96.0,277.2 97.0,277.0 97.9,276.7 98.9,276.8 99.8,276.3 100.8,276.7 101.7,276.4 102.7,275.6 103.6,274.8 104.6,275.1 105.5,275.0 106.5,274.5 107.4,273.4 108.4,272.6 109.3,273.3 110.3,273.8 111.2,274.0 112.2,272.9 113.2,273.7 114.1,273.3 115.1,273.6 116.0,273.8 117.0,273.3 117.9,273.2 118.9,272.2 119.8,272.3 120.8,271.9 121.7,272.8 122.7,273.1 123.6,273.7 124.6,273.7 125.5,273.1 126.5,273.4 127.4,273.1 128.4,273.6 129.3,273.8 130.3,273.2 131.2,273.6 132.2,273.9 133.1,273.9 134.1,274.7 135.0,275.8 136.0,275.3 137.0,275.3 137.9,274.4 138.9,275.2 139.8,275.4 140.8,274.5 141.7,275.4 142.7,276.0 143.6,275.6 144.6,275.6 145.5,275.2 146.5,276.0 147.4,275.2 148.4,275.4 149.3,276.7 150.3,276.2 151.2,275.9 152.2,275.3 153.1,274.3 154.1,274.2 155.0,274.3 156.0,273.2 156.9,273.2 157.9,273.4 158.8,273.2 159.8,271.4 160.8,270.6 161.7,269.6 162.7,270.3 163.6,270.2 164.6,270.5 165.5,270.0 166.5,269.8 167.4,270.5 168.4,271.1 169.3,271.0 170.3,270.8 171.2,270.8 172.2,270.3 173.1,269.2 174.1,267.8" fill="none" stroke="#f26a12" stroke-width="1.8" stroke-linejoin="round"/>
</g>
<rect x="35.8" y="243.4" width="144.2" height="61.9" fill="none" stroke="#6e6e6e" stroke-width="1.1"/>
<line x1="40.8" y1="305.3" x2="40.8" y2="303.0" stroke="#6e6e6e" stroke-width="0.9"/>
<text x="40.8" y="314.8" font-size="7.5" text-anchor="middle" fill="#222" stroke="#222" stroke-width="0.1">1960</text>
<line x1="59.8" y1="305.3" x2="59.8" y2="303.0" stroke="#6e6e6e" stroke-width="0.9"/>
<text x="59.8" y="314.8" font-size="7.5" text-anchor="middle" fill="#222" stroke="#222" stroke-width="0.1">1980</text>
<line x1="78.9" y1="305.3" x2="78.9" y2="303.0" stroke="#6e6e6e" stroke-width="0.9"/>
<text x="78.9" y="314.8" font-size="7.5" text-anchor="middle" fill="#222" stroke="#222" stroke-width="0.1">2000</text>
<line x1="97.9" y1="305.3" x2="97.9" y2="303.0" stroke="#6e6e6e" stroke-width="0.9"/>
<text x="97.9" y="314.8" font-size="7.5" text-anchor="middle" fill="#222" stroke="#222" stroke-width="0.1">2020</text>
<line x1="117.0" y1="305.3" x2="117.0" y2="303.0" stroke="#6e6e6e" stroke-width="0.9"/>
<text x="117.0" y="314.8" font-size="7.5" text-anchor="middle" fill="#222" stroke="#222" stroke-width="0.1">2040</text>
<line x1="136.0" y1="305.3" x2="136.0" y2="303.0" stroke="#6e6e6e" stroke-width="0.9"/>
<text x="136.0" y="314.8" font-size="7.5" text-anchor="middle" fill="#222" stroke="#222" stroke-width="0.1">2060</text>
<line x1="155.0" y1="305.3" x2="155.0" y2="303.0" stroke="#6e6e6e" stroke-width="0.9"/>
<text x="155.0" y="314.8" font-size="7.5" text-anchor="middle" fill="#222" stroke="#222" stroke-width="0.1">2080</text>
<line x1="174.1" y1="305.3" x2="174.1" y2="303.0" stroke="#6e6e6e" stroke-width="0.9"/>
<text x="174.1" y="314.8" font-size="7.5" text-anchor="middle" fill="#222" stroke="#222" stroke-width="0.1">2100</text>
<line x1="35.8" y1="246.3" x2="38.099999999999994" y2="246.3" stroke="#6e6e6e" stroke-width="0.9"/>
<text x="31.6" y="248.9" font-size="7.5" text-anchor="end" fill="#222" stroke="#222" stroke-width="0.1">15</text>
<line x1="35.8" y1="257.6" x2="38.099999999999994" y2="257.6" stroke="#6e6e6e" stroke-width="0.9"/>
<text x="31.6" y="260.2" font-size="7.5" text-anchor="end" fill="#222" stroke="#222" stroke-width="0.1">10</text>
<line x1="35.8" y1="268.9" x2="38.099999999999994" y2="268.9" stroke="#6e6e6e" stroke-width="0.9"/>
<text x="31.6" y="271.5" font-size="7.5" text-anchor="end" fill="#222" stroke="#222" stroke-width="0.1">5</text>
<line x1="35.8" y1="280.3" x2="38.099999999999994" y2="280.3" stroke="#6e6e6e" stroke-width="0.9"/>
<text x="31.6" y="282.8" font-size="7.5" text-anchor="end" fill="#222" stroke="#222" stroke-width="0.1">0</text>
<line x1="35.8" y1="291.6" x2="38.099999999999994" y2="291.6" stroke="#6e6e6e" stroke-width="0.9"/>
<text x="31.6" y="294.1" font-size="7.5" text-anchor="end" fill="#222" stroke="#222" stroke-width="0.1">-5</text>
<line x1="35.8" y1="302.9" x2="38.099999999999994" y2="302.9" stroke="#6e6e6e" stroke-width="0.9"/>
<text x="31.6" y="305.5" font-size="7.5" text-anchor="end" fill="#222" stroke="#222" stroke-width="0.1">-10</text>
<text transform="translate(10.4,274.4) rotate(-90)" font-size="7.2" text-anchor="middle" fill="#333">Annual Pr Anomaly</text>
<text transform="translate(21.2,274.4) rotate(-90)" font-size="7.2" text-anchor="middle" fill="#333">(mm)</text>
<text x="42.5" y="253.2" font-size="7.8" fill="#1f8a52">0.42/10a</text>
<text x="42.5" y="262.1" font-size="7.8" fill="#f5782a">0.27/10a</text>
<text x="42.5" y="270.9" font-size="7.8" fill="#9148c2">0.68/10a</text>
<text x="43.4" y="301.0" font-size="11" fill="#222">(d)</text>
<text x="175.8" y="300.7" font-size="10" text-anchor="end" fill="#111">SON</text>
</g>
<g>
<clipPath id="ce"><rect x="35.8" y="317.4" width="144.2" height="61.8"/></clipPath>
<g clip-path="url(#ce)">
<path d="M58.9,353.4 L59.8,353.8 L60.8,353.7 L61.7,354.3 L62.7,354.8 L63.6,354.5 L64.6,354.6 L65.6,353.9 L66.5,354.5 L67.5,355.2 L68.4,354.9 L69.4,355.7 L70.3,354.5 L71.3,353.9 L72.2,353.8 L73.2,354.2 L74.1,354.8 L75.1,355.1 L76.0,355.3 L77.0,355.8 L77.9,355.6 L78.9,355.0 L79.8,354.7 L80.8,356.3 L81.7,355.0 L82.7,355.3 L83.6,356.4 L83.6,370.0 L82.7,369.3 L81.7,370.1 L80.8,370.3 L79.8,371.2 L78.9,370.4 L77.9,370.3 L77.0,370.3 L76.0,370.9 L75.1,370.6 L74.1,371.8 L73.2,370.7 L72.2,370.9 L71.3,370.9 L70.3,369.9 L69.4,369.3 L68.4,370.2 L67.5,370.7 L66.5,370.1 L65.6,369.5 L64.6,369.3 L63.6,368.7 L62.7,369.4 L61.7,368.7 L60.8,367.9 L59.8,367.6 L58.9,368.1Z" fill="#e8e8e8"/>
<path d="M84.6,353.0 L85.5,352.0 L86.5,351.8 L87.4,352.9 L88.4,352.8 L89.4,353.1 L90.3,352.4 L91.3,352.0 L92.2,351.4 L93.2,352.0 L94.1,352.4 L95.1,352.8 L96.0,351.1 L97.0,350.2 L97.9,349.3 L98.9,349.7 L99.8,351.0 L100.8,351.7 L101.7,351.5 L102.7,351.0 L103.6,351.1 L104.6,350.7 L105.5,349.6 L106.5,349.4 L107.4,348.0 L108.4,348.3 L109.3,349.1 L110.3,348.4 L111.2,347.7 L112.2,347.9 L113.2,347.7 L114.1,347.1 L115.1,347.0 L116.0,345.8 L117.0,345.9 L117.9,345.8 L118.9,345.0 L119.8,344.9 L120.8,345.7 L121.7,346.0 L122.7,345.7 L123.6,345.9 L124.6,345.9 L125.5,345.4 L126.5,344.4 L127.4,344.5 L128.4,344.2 L129.3,344.1 L130.3,343.0 L131.2,344.4 L132.2,343.9 L133.1,343.2 L134.1,344.8 L135.0,345.2 L136.0,344.8 L137.0,345.5 L137.9,345.5 L138.9,345.4 L139.8,345.3 L140.8,345.8 L141.7,345.7 L142.7,344.5 L143.6,345.1 L144.6,344.1 L145.5,344.7 L146.5,346.4 L147.4,346.0 L148.4,344.8 L149.3,344.5 L150.3,345.8 L151.2,345.6 L152.2,345.5 L153.1,345.8 L154.1,345.4 L155.0,346.7 L156.0,346.2 L156.9,346.9 L157.9,346.5 L158.8,346.9 L159.8,347.1 L160.8,347.7 L161.7,348.2 L162.7,348.0 L163.6,349.9 L164.6,350.2 L165.5,349.4 L166.5,348.3 L167.4,349.4 L168.4,348.4 L169.3,348.8 L170.3,349.7 L171.2,348.3 L172.2,348.0 L173.1,347.2 L174.1,346.7 L174.1,359.4 L173.1,359.2 L172.2,360.1 L171.2,360.8 L170.3,360.8 L169.3,359.4 L168.4,359.8 L167.4,361.1 L166.5,360.4 L165.5,360.9 L164.6,359.5 L163.6,359.8 L162.7,359.5 L161.7,359.2 L160.8,358.5 L159.8,358.2 L158.8,358.1 L157.9,358.3 L156.9,358.9 L156.0,359.7 L155.0,359.5 L154.1,360.8 L153.1,362.0 L152.2,359.4 L151.2,360.6 L150.3,360.5 L149.3,359.6 L148.4,360.1 L147.4,360.3 L146.5,360.8 L145.5,360.8 L144.6,361.3 L143.6,361.5 L142.7,360.5 L141.7,360.1 L140.8,359.9 L139.8,359.8 L138.9,360.2 L137.9,360.8 L137.0,361.8 L136.0,361.4 L135.0,360.9 L134.1,361.6 L133.1,359.2 L132.2,359.4 L131.2,359.4 L130.3,361.2 L129.3,361.1 L128.4,360.8 L127.4,359.9 L126.5,359.6 L125.5,358.2 L124.6,358.4 L123.6,358.4 L122.7,358.8 L121.7,360.5 L120.8,361.8 L119.8,361.5 L118.9,360.2 L117.9,361.4 L117.0,361.5 L116.0,362.5 L115.1,362.8 L114.1,363.2 L113.2,363.7 L112.2,365.3 L111.2,366.4 L110.3,366.4 L109.3,367.1 L108.4,366.0 L107.4,366.3 L106.5,368.1 L105.5,368.1 L104.6,368.5 L103.6,369.5 L102.7,368.3 L101.7,368.3 L100.8,368.2 L99.8,369.1 L98.9,370.7 L97.9,370.6 L97.0,370.8 L96.0,370.2 L95.1,370.4 L94.1,371.1 L93.2,371.5 L92.2,372.5 L91.3,373.5 L90.3,373.2 L89.4,373.9 L88.4,373.7 L87.4,374.3 L86.5,374.6 L85.5,374.1 L84.6,374.4Z" fill="rgba(118,198,118,0.22)"/>
<path d="M84.6,353.0 L85.5,352.0 L86.5,352.0 L87.4,352.9 L88.4,352.3 L89.4,352.5 L90.3,352.9 L91.3,352.2 L92.2,351.7 L93.2,352.2 L94.1,351.0 L95.1,351.6 L96.0,350.4 L97.0,350.0 L97.9,349.3 L98.9,349.2 L99.8,351.1 L100.8,350.7 L101.7,350.7 L102.7,350.5 L103.6,350.3 L104.6,350.9 L105.5,349.7 L106.5,349.8 L107.4,349.2 L108.4,349.3 L109.3,350.7 L110.3,350.0 L111.2,349.5 L112.2,350.2 L113.2,349.4 L114.1,349.8 L115.1,348.8 L116.0,348.1 L117.0,347.4 L117.9,348.1 L118.9,347.4 L119.8,346.7 L120.8,348.1 L121.7,347.5 L122.7,346.6 L123.6,347.2 L124.6,346.9 L125.5,346.4 L126.5,346.3 L127.4,345.0 L128.4,345.6 L129.3,345.3 L130.3,345.4 L131.2,345.6 L132.2,345.1 L133.1,344.8 L134.1,344.8 L135.0,345.9 L136.0,344.9 L137.0,345.1 L137.9,344.3 L138.9,341.9 L139.8,342.0 L140.8,342.9 L141.7,343.2 L142.7,343.2 L143.6,344.7 L144.6,344.4 L145.5,343.6 L146.5,344.6 L147.4,344.3 L148.4,343.4 L149.3,342.1 L150.3,343.3 L151.2,343.3 L152.2,342.8 L153.1,343.0 L154.1,343.3 L155.0,344.1 L156.0,343.3 L156.9,343.8 L157.9,343.7 L158.8,343.3 L159.8,342.9 L160.8,343.1 L161.7,342.7 L162.7,343.6 L163.6,343.3 L164.6,342.7 L165.5,343.8 L166.5,343.1 L167.4,342.3 L168.4,341.3 L169.3,340.9 L170.3,341.3 L171.2,340.7 L172.2,340.0 L173.1,339.0 L174.1,339.0 L174.1,350.0 L173.1,350.4 L172.2,351.3 L171.2,351.9 L170.3,352.0 L169.3,351.9 L168.4,352.5 L167.4,354.2 L166.5,353.4 L165.5,355.1 L164.6,355.2 L163.6,354.8 L162.7,355.4 L161.7,354.6 L160.8,353.4 L159.8,353.5 L158.8,353.4 L157.9,354.8 L156.9,355.4 L156.0,356.5 L155.0,356.8 L154.1,356.6 L153.1,358.1 L152.2,356.5 L151.2,356.2 L150.3,357.7 L149.3,357.9 L148.4,358.2 L147.4,358.7 L146.5,358.2 L145.5,359.1 L144.6,360.2 L143.6,360.3 L142.7,360.0 L141.7,358.4 L140.8,358.7 L139.8,359.9 L138.9,361.3 L137.9,360.7 L137.0,362.5 L136.0,361.6 L135.0,359.8 L134.1,361.0 L133.1,358.8 L132.2,359.9 L131.2,360.0 L130.3,361.4 L129.3,361.7 L128.4,361.8 L127.4,362.4 L126.5,361.0 L125.5,360.2 L124.6,360.9 L123.6,361.4 L122.7,362.1 L121.7,363.4 L120.8,364.3 L119.8,363.4 L118.9,363.2 L117.9,363.4 L117.0,363.6 L116.0,364.4 L115.1,364.7 L114.1,364.2 L113.2,364.4 L112.2,366.4 L111.2,367.0 L110.3,368.0 L109.3,367.8 L108.4,366.7 L107.4,367.0 L106.5,367.9 L105.5,367.5 L104.6,367.9 L103.6,368.8 L102.7,368.0 L101.7,367.2 L100.8,367.1 L99.8,368.7 L98.9,369.4 L97.9,370.6 L97.0,370.1 L96.0,370.0 L95.1,370.7 L94.1,370.9 L93.2,371.7 L92.2,372.7 L91.3,372.9 L90.3,373.1 L89.4,373.4 L88.4,372.8 L87.4,373.2 L86.5,373.3 L85.5,372.9 L84.6,373.2Z" fill="rgba(245,145,58,0.3)"/>
<path d="M84.6,353.0 L85.5,351.9 L86.5,351.7 L87.4,352.5 L88.4,351.9 L89.4,352.1 L90.3,352.0 L91.3,351.0 L92.2,349.4 L93.2,350.2 L94.1,349.8 L95.1,349.9 L96.0,347.7 L97.0,346.7 L97.9,345.6 L98.9,345.8 L99.8,347.1 L100.8,347.3 L101.7,346.7 L102.7,346.3 L103.6,346.3 L104.6,345.4 L105.5,345.2 L106.5,344.7 L107.4,342.5 L108.4,342.6 L109.3,343.6 L110.3,342.6 L111.2,342.1 L112.2,341.3 L113.2,340.8 L114.1,341.4 L115.1,340.5 L116.0,339.3 L117.0,337.0 L117.9,337.5 L118.9,336.7 L119.8,336.3 L120.8,337.8 L121.7,338.4 L122.7,336.7 L123.6,337.7 L124.6,337.9 L125.5,336.9 L126.5,337.4 L127.4,335.8 L128.4,335.2 L129.3,334.6 L130.3,334.5 L131.2,335.7 L132.2,334.6 L133.1,334.0 L134.1,333.8 L135.0,334.4 L136.0,334.2 L137.0,334.8 L137.9,333.9 L138.9,332.9 L139.8,332.7 L140.8,332.8 L141.7,332.0 L142.7,332.3 L143.6,333.4 L144.6,332.0 L145.5,331.6 L146.5,332.2 L147.4,331.0 L148.4,330.1 L149.3,329.4 L150.3,330.0 L151.2,330.2 L152.2,329.7 L153.1,329.5 L154.1,330.2 L155.0,330.1 L156.0,328.3 L156.9,328.3 L157.9,328.2 L158.8,328.5 L159.8,327.9 L160.8,327.2 L161.7,326.8 L162.7,325.5 L163.6,326.1 L164.6,325.8 L165.5,326.3 L166.5,325.4 L167.4,325.2 L168.4,324.6 L169.3,324.1 L170.3,325.0 L171.2,324.5 L172.2,324.8 L173.1,323.7 L174.1,323.9 L174.1,341.1 L173.1,340.3 L172.2,341.3 L171.2,341.4 L170.3,340.0 L169.3,338.5 L168.4,340.0 L167.4,340.3 L166.5,339.7 L165.5,342.5 L164.6,342.1 L163.6,341.9 L162.7,342.0 L161.7,342.4 L160.8,342.9 L159.8,342.7 L158.8,343.5 L157.9,344.3 L156.9,344.9 L156.0,346.1 L155.0,346.6 L154.1,346.7 L153.1,349.6 L152.2,347.5 L151.2,348.5 L150.3,348.9 L149.3,348.7 L148.4,350.7 L147.4,351.0 L146.5,351.3 L145.5,353.6 L144.6,353.4 L143.6,353.2 L142.7,352.7 L141.7,353.4 L140.8,353.3 L139.8,354.4 L138.9,355.1 L137.9,354.8 L137.0,356.1 L136.0,356.2 L135.0,355.9 L134.1,356.9 L133.1,355.1 L132.2,354.8 L131.2,355.4 L130.3,356.2 L129.3,355.9 L128.4,356.5 L127.4,356.0 L126.5,355.6 L125.5,355.2 L124.6,354.9 L123.6,355.6 L122.7,356.6 L121.7,358.3 L120.8,358.2 L119.8,357.3 L118.9,356.6 L117.9,357.0 L117.0,357.7 L116.0,358.1 L115.1,358.9 L114.1,360.4 L113.2,359.8 L112.2,360.7 L111.2,361.7 L110.3,363.5 L109.3,363.3 L108.4,362.9 L107.4,362.8 L106.5,363.8 L105.5,364.2 L104.6,365.8 L103.6,366.6 L102.7,365.2 L101.7,365.6 L100.8,366.0 L99.8,367.7 L98.9,369.3 L97.9,369.0 L97.0,368.7 L96.0,369.4 L95.1,370.6 L94.1,370.6 L93.2,371.2 L92.2,371.5 L91.3,372.2 L90.3,373.1 L89.4,373.2 L88.4,373.1 L87.4,373.5 L86.5,373.6 L85.5,373.0 L84.6,373.2Z" fill="rgba(122,72,184,0.3)"/>
<polyline points="58.9,361.1 59.8,361.0 60.8,361.2 61.7,361.3 62.7,361.0 63.6,361.0 64.6,361.6 65.6,362.3 66.5,362.1 67.5,362.3 68.4,362.7 69.4,363.4 70.3,363.5 71.3,363.9 72.2,364.0 73.2,364.7 74.1,364.9 75.1,365.0 76.0,364.8 77.0,364.9 77.9,364.8 78.9,364.3 79.8,364.2 80.8,363.8 81.7,363.5 82.7,363.2 83.6,362.9" fill="none" stroke="#000" stroke-width="2" stroke-linejoin="round"/>
<polyline points="83.6,362.9 84.6,363.7 85.5,363.4 86.5,364.0 87.4,363.2 88.4,362.7 89.4,361.7 90.3,360.7 91.3,360.5 92.2,360.3 93.2,359.9 94.1,360.0 95.1,358.3 96.0,357.8 97.0,357.1 97.9,358.2 98.9,357.6 99.8,357.2 100.8,356.6 101.7,357.0 102.7,356.2 103.6,355.7 104.6,354.1 105.5,354.5 106.5,354.0 107.4,353.7 108.4,353.8 109.3,353.0 110.3,352.4 111.2,352.4 112.2,352.1 113.2,351.3 114.1,350.9 115.1,350.1 116.0,350.1 117.0,349.9 117.9,349.3 118.9,349.9 119.8,348.4 120.8,348.3 121.7,349.1 122.7,348.3 123.6,347.3 124.6,348.2 125.5,348.1 126.5,347.2 127.4,347.6 128.4,346.8 129.3,346.2 130.3,346.4 131.2,346.3 132.2,345.8 133.1,345.9 134.1,345.4 135.0,345.5 136.0,345.4 137.0,345.5 137.9,344.9 138.9,343.9 139.8,343.4 140.8,343.7 141.7,344.6 142.7,344.6 143.6,343.8 144.6,344.1 145.5,343.0 146.5,343.3 147.4,342.6 148.4,342.7 149.3,342.5 150.3,341.8 151.2,341.6 152.2,340.7 153.1,340.5 154.1,340.9 155.0,342.4 156.0,341.1 156.9,340.0 157.9,338.6 158.8,338.7 159.8,337.2 160.8,336.6 161.7,336.8 162.7,336.0 163.6,336.8 164.6,336.8 165.5,335.8 166.5,335.3 167.4,334.5 168.4,333.9 169.3,334.5 170.3,335.1 171.2,335.3 172.2,335.5 173.1,335.3 174.1,335.7" fill="none" stroke="#8a2db5" stroke-width="1.8" stroke-linejoin="round"/>
<polyline points="83.6,362.9 84.6,362.9 85.5,362.4 86.5,362.6 87.4,362.1 88.4,362.8 89.4,362.5 90.3,361.5 91.3,361.3 92.2,360.4 93.2,360.4 94.1,360.5 95.1,360.3 96.0,358.9 97.0,358.9 97.9,359.4 98.9,359.4 99.8,359.8 100.8,358.6 101.7,358.9 102.7,358.0 103.6,357.8 104.6,357.5 105.5,357.4 106.5,356.5 107.4,356.3 108.4,355.4 109.3,354.6 110.3,355.1 111.2,354.9 112.2,353.8 113.2,353.4 114.1,353.6 115.1,354.3 116.0,354.3 117.0,354.1 117.9,352.6 118.9,352.7 119.8,352.9 120.8,352.9 121.7,352.8 122.7,352.1 123.6,352.7 124.6,352.7 125.5,351.7 126.5,350.6 127.4,351.8 128.4,351.0 129.3,351.5 130.3,352.2 131.2,351.0 132.2,351.1 133.1,350.9 134.1,351.4 135.0,351.6 136.0,352.7 137.0,352.5 137.9,352.1 138.9,352.5 139.8,351.9 140.8,351.6 141.7,352.8 142.7,351.8 143.6,351.7 144.6,351.9 145.5,351.6 146.5,350.9 147.4,352.3 148.4,352.1 149.3,352.0 150.3,352.1 151.2,351.8 152.2,351.6 153.1,352.2 154.1,353.8 155.0,353.8 156.0,353.9 156.9,352.8 157.9,353.1 158.8,352.8 159.8,353.9 160.8,354.1 161.7,354.5 162.7,354.7 163.6,354.8 164.6,354.2 165.5,354.8 166.5,354.0 167.4,353.6 168.4,353.8 169.3,353.6 170.3,354.1 171.2,354.8 172.2,354.7 173.1,354.6 174.1,354.5" fill="none" stroke="#0c7a2c" stroke-width="1.8" stroke-linejoin="round"/>
<polyline points="83.6,362.9 84.6,362.6 85.5,363.1 86.5,362.4 87.4,361.8 88.4,361.9 89.4,361.6 90.3,361.8 91.3,362.0 92.2,360.2 93.2,360.3 94.1,361.1 95.1,360.9 96.0,360.9 97.0,360.1 97.9,358.7 98.9,358.1 99.8,358.5 100.8,358.7 101.7,357.8 102.7,357.5 103.6,357.6 104.6,356.6 105.5,356.7 106.5,357.6 107.4,358.3 108.4,357.4 109.3,357.8 110.3,356.8 111.2,356.1 112.2,355.0 113.2,355.9 114.1,355.6 115.1,356.7 116.0,356.2 117.0,355.8 117.9,354.5 118.9,355.4 119.8,354.9 120.8,354.7 121.7,353.5 122.7,354.3 123.6,354.6 124.6,353.8 125.5,353.5 126.5,353.4 127.4,353.4 128.4,352.9 129.3,353.4 130.3,352.6 131.2,352.0 132.2,351.7 133.1,350.4 134.1,350.5 135.0,351.4 136.0,351.4 137.0,350.8 137.9,351.0 138.9,349.8 139.8,350.2 140.8,350.7 141.7,351.1 142.7,350.6 143.6,351.1 144.6,351.8 145.5,350.9 146.5,351.0 147.4,349.8 148.4,348.9 149.3,349.7 150.3,349.8 151.2,349.9 152.2,349.6 153.1,349.6 154.1,350.2 155.0,350.9 156.0,350.1 156.9,349.0 157.9,349.8 158.8,349.7 159.8,349.7 160.8,349.4 161.7,350.3 162.7,349.7 163.6,349.6 164.6,348.4 165.5,348.4 166.5,348.0 167.4,347.9 168.4,347.7 169.3,346.9 170.3,347.6 171.2,346.4 172.2,346.0 173.1,345.9 174.1,345.0" fill="none" stroke="#f26a12" stroke-width="1.8" stroke-linejoin="round"/>
</g>
<rect x="35.8" y="317.4" width="144.2" height="61.8" fill="none" stroke="#6e6e6e" stroke-width="1.1"/>
<line x1="40.8" y1="379.2" x2="40.8" y2="376.9" stroke="#6e6e6e" stroke-width="0.9"/>
<text x="40.8" y="388.7" font-size="7.5" text-anchor="middle" fill="#222" stroke="#222" stroke-width="0.1">1960</text>
<line x1="59.8" y1="379.2" x2="59.8" y2="376.9" stroke="#6e6e6e" stroke-width="0.9"/>
<text x="59.8" y="388.7" font-size="7.5" text-anchor="middle" fill="#222" stroke="#222" stroke-width="0.1">1980</text>
<line x1="78.9" y1="379.2" x2="78.9" y2="376.9" stroke="#6e6e6e" stroke-width="0.9"/>
<text x="78.9" y="388.7" font-size="7.5" text-anchor="middle" fill="#222" stroke="#222" stroke-width="0.1">2000</text>
<line x1="97.9" y1="379.2" x2="97.9" y2="376.9" stroke="#6e6e6e" stroke-width="0.9"/>
<text x="97.9" y="388.7" font-size="7.5" text-anchor="middle" fill="#222" stroke="#222" stroke-width="0.1">2020</text>
<line x1="117.0" y1="379.2" x2="117.0" y2="376.9" stroke="#6e6e6e" stroke-width="0.9"/>
<text x="117.0" y="388.7" font-size="7.5" text-anchor="middle" fill="#222" stroke="#222" stroke-width="0.1">2040</text>
<line x1="136.0" y1="379.2" x2="136.0" y2="376.9" stroke="#6e6e6e" stroke-width="0.9"/>
<text x="136.0" y="388.7" font-size="7.5" text-anchor="middle" fill="#222" stroke="#222" stroke-width="0.1">2060</text>
<line x1="155.0" y1="379.2" x2="155.0" y2="376.9" stroke="#6e6e6e" stroke-width="0.9"/>
<text x="155.0" y="388.7" font-size="7.5" text-anchor="middle" fill="#222" stroke="#222" stroke-width="0.1">2080</text>
<line x1="174.1" y1="379.2" x2="174.1" y2="376.9" stroke="#6e6e6e" stroke-width="0.9"/>
<text x="174.1" y="388.7" font-size="7.5" text-anchor="middle" fill="#222" stroke="#222" stroke-width="0.1">2100</text>
<line x1="35.8" y1="320.3" x2="38.099999999999994" y2="320.3" stroke="#6e6e6e" stroke-width="0.9"/>
<text x="31.6" y="322.8" font-size="7.5" text-anchor="end" fill="#222" stroke="#222" stroke-width="0.1">30</text>
<line x1="35.8" y1="334.4" x2="38.099999999999994" y2="334.4" stroke="#6e6e6e" stroke-width="0.9"/>
<text x="31.6" y="337.0" font-size="7.5" text-anchor="end" fill="#222" stroke="#222" stroke-width="0.1">20</text>
<line x1="35.8" y1="348.5" x2="38.099999999999994" y2="348.5" stroke="#6e6e6e" stroke-width="0.9"/>
<text x="31.6" y="351.1" font-size="7.5" text-anchor="end" fill="#222" stroke="#222" stroke-width="0.1">10</text>
<line x1="35.8" y1="362.7" x2="38.099999999999994" y2="362.7" stroke="#6e6e6e" stroke-width="0.9"/>
<text x="31.6" y="365.2" font-size="7.5" text-anchor="end" fill="#222" stroke="#222" stroke-width="0.1">0</text>
<line x1="35.8" y1="376.8" x2="38.099999999999994" y2="376.8" stroke="#6e6e6e" stroke-width="0.9"/>
<text x="31.6" y="379.3" font-size="7.5" text-anchor="end" fill="#222" stroke="#222" stroke-width="0.1">-10</text>
<text transform="translate(10.4,348.3) rotate(-90)" font-size="7.2" text-anchor="middle" fill="#333">Annual Pr Anomaly</text>
<text transform="translate(21.2,348.3) rotate(-90)" font-size="7.2" text-anchor="middle" fill="#333">(mm)</text>
<text x="42.5" y="327.2" font-size="7.8" fill="#1f8a52">0.22/10a</text>
<text x="42.5" y="336.1" font-size="7.8" fill="#f5782a">1.02/10a</text>
<text x="42.5" y="344.9" font-size="7.8" fill="#9148c2">1.85/10a</text>
<text x="43.4" y="374.9" font-size="11" fill="#222">(e)</text>
<text x="175.8" y="374.6" font-size="10" text-anchor="end" fill="#111">DJF</text>
</g>
<g>
<clipPath id="cf"><rect x="217.8" y="21.5" width="144.2" height="61.1"/></clipPath>
<g clip-path="url(#cf)">
<path d="M240.6,60.0 L241.5,59.5 L242.5,59.2 L243.4,60.0 L244.4,60.8 L245.3,60.0 L246.3,61.3 L247.3,61.9 L248.2,61.3 L249.2,60.9 L250.1,60.9 L251.1,61.6 L252.0,61.2 L253.0,60.7 L253.9,61.3 L254.9,60.3 L255.8,61.0 L256.8,62.1 L257.7,62.3 L258.7,62.8 L259.6,62.9 L260.6,63.2 L261.5,63.1 L262.5,62.6 L263.4,62.7 L264.4,62.8 L265.3,63.7 L265.3,79.6 L264.4,79.1 L263.4,78.6 L262.5,78.4 L261.5,77.7 L260.6,78.1 L259.6,78.1 L258.7,78.7 L257.7,79.2 L256.8,78.9 L255.8,79.4 L254.9,79.1 L253.9,78.2 L253.0,78.6 L252.0,77.5 L251.1,77.4 L250.1,77.4 L249.2,77.1 L248.2,76.2 L247.3,76.6 L246.3,76.7 L245.3,76.5 L244.4,75.3 L243.4,75.0 L242.5,75.3 L241.5,75.9 L240.6,76.0Z" fill="#e8e8e8"/>
<path d="M266.3,57.6 L267.2,56.2 L268.2,56.5 L269.1,55.3 L270.1,55.0 L271.1,55.9 L272.0,53.5 L273.0,54.4 L273.9,54.0 L274.9,52.9 L275.8,53.7 L276.8,53.7 L277.7,52.9 L278.7,52.2 L279.6,53.8 L280.6,53.1 L281.5,52.0 L282.5,51.7 L283.4,51.2 L284.4,50.5 L285.3,49.4 L286.3,49.4 L287.2,50.1 L288.2,49.3 L289.1,49.6 L290.1,50.5 L291.0,50.7 L292.0,52.0 L292.9,52.2 L293.9,50.5 L294.9,50.4 L295.8,50.3 L296.8,51.5 L297.7,50.0 L298.7,49.9 L299.6,49.6 L300.6,49.2 L301.5,49.5 L302.5,50.1 L303.4,50.0 L304.4,49.9 L305.3,49.8 L306.3,49.6 L307.2,48.8 L308.2,49.2 L309.1,47.9 L310.1,47.1 L311.0,47.5 L312.0,48.4 L312.9,47.2 L313.9,47.6 L314.8,47.8 L315.8,47.3 L316.7,46.4 L317.7,46.1 L318.7,45.6 L319.6,46.3 L320.6,45.5 L321.5,46.7 L322.5,45.9 L323.4,45.6 L324.4,46.0 L325.3,45.8 L326.3,46.2 L327.2,46.1 L328.2,45.9 L329.1,45.3 L330.1,44.2 L331.0,44.9 L332.0,45.0 L332.9,43.4 L333.9,43.8 L334.8,43.5 L335.8,41.0 L336.7,41.0 L337.7,41.3 L338.6,43.5 L339.6,44.0 L340.5,43.6 L341.5,44.6 L342.5,45.4 L343.4,45.9 L344.4,46.4 L345.3,48.1 L346.3,47.8 L347.2,48.5 L348.2,48.1 L349.1,48.2 L350.1,48.5 L351.0,48.7 L352.0,48.6 L352.9,49.9 L353.9,48.7 L354.8,48.6 L355.8,50.4 L355.8,62.8 L354.8,63.0 L353.9,64.1 L352.9,63.1 L352.0,63.7 L351.0,63.8 L350.1,64.1 L349.1,64.5 L348.2,64.4 L347.2,66.0 L346.3,64.3 L345.3,62.7 L344.4,63.9 L343.4,64.2 L342.5,65.7 L341.5,65.2 L340.5,65.7 L339.6,66.3 L338.6,64.9 L337.7,63.4 L336.7,60.6 L335.8,60.8 L334.8,61.5 L333.9,61.4 L332.9,59.8 L332.0,61.6 L331.0,60.4 L330.1,60.1 L329.1,61.0 L328.2,61.8 L327.2,60.3 L326.3,62.8 L325.3,64.3 L324.4,65.2 L323.4,64.6 L322.5,63.7 L321.5,62.6 L320.6,63.1 L319.6,64.2 L318.7,64.9 L317.7,67.0 L316.7,67.7 L315.8,66.5 L314.8,67.1 L313.9,66.8 L312.9,67.3 L312.0,66.6 L311.0,65.9 L310.1,67.1 L309.1,68.3 L308.2,68.9 L307.2,68.6 L306.3,67.3 L305.3,67.3 L304.4,66.9 L303.4,65.6 L302.5,66.2 L301.5,68.3 L300.6,66.6 L299.6,67.3 L298.7,67.1 L297.7,68.8 L296.8,68.6 L295.8,69.4 L294.9,68.0 L293.9,67.8 L292.9,68.8 L292.0,68.1 L291.0,66.1 L290.1,67.8 L289.1,67.6 L288.2,66.7 L287.2,65.9 L286.3,67.7 L285.3,68.0 L284.4,68.1 L283.4,70.2 L282.5,71.7 L281.5,72.4 L280.6,72.5 L279.6,73.3 L278.7,73.2 L277.7,73.3 L276.8,74.2 L275.8,75.5 L274.9,75.3 L273.9,75.0 L273.0,76.7 L272.0,77.4 L271.1,76.6 L270.1,77.3 L269.1,78.7 L268.2,80.8 L267.2,80.8 L266.3,81.3Z" fill="rgba(118,198,118,0.22)"/>
<path d="M266.3,57.6 L267.2,56.4 L268.2,56.6 L269.1,55.8 L270.1,55.7 L271.1,56.5 L272.0,54.6 L273.0,54.7 L273.9,54.3 L274.9,53.2 L275.8,54.3 L276.8,53.1 L277.7,52.8 L278.7,52.3 L279.6,53.9 L280.6,51.8 L281.5,51.2 L282.5,50.4 L283.4,50.4 L284.4,50.5 L285.3,50.2 L286.3,50.3 L287.2,50.3 L288.2,50.4 L289.1,50.3 L290.1,50.6 L291.0,51.0 L292.0,51.7 L292.9,52.4 L293.9,51.3 L294.9,49.6 L295.8,48.9 L296.8,49.0 L297.7,47.8 L298.7,47.2 L299.6,46.9 L300.6,47.2 L301.5,46.8 L302.5,46.3 L303.4,45.6 L304.4,45.7 L305.3,46.7 L306.3,46.7 L307.2,46.4 L308.2,44.1 L309.1,45.7 L310.1,45.6 L311.0,46.7 L312.0,46.6 L312.9,45.4 L313.9,46.3 L314.8,46.1 L315.8,45.6 L316.7,46.4 L317.7,47.1 L318.7,47.8 L319.6,47.8 L320.6,46.8 L321.5,48.3 L322.5,46.7 L323.4,47.2 L324.4,47.2 L325.3,48.7 L326.3,49.0 L327.2,48.6 L328.2,49.1 L329.1,48.4 L330.1,48.6 L331.0,48.3 L332.0,47.8 L332.9,48.1 L333.9,47.0 L334.8,46.2 L335.8,45.3 L336.7,46.1 L337.7,45.5 L338.6,45.6 L339.6,45.4 L340.5,43.5 L341.5,43.4 L342.5,43.7 L343.4,43.2 L344.4,43.1 L345.3,43.8 L346.3,43.8 L347.2,42.7 L348.2,42.4 L349.1,42.1 L350.1,40.9 L351.0,40.3 L352.0,39.6 L352.9,41.0 L353.9,39.1 L354.8,39.4 L355.8,39.8 L355.8,53.2 L354.8,54.3 L353.9,54.9 L352.9,55.4 L352.0,55.6 L351.0,56.1 L350.1,56.9 L349.1,58.8 L348.2,59.7 L347.2,60.9 L346.3,60.6 L345.3,59.0 L344.4,60.3 L343.4,62.6 L342.5,63.8 L341.5,64.5 L340.5,65.1 L339.6,66.8 L338.6,66.5 L337.7,66.2 L336.7,64.9 L335.8,65.2 L334.8,65.3 L333.9,65.6 L332.9,64.4 L332.0,65.6 L331.0,65.9 L330.1,65.4 L329.1,66.0 L328.2,65.9 L327.2,64.9 L326.3,65.7 L325.3,65.8 L324.4,67.1 L323.4,65.2 L322.5,64.7 L321.5,63.4 L320.6,63.9 L319.6,65.4 L318.7,65.9 L317.7,66.7 L316.7,67.3 L315.8,66.5 L314.8,66.4 L313.9,65.9 L312.9,66.0 L312.0,63.7 L311.0,63.4 L310.1,63.8 L309.1,63.9 L308.2,64.7 L307.2,65.6 L306.3,64.9 L305.3,64.3 L304.4,63.2 L303.4,62.1 L302.5,63.3 L301.5,65.2 L300.6,64.1 L299.6,63.9 L298.7,63.6 L297.7,64.5 L296.8,65.7 L295.8,65.2 L294.9,65.2 L293.9,66.7 L292.9,67.2 L292.0,68.3 L291.0,67.8 L290.1,69.5 L289.1,69.0 L288.2,69.7 L287.2,69.2 L286.3,69.5 L285.3,69.2 L284.4,69.6 L283.4,70.4 L282.5,71.2 L281.5,72.1 L280.6,72.5 L279.6,73.3 L278.7,73.0 L277.7,73.0 L276.8,73.6 L275.8,74.7 L274.9,75.3 L273.9,75.1 L273.0,76.9 L272.0,77.5 L271.1,76.3 L270.1,76.5 L269.1,77.6 L268.2,79.8 L267.2,79.7 L266.3,80.1Z" fill="rgba(245,145,58,0.3)"/>
<path d="M266.3,57.6 L267.2,56.2 L268.2,56.3 L269.1,55.2 L270.1,54.9 L271.1,55.2 L272.0,52.8 L273.0,52.6 L273.9,52.2 L274.9,50.6 L275.8,51.2 L276.8,50.9 L277.7,50.1 L278.7,49.2 L279.6,51.0 L280.6,49.3 L281.5,47.1 L282.5,46.3 L283.4,46.0 L284.4,45.8 L285.3,45.8 L286.3,45.0 L287.2,45.5 L288.2,44.9 L289.1,43.8 L290.1,43.5 L291.0,43.5 L292.0,44.2 L292.9,43.9 L293.9,43.0 L294.9,42.5 L295.8,42.2 L296.8,43.0 L297.7,41.4 L298.7,41.1 L299.6,41.1 L300.6,39.8 L301.5,39.9 L302.5,39.7 L303.4,39.1 L304.4,39.4 L305.3,39.7 L306.3,39.9 L307.2,39.1 L308.2,38.9 L309.1,40.1 L310.1,38.4 L311.0,38.4 L312.0,38.7 L312.9,38.4 L313.9,38.5 L314.8,38.1 L315.8,38.3 L316.7,38.7 L317.7,37.8 L318.7,37.6 L319.6,37.2 L320.6,36.8 L321.5,36.7 L322.5,35.9 L323.4,36.7 L324.4,37.7 L325.3,38.1 L326.3,38.0 L327.2,36.3 L328.2,37.0 L329.1,35.7 L330.1,35.4 L331.0,36.4 L332.0,34.8 L332.9,35.2 L333.9,34.9 L334.8,34.3 L335.8,33.3 L336.7,33.5 L337.7,32.8 L338.6,33.3 L339.6,33.5 L340.5,31.6 L341.5,31.1 L342.5,31.0 L343.4,30.2 L344.4,29.7 L345.3,30.1 L346.3,30.1 L347.2,28.9 L348.2,29.0 L349.1,29.7 L350.1,28.8 L351.0,28.5 L352.0,30.0 L352.9,30.5 L353.9,28.7 L354.8,28.0 L355.8,28.7 L355.8,45.6 L354.8,46.7 L353.9,46.7 L352.9,46.8 L352.0,48.2 L351.0,48.2 L350.1,48.9 L349.1,49.7 L348.2,50.8 L347.2,50.5 L346.3,51.2 L345.3,49.7 L344.4,52.2 L343.4,53.5 L342.5,55.6 L341.5,55.7 L340.5,57.2 L339.6,59.5 L338.6,59.5 L337.7,59.6 L336.7,59.5 L335.8,59.1 L334.8,58.4 L333.9,57.8 L332.9,56.3 L332.0,58.0 L331.0,57.8 L330.1,57.1 L329.1,58.3 L328.2,57.6 L327.2,56.7 L326.3,58.9 L325.3,59.6 L324.4,61.4 L323.4,60.9 L322.5,60.6 L321.5,59.3 L320.6,60.0 L319.6,60.1 L318.7,60.3 L317.7,61.7 L316.7,62.6 L315.8,62.2 L314.8,62.8 L313.9,62.2 L312.9,62.4 L312.0,62.0 L311.0,61.3 L310.1,63.1 L309.1,62.4 L308.2,63.7 L307.2,63.0 L306.3,62.6 L305.3,62.0 L304.4,62.3 L303.4,62.2 L302.5,62.6 L301.5,64.3 L300.6,62.5 L299.6,62.0 L298.7,62.1 L297.7,62.4 L296.8,62.9 L295.8,63.6 L294.9,61.3 L293.9,62.0 L292.9,63.4 L292.0,64.6 L291.0,64.5 L290.1,67.0 L289.1,67.0 L288.2,67.3 L287.2,67.1 L286.3,67.7 L285.3,67.9 L284.4,68.4 L283.4,69.6 L282.5,70.7 L281.5,71.8 L280.6,72.4 L279.6,73.3 L278.7,73.0 L277.7,73.1 L276.8,74.0 L275.8,75.1 L274.9,75.3 L273.9,75.1 L273.0,76.9 L272.0,77.3 L271.1,76.0 L270.1,76.3 L269.1,77.5 L268.2,79.9 L267.2,79.7 L266.3,80.1Z" fill="rgba(122,72,184,0.3)"/>
<polyline points="240.6,66.8 241.5,66.9 242.5,67.3 243.4,67.8 244.4,68.1 245.3,68.1 246.3,68.6 247.3,68.7 248.2,68.7 249.2,68.8 250.1,68.7 251.1,69.2 252.0,69.9 253.0,70.1 253.9,70.8 254.9,71.5 255.8,72.0 256.8,72.7 257.7,73.1 258.7,72.6 259.6,72.5 260.6,72.2 261.5,71.9 262.5,71.6 263.4,71.4 264.4,70.9 265.3,70.1" fill="none" stroke="#000" stroke-width="2" stroke-linejoin="round"/>
<polyline points="265.3,70.1 266.3,68.6 267.2,69.0 268.2,68.7 269.1,68.7 270.1,67.8 271.1,67.2 272.0,67.2 273.0,67.2 273.9,66.8 274.9,66.5 275.8,65.8 276.8,65.4 277.7,65.0 278.7,64.4 279.6,63.6 280.6,63.1 281.5,63.7 282.5,62.5 283.4,61.6 284.4,60.7 285.3,60.1 286.3,59.6 287.2,58.4 288.2,57.0 289.1,57.3 290.1,56.2 291.0,56.3 292.0,56.0 292.9,56.1 293.9,56.1 294.9,55.2 295.8,54.0 296.8,52.8 297.7,52.1 298.7,51.9 299.6,51.0 300.6,51.6 301.5,51.9 302.5,52.4 303.4,52.1 304.4,52.1 305.3,51.6 306.3,51.4 307.2,50.5 308.2,51.0 309.1,51.9 310.1,51.5 311.0,51.4 312.0,50.5 312.9,51.2 313.9,50.4 314.8,50.7 315.8,50.4 316.7,49.7 317.7,50.2 318.7,49.9 319.6,49.8 320.6,49.7 321.5,49.4 322.5,49.0 323.4,49.1 324.4,48.7 325.3,48.6 326.3,48.0 327.2,47.1 328.2,46.9 329.1,46.7 330.1,46.7 331.0,47.3 332.0,46.4 332.9,47.0 333.9,46.1 334.8,46.4 335.8,46.9 336.7,45.7 337.7,44.9 338.6,45.2 339.6,45.0 340.5,44.5 341.5,43.6 342.5,44.5 343.4,43.5 344.4,42.4 345.3,42.9 346.3,42.4 347.2,41.6 348.2,41.9 349.1,41.5 350.1,41.5 351.0,41.2 352.0,40.3 352.9,40.5 353.9,39.9 354.8,38.8 355.8,38.2" fill="none" stroke="#8a2db5" stroke-width="1.8" stroke-linejoin="round"/>
<polyline points="265.3,70.1 266.3,69.7 267.2,69.9 268.2,69.1 269.1,67.4 270.1,67.7 271.1,66.6 272.0,67.1 273.0,65.7 273.9,64.7 274.9,65.1 275.8,65.1 276.8,64.7 277.7,63.6 278.7,64.0 279.6,62.7 280.6,62.3 281.5,61.8 282.5,61.5 283.4,61.7 284.4,60.6 285.3,60.4 286.3,60.0 287.2,58.2 288.2,57.5 289.1,58.0 290.1,58.1 291.0,58.8 292.0,58.0 292.9,59.1 293.9,59.4 294.9,58.9 295.8,57.8 296.8,57.8 297.7,57.4 298.7,57.6 299.6,57.5 300.6,57.9 301.5,57.5 302.5,58.3 303.4,56.7 304.4,56.5 305.3,56.9 306.3,55.9 307.2,56.4 308.2,55.5 309.1,55.5 310.1,55.0 311.0,54.9 312.0,55.1 312.9,55.0 313.9,54.7 314.8,55.8 315.8,55.2 316.7,54.3 317.7,54.7 318.7,54.8 319.6,55.0 320.6,55.3 321.5,53.9 322.5,54.2 323.4,54.3 324.4,53.7 325.3,53.4 326.3,51.4 327.2,51.5 328.2,52.6 329.1,51.1 330.1,50.9 331.0,51.1 332.0,51.3 332.9,51.9 333.9,50.3 334.8,50.4 335.8,50.8 336.7,50.1 337.7,50.7 338.6,52.1 339.6,52.7 340.5,52.7 341.5,51.3 342.5,52.4 343.4,53.6 344.4,54.2 345.3,54.8 346.3,56.6 347.2,55.9 348.2,55.2 349.1,55.6 350.1,55.6 351.0,55.6 352.0,55.9 352.9,56.5 353.9,56.6 354.8,56.0 355.8,56.3" fill="none" stroke="#0c7a2c" stroke-width="1.8" stroke-linejoin="round"/>
<polyline points="265.3,70.1 266.3,69.3 267.2,70.0 268.2,69.8 269.1,68.5 270.1,68.3 271.1,68.9 272.0,68.7 273.0,67.5 273.9,67.2 274.9,66.0 275.8,64.7 276.8,65.0 277.7,64.7 278.7,64.5 279.6,63.9 280.6,63.5 281.5,62.7 282.5,62.6 283.4,62.5 284.4,62.0 285.3,62.1 286.3,60.5 287.2,60.2 288.2,61.2 289.1,61.8 290.1,61.1 291.0,60.4 292.0,59.3 292.9,59.1 293.9,58.8 294.9,57.1 295.8,57.0 296.8,56.6 297.7,55.9 298.7,54.4 299.6,54.8 300.6,53.7 301.5,54.8 302.5,54.5 303.4,53.6 304.4,54.4 305.3,54.6 306.3,53.7 307.2,54.7 308.2,53.3 309.1,53.3 310.1,54.0 311.0,52.5 312.0,53.6 312.9,53.7 313.9,53.8 314.8,53.4 315.8,54.0 316.7,53.6 317.7,53.6 318.7,53.9 319.6,53.7 320.6,55.2 321.5,54.3 322.5,54.1 323.4,54.3 324.4,54.6 325.3,55.2 326.3,55.6 327.2,55.3 328.2,55.2 329.1,55.4 330.1,56.1 331.0,56.2 332.0,55.3 332.9,53.9 333.9,55.3 334.8,55.2 335.8,54.6 336.7,54.2 337.7,53.4 338.6,52.5 339.6,52.3 340.5,52.1 341.5,51.6 342.5,50.7 343.4,50.8 344.4,51.2 345.3,50.6 346.3,50.4 347.2,48.9 348.2,48.7 349.1,48.4 350.1,47.3 351.0,46.1 352.0,46.4 352.9,45.9 353.9,46.3 354.8,45.9 355.8,46.2" fill="none" stroke="#f26a12" stroke-width="1.8" stroke-linejoin="round"/>
</g>
<rect x="217.8" y="21.5" width="144.2" height="61.1" fill="none" stroke="#6e6e6e" stroke-width="1.1"/>
<line x1="222.5" y1="82.6" x2="222.5" y2="80.3" stroke="#6e6e6e" stroke-width="0.9"/>
<text x="222.5" y="92.1" font-size="7.5" text-anchor="middle" fill="#222" stroke="#222" stroke-width="0.1">1960</text>
<line x1="241.5" y1="82.6" x2="241.5" y2="80.3" stroke="#6e6e6e" stroke-width="0.9"/>
<text x="241.5" y="92.1" font-size="7.5" text-anchor="middle" fill="#222" stroke="#222" stroke-width="0.1">1980</text>
<line x1="260.6" y1="82.6" x2="260.6" y2="80.3" stroke="#6e6e6e" stroke-width="0.9"/>
<text x="260.6" y="92.1" font-size="7.5" text-anchor="middle" fill="#222" stroke="#222" stroke-width="0.1">2000</text>
<line x1="279.6" y1="82.6" x2="279.6" y2="80.3" stroke="#6e6e6e" stroke-width="0.9"/>
<text x="279.6" y="92.1" font-size="7.5" text-anchor="middle" fill="#222" stroke="#222" stroke-width="0.1">2020</text>
<line x1="298.7" y1="82.6" x2="298.7" y2="80.3" stroke="#6e6e6e" stroke-width="0.9"/>
<text x="298.7" y="92.1" font-size="7.5" text-anchor="middle" fill="#222" stroke="#222" stroke-width="0.1">2040</text>
<line x1="317.7" y1="82.6" x2="317.7" y2="80.3" stroke="#6e6e6e" stroke-width="0.9"/>
<text x="317.7" y="92.1" font-size="7.5" text-anchor="middle" fill="#222" stroke="#222" stroke-width="0.1">2060</text>
<line x1="336.7" y1="82.6" x2="336.7" y2="80.3" stroke="#6e6e6e" stroke-width="0.9"/>
<text x="336.7" y="92.1" font-size="7.5" text-anchor="middle" fill="#222" stroke="#222" stroke-width="0.1">2080</text>
<line x1="355.8" y1="82.6" x2="355.8" y2="80.3" stroke="#6e6e6e" stroke-width="0.9"/>
<text x="355.8" y="92.1" font-size="7.5" text-anchor="middle" fill="#222" stroke="#222" stroke-width="0.1">2100</text>
<line x1="217.8" y1="24.4" x2="220.10000000000002" y2="24.4" stroke="#6e6e6e" stroke-width="0.9"/>
<text x="213.6" y="26.9" font-size="7.5" text-anchor="end" fill="#222" stroke="#222" stroke-width="0.1">80</text>
<line x1="217.8" y1="35.6" x2="220.10000000000002" y2="35.6" stroke="#6e6e6e" stroke-width="0.9"/>
<text x="213.6" y="38.1" font-size="7.5" text-anchor="end" fill="#222" stroke="#222" stroke-width="0.1">60</text>
<line x1="217.8" y1="46.7" x2="220.10000000000002" y2="46.7" stroke="#6e6e6e" stroke-width="0.9"/>
<text x="213.6" y="49.3" font-size="7.5" text-anchor="end" fill="#222" stroke="#222" stroke-width="0.1">40</text>
<line x1="217.8" y1="57.9" x2="220.10000000000002" y2="57.9" stroke="#6e6e6e" stroke-width="0.9"/>
<text x="213.6" y="60.4" font-size="7.5" text-anchor="end" fill="#222" stroke="#222" stroke-width="0.1">20</text>
<line x1="217.8" y1="69.0" x2="220.10000000000002" y2="69.0" stroke="#6e6e6e" stroke-width="0.9"/>
<text x="213.6" y="71.6" font-size="7.5" text-anchor="end" fill="#222" stroke="#222" stroke-width="0.1">0</text>
<line x1="217.8" y1="80.2" x2="220.10000000000002" y2="80.2" stroke="#6e6e6e" stroke-width="0.9"/>
<text x="213.6" y="82.7" font-size="7.5" text-anchor="end" fill="#222" stroke="#222" stroke-width="0.1">-20</text>
<text transform="translate(192.4,52.0) rotate(-90)" font-size="7.2" text-anchor="middle" fill="#333">Annual Pr Anomaly</text>
<text transform="translate(203.2,52.0) rotate(-90)" font-size="7.2" text-anchor="middle" fill="#333">(mm)</text>
<text x="224.5" y="31.3" font-size="7.8" fill="#1f8a52">1.40/10a</text>
<text x="224.5" y="40.1" font-size="7.8" fill="#f5782a">2.76/10a</text>
<text x="224.5" y="49.0" font-size="7.8" fill="#9148c2">3.59/10a</text>
<text x="225.4" y="78.3" font-size="11" fill="#222">(f)</text>
<text x="357.8" y="78.0" font-size="10" text-anchor="end" fill="#111">ANN</text>
</g>
<g>
<clipPath id="cg"><rect x="217.8" y="95.4" width="144.2" height="61.4"/></clipPath>
<g clip-path="url(#cg)">
<path d="M240.6,130.4 L241.5,130.3 L242.5,130.8 L243.4,130.4 L244.4,130.9 L245.3,130.7 L246.3,131.1 L247.3,131.3 L248.2,131.5 L249.2,131.0 L250.1,130.9 L251.1,130.8 L252.0,131.3 L253.0,131.8 L253.9,132.3 L254.9,131.9 L255.8,131.9 L256.8,131.1 L257.7,130.4 L258.7,130.6 L259.6,130.9 L260.6,130.6 L261.5,130.4 L262.5,131.3 L263.4,131.3 L264.4,130.8 L265.3,132.5 L265.3,147.7 L264.4,148.1 L263.4,148.1 L262.5,148.4 L261.5,148.7 L260.6,148.9 L259.6,149.2 L258.7,149.6 L257.7,149.3 L256.8,149.5 L255.8,150.3 L254.9,149.4 L253.9,149.4 L253.0,149.0 L252.0,148.6 L251.1,148.1 L250.1,148.1 L249.2,148.8 L248.2,147.7 L247.3,147.7 L246.3,147.2 L245.3,147.6 L244.4,148.5 L243.4,147.5 L242.5,147.8 L241.5,147.3 L240.6,147.4Z" fill="#e8e8e8"/>
<path d="M266.3,124.2 L267.2,125.8 L268.2,125.8 L269.1,125.5 L270.1,124.0 L271.1,122.6 L272.0,122.7 L273.0,122.1 L273.9,122.1 L274.9,120.9 L275.8,121.7 L276.8,120.0 L277.7,120.3 L278.7,119.6 L279.6,119.4 L280.6,121.1 L281.5,120.9 L282.5,120.4 L283.4,121.7 L284.4,122.0 L285.3,123.3 L286.3,121.4 L287.2,122.9 L288.2,123.6 L289.1,122.7 L290.1,122.5 L291.0,122.9 L292.0,121.6 L292.9,121.5 L293.9,122.4 L294.9,122.3 L295.8,122.7 L296.8,121.9 L297.7,123.4 L298.7,124.6 L299.6,123.6 L300.6,122.6 L301.5,123.6 L302.5,123.3 L303.4,123.0 L304.4,123.8 L305.3,121.6 L306.3,122.7 L307.2,122.5 L308.2,123.5 L309.1,123.5 L310.1,121.1 L311.0,121.4 L312.0,122.1 L312.9,122.7 L313.9,123.4 L314.8,121.4 L315.8,121.1 L316.7,120.6 L317.7,120.6 L318.7,119.0 L319.6,119.4 L320.6,120.2 L321.5,120.4 L322.5,118.4 L323.4,117.9 L324.4,119.6 L325.3,118.1 L326.3,118.7 L327.2,118.6 L328.2,118.6 L329.1,119.2 L330.1,119.3 L331.0,119.3 L332.0,119.3 L332.9,117.6 L333.9,117.3 L334.8,116.8 L335.8,116.6 L336.7,115.2 L337.7,117.3 L338.6,116.9 L339.6,117.7 L340.5,117.6 L341.5,118.1 L342.5,118.2 L343.4,117.7 L344.4,117.9 L345.3,117.0 L346.3,116.2 L347.2,116.1 L348.2,117.1 L349.1,118.6 L350.1,120.5 L351.0,122.4 L352.0,122.0 L352.9,122.9 L353.9,123.9 L354.8,124.1 L355.8,123.7 L355.8,136.3 L354.8,136.8 L353.9,136.8 L352.9,137.1 L352.0,138.1 L351.0,136.8 L350.1,135.9 L349.1,136.4 L348.2,138.7 L347.2,137.6 L346.3,135.4 L345.3,137.0 L344.4,136.2 L343.4,138.1 L342.5,137.2 L341.5,136.4 L340.5,136.6 L339.6,136.8 L338.6,135.2 L337.7,135.2 L336.7,136.1 L335.8,137.1 L334.8,136.9 L333.9,137.1 L332.9,137.4 L332.0,138.9 L331.0,138.8 L330.1,138.7 L329.1,139.5 L328.2,138.1 L327.2,139.4 L326.3,137.6 L325.3,139.1 L324.4,139.7 L323.4,138.8 L322.5,140.4 L321.5,140.1 L320.6,139.1 L319.6,139.5 L318.7,138.2 L317.7,139.8 L316.7,139.0 L315.8,139.0 L314.8,139.0 L313.9,139.5 L312.9,138.7 L312.0,139.6 L311.0,139.7 L310.1,139.9 L309.1,139.2 L308.2,139.8 L307.2,138.1 L306.3,139.3 L305.3,140.8 L304.4,140.1 L303.4,139.7 L302.5,142.1 L301.5,141.7 L300.6,141.8 L299.6,142.5 L298.7,142.8 L297.7,142.5 L296.8,140.9 L295.8,139.7 L294.9,139.6 L293.9,141.1 L292.9,141.2 L292.0,141.8 L291.0,140.5 L290.1,139.8 L289.1,141.8 L288.2,143.1 L287.2,141.5 L286.3,141.6 L285.3,140.8 L284.4,142.2 L283.4,143.2 L282.5,144.6 L281.5,144.4 L280.6,143.6 L279.6,143.1 L278.7,144.3 L277.7,143.3 L276.8,145.2 L275.8,145.7 L274.9,147.8 L273.9,147.3 L273.0,148.5 L272.0,149.6 L271.1,150.0 L270.1,151.5 L269.1,152.7 L268.2,152.0 L267.2,154.0 L266.3,156.1Z" fill="rgba(118,198,118,0.22)"/>
<path d="M266.3,124.2 L267.2,125.8 L268.2,126.1 L269.1,126.0 L270.1,125.1 L271.1,125.0 L272.0,125.8 L273.0,124.8 L273.9,124.7 L274.9,124.2 L275.8,124.1 L276.8,122.9 L277.7,122.5 L278.7,121.8 L279.6,122.1 L280.6,122.5 L281.5,122.5 L282.5,123.1 L283.4,124.3 L284.4,124.3 L285.3,124.9 L286.3,122.7 L287.2,123.1 L288.2,123.8 L289.1,121.9 L290.1,121.5 L291.0,121.3 L292.0,120.9 L292.9,120.4 L293.9,120.1 L294.9,120.1 L295.8,119.6 L296.8,118.8 L297.7,118.7 L298.7,118.6 L299.6,119.5 L300.6,117.8 L301.5,118.6 L302.5,117.8 L303.4,117.4 L304.4,118.3 L305.3,117.2 L306.3,118.1 L307.2,117.8 L308.2,119.3 L309.1,118.4 L310.1,117.2 L311.0,117.1 L312.0,118.7 L312.9,119.0 L313.9,118.8 L314.8,117.9 L315.8,117.8 L316.7,118.4 L317.7,118.7 L318.7,118.7 L319.6,118.3 L320.6,118.8 L321.5,119.6 L322.5,119.0 L323.4,117.0 L324.4,118.4 L325.3,118.4 L326.3,118.2 L327.2,118.1 L328.2,116.7 L329.1,118.0 L330.1,117.5 L331.0,117.6 L332.0,117.7 L332.9,117.8 L333.9,116.2 L334.8,115.2 L335.8,115.1 L336.7,114.7 L337.7,116.2 L338.6,114.4 L339.6,113.4 L340.5,113.4 L341.5,113.8 L342.5,113.6 L343.4,114.5 L344.4,113.7 L345.3,112.8 L346.3,112.1 L347.2,112.6 L348.2,111.5 L349.1,110.4 L350.1,110.1 L351.0,111.2 L352.0,110.7 L352.9,111.3 L353.9,111.2 L354.8,111.0 L355.8,110.1 L355.8,124.1 L354.8,125.0 L353.9,123.8 L352.9,124.5 L352.0,124.9 L351.0,125.7 L350.1,126.1 L349.1,129.1 L348.2,131.5 L347.2,132.8 L346.3,132.5 L345.3,133.3 L344.4,132.8 L343.4,133.7 L342.5,133.1 L341.5,133.3 L340.5,133.7 L339.6,133.4 L338.6,133.5 L337.7,135.0 L336.7,137.1 L335.8,137.4 L334.8,136.5 L333.9,136.7 L332.9,135.7 L332.0,137.0 L331.0,138.1 L330.1,138.3 L329.1,138.4 L328.2,138.0 L327.2,138.8 L326.3,138.2 L325.3,138.9 L324.4,139.1 L323.4,138.4 L322.5,138.4 L321.5,140.0 L320.6,138.9 L319.6,138.2 L318.7,139.1 L317.7,139.2 L316.7,137.9 L315.8,136.1 L314.8,134.9 L313.9,135.9 L312.9,135.6 L312.0,135.3 L311.0,135.8 L310.1,136.5 L309.1,135.6 L308.2,134.4 L307.2,133.9 L306.3,135.6 L305.3,136.6 L304.4,136.0 L303.4,136.2 L302.5,136.8 L301.5,136.8 L300.6,135.3 L299.6,135.1 L298.7,136.2 L297.7,138.2 L296.8,138.3 L295.8,137.9 L294.9,139.4 L293.9,141.3 L292.9,141.1 L292.0,141.7 L291.0,141.5 L290.1,141.4 L289.1,142.6 L288.2,144.7 L287.2,142.2 L286.3,141.1 L285.3,142.1 L284.4,143.6 L283.4,144.5 L282.5,145.6 L281.5,144.9 L280.6,145.8 L279.6,145.4 L278.7,146.2 L277.7,145.7 L276.8,146.9 L275.8,148.1 L274.9,149.3 L273.9,148.7 L273.0,150.7 L272.0,151.5 L271.1,151.3 L270.1,152.0 L269.1,152.4 L268.2,151.5 L267.2,152.9 L266.3,154.9Z" fill="rgba(245,145,58,0.3)"/>
<path d="M266.3,124.2 L267.2,125.7 L268.2,125.7 L269.1,125.0 L270.1,123.3 L271.1,121.8 L272.0,122.1 L273.0,121.1 L273.9,120.7 L274.9,119.2 L275.8,119.5 L276.8,118.0 L277.7,117.7 L278.7,116.1 L279.6,115.9 L280.6,116.5 L281.5,115.9 L282.5,115.4 L283.4,115.9 L284.4,115.5 L285.3,116.2 L286.3,113.8 L287.2,114.7 L288.2,115.0 L289.1,113.5 L290.1,112.9 L291.0,114.1 L292.0,113.2 L292.9,112.8 L293.9,113.2 L294.9,112.6 L295.8,113.0 L296.8,112.2 L297.7,112.7 L298.7,113.5 L299.6,113.4 L300.6,111.5 L301.5,112.6 L302.5,112.7 L303.4,111.9 L304.4,113.1 L305.3,111.4 L306.3,113.1 L307.2,112.1 L308.2,113.1 L309.1,112.4 L310.1,111.1 L311.0,111.4 L312.0,111.6 L312.9,111.8 L313.9,112.3 L314.8,111.0 L315.8,111.3 L316.7,111.6 L317.7,110.8 L318.7,109.8 L319.6,109.2 L320.6,110.0 L321.5,110.3 L322.5,109.2 L323.4,108.1 L324.4,109.4 L325.3,108.0 L326.3,108.5 L327.2,108.0 L328.2,107.0 L329.1,107.8 L330.1,107.9 L331.0,109.0 L332.0,110.0 L332.9,108.6 L333.9,108.7 L334.8,108.6 L335.8,107.3 L336.7,106.3 L337.7,107.5 L338.6,106.5 L339.6,106.1 L340.5,105.7 L341.5,105.4 L342.5,104.8 L343.4,105.4 L344.4,105.9 L345.3,104.8 L346.3,103.4 L347.2,103.5 L348.2,102.3 L349.1,102.1 L350.1,103.1 L351.0,104.3 L352.0,103.3 L352.9,101.5 L353.9,101.6 L354.8,99.3 L355.8,99.1 L355.8,116.4 L354.8,118.5 L353.9,119.4 L352.9,121.7 L352.0,123.1 L351.0,123.3 L350.1,122.6 L349.1,125.8 L348.2,127.5 L347.2,129.4 L346.3,129.9 L345.3,131.0 L344.4,131.2 L343.4,130.5 L342.5,130.7 L341.5,131.3 L340.5,132.0 L339.6,130.8 L338.6,130.7 L337.7,132.5 L336.7,133.7 L335.8,134.6 L334.8,134.8 L333.9,134.3 L332.9,134.0 L332.0,133.6 L331.0,132.8 L330.1,133.8 L329.1,133.4 L328.2,134.4 L327.2,133.9 L326.3,133.0 L325.3,133.7 L324.4,134.3 L323.4,132.8 L322.5,134.3 L321.5,136.0 L320.6,134.7 L319.6,134.7 L318.7,134.4 L317.7,135.4 L316.7,135.1 L315.8,134.6 L314.8,133.3 L313.9,134.4 L312.9,134.1 L312.0,133.9 L311.0,135.2 L310.1,135.9 L309.1,134.9 L308.2,134.8 L307.2,134.5 L306.3,135.4 L305.3,136.4 L304.4,134.6 L303.4,134.6 L302.5,136.6 L301.5,136.4 L300.6,135.2 L299.6,135.2 L298.7,135.9 L297.7,137.1 L296.8,137.8 L295.8,136.0 L294.9,135.5 L293.9,137.1 L292.9,137.6 L292.0,138.5 L291.0,138.4 L290.1,137.0 L289.1,137.9 L288.2,140.6 L287.2,138.8 L286.3,138.0 L285.3,137.5 L284.4,140.6 L283.4,141.3 L282.5,141.8 L281.5,141.0 L280.6,142.5 L279.6,142.3 L278.7,142.9 L277.7,143.5 L276.8,144.4 L275.8,146.2 L274.9,147.3 L273.9,147.0 L273.0,149.3 L272.0,150.6 L271.1,150.7 L270.1,151.7 L269.1,152.5 L268.2,151.5 L267.2,152.9 L266.3,154.9Z" fill="rgba(122,72,184,0.3)"/>
<polyline points="240.6,139.1 241.5,139.2 242.5,139.3 243.4,140.5 244.4,140.8 245.3,141.5 246.3,141.5 247.3,141.5 248.2,140.1 249.2,140.5 250.1,140.0 251.1,139.8 252.0,140.4 253.0,141.7 253.9,142.1 254.9,141.7 255.8,141.7 256.8,142.4 257.7,142.0 258.7,142.2 259.6,141.9 260.6,142.7 261.5,142.3 262.5,142.6 263.4,141.5 264.4,140.3 265.3,139.9" fill="none" stroke="#000" stroke-width="2" stroke-linejoin="round"/>
<polyline points="265.3,139.9 266.3,139.2 267.2,139.1 268.2,138.9 269.1,138.9 270.1,137.9 271.1,137.3 272.0,135.8 273.0,135.6 273.9,135.8 274.9,135.3 275.8,134.6 276.8,133.5 277.7,132.3 278.7,131.7 279.6,130.5 280.6,129.5 281.5,129.8 282.5,128.6 283.4,129.2 284.4,127.9 285.3,128.2 286.3,127.4 287.2,127.6 288.2,127.0 289.1,127.2 290.1,127.1 291.0,126.9 292.0,127.2 292.9,127.9 293.9,127.2 294.9,127.6 295.8,127.4 296.8,127.2 297.7,128.3 298.7,126.5 299.6,126.3 300.6,125.5 301.5,125.8 302.5,125.9 303.4,128.0 304.4,127.1 305.3,127.4 306.3,127.2 307.2,126.1 308.2,126.0 309.1,126.4 310.1,125.8 311.0,125.4 312.0,125.3 312.9,124.1 313.9,123.8 314.8,124.2 315.8,124.4 316.7,123.7 317.7,123.5 318.7,123.5 319.6,123.4 320.6,123.7 321.5,123.4 322.5,123.3 323.4,122.3 324.4,121.9 325.3,122.3 326.3,121.3 327.2,121.6 328.2,121.2 329.1,120.7 330.1,121.0 331.0,120.8 332.0,121.5 332.9,122.4 333.9,123.7 334.8,125.4 335.8,123.2 336.7,122.9 337.7,122.4 338.6,122.6 339.6,121.7 340.5,120.0 341.5,120.8 342.5,119.7 343.4,119.5 344.4,118.5 345.3,117.9 346.3,117.6 347.2,118.0 348.2,117.9 349.1,116.9 350.1,116.7 351.0,115.7 352.0,115.0 352.9,114.3 353.9,113.8 354.8,112.5 355.8,111.8" fill="none" stroke="#8a2db5" stroke-width="1.8" stroke-linejoin="round"/>
<polyline points="265.3,139.9 266.3,139.9 267.2,139.2 268.2,137.9 269.1,137.3 270.1,136.2 271.1,135.0 272.0,134.1 273.0,134.0 273.9,133.0 274.9,132.5 275.8,132.8 276.8,133.2 277.7,133.6 278.7,132.4 279.6,133.1 280.6,133.2 281.5,132.8 282.5,132.9 283.4,133.0 284.4,133.6 285.3,132.0 286.3,132.2 287.2,131.7 288.2,131.4 289.1,132.0 290.1,132.0 291.0,130.8 292.0,130.5 292.9,130.7 293.9,130.0 294.9,131.5 295.8,131.9 296.8,132.4 297.7,133.1 298.7,134.5 299.6,133.6 300.6,132.7 301.5,133.5 302.5,132.2 303.4,131.5 304.4,130.4 305.3,131.5 306.3,131.4 307.2,131.4 308.2,131.1 309.1,130.7 310.1,130.0 311.0,129.6 312.0,130.1 312.9,130.0 313.9,130.9 314.8,129.7 315.8,129.0 316.7,128.2 317.7,129.2 318.7,127.8 319.6,128.3 320.6,128.9 321.5,128.3 322.5,128.6 323.4,126.9 324.4,127.2 325.3,126.5 326.3,127.2 327.2,127.3 328.2,126.8 329.1,127.6 330.1,127.5 331.0,126.8 332.0,126.4 332.9,125.5 333.9,125.8 334.8,127.3 335.8,126.2 336.7,126.6 337.7,126.2 338.6,127.0 339.6,127.2 340.5,127.0 341.5,125.9 342.5,125.8 343.4,126.7 344.4,126.1 345.3,126.1 346.3,125.3 347.2,124.6 348.2,126.7 349.1,128.3 350.1,129.1 351.0,129.5 352.0,130.2 352.9,130.2 353.9,130.9 354.8,131.1 355.8,130.0" fill="none" stroke="#0c7a2c" stroke-width="1.8" stroke-linejoin="round"/>
<polyline points="265.3,139.9 266.3,139.2 267.2,139.0 268.2,139.3 269.1,138.9 270.1,139.1 271.1,139.4 272.0,138.9 273.0,137.4 273.9,136.7 274.9,136.8 275.8,136.0 276.8,135.0 277.7,134.7 278.7,134.7 279.6,134.5 280.6,134.4 281.5,133.4 282.5,133.1 283.4,132.9 284.4,132.9 285.3,131.7 286.3,132.0 287.2,131.5 288.2,132.5 289.1,132.8 290.1,132.9 291.0,132.4 292.0,131.3 292.9,131.3 293.9,130.5 294.9,130.2 295.8,129.1 296.8,128.5 297.7,128.4 298.7,128.8 299.6,128.2 300.6,128.9 301.5,129.5 302.5,127.7 303.4,127.3 304.4,126.6 305.3,126.6 306.3,126.3 307.2,126.3 308.2,126.7 309.1,126.8 310.1,126.5 311.0,126.1 312.0,125.9 312.9,125.7 313.9,125.8 314.8,125.5 315.8,126.2 316.7,125.8 317.7,126.9 318.7,128.2 319.6,128.3 320.6,127.4 321.5,128.2 322.5,127.6 323.4,126.0 324.4,126.4 325.3,127.0 326.3,127.0 327.2,127.4 328.2,127.2 329.1,126.8 330.1,125.5 331.0,125.2 332.0,125.6 332.9,125.9 333.9,125.2 334.8,125.0 335.8,125.3 336.7,124.1 337.7,123.3 338.6,123.6 339.6,123.8 340.5,123.4 341.5,122.2 342.5,122.5 343.4,121.9 344.4,122.3 345.3,122.1 346.3,121.9 347.2,121.7 348.2,120.4 349.1,120.1 350.1,119.7 351.0,118.7 352.0,118.3 352.9,117.6 353.9,118.2 354.8,118.3 355.8,117.9" fill="none" stroke="#f26a12" stroke-width="1.8" stroke-linejoin="round"/>
</g>
<rect x="217.8" y="95.4" width="144.2" height="61.4" fill="none" stroke="#6e6e6e" stroke-width="1.1"/>
<line x1="222.5" y1="156.8" x2="222.5" y2="154.5" stroke="#6e6e6e" stroke-width="0.9"/>
<text x="222.5" y="166.3" font-size="7.5" text-anchor="middle" fill="#222" stroke="#222" stroke-width="0.1">1960</text>
<line x1="241.5" y1="156.8" x2="241.5" y2="154.5" stroke="#6e6e6e" stroke-width="0.9"/>
<text x="241.5" y="166.3" font-size="7.5" text-anchor="middle" fill="#222" stroke="#222" stroke-width="0.1">1980</text>
<line x1="260.6" y1="156.8" x2="260.6" y2="154.5" stroke="#6e6e6e" stroke-width="0.9"/>
<text x="260.6" y="166.3" font-size="7.5" text-anchor="middle" fill="#222" stroke="#222" stroke-width="0.1">2000</text>
<line x1="279.6" y1="156.8" x2="279.6" y2="154.5" stroke="#6e6e6e" stroke-width="0.9"/>
<text x="279.6" y="166.3" font-size="7.5" text-anchor="middle" fill="#222" stroke="#222" stroke-width="0.1">2020</text>
<line x1="298.7" y1="156.8" x2="298.7" y2="154.5" stroke="#6e6e6e" stroke-width="0.9"/>
<text x="298.7" y="166.3" font-size="7.5" text-anchor="middle" fill="#222" stroke="#222" stroke-width="0.1">2040</text>
<line x1="317.7" y1="156.8" x2="317.7" y2="154.5" stroke="#6e6e6e" stroke-width="0.9"/>
<text x="317.7" y="166.3" font-size="7.5" text-anchor="middle" fill="#222" stroke="#222" stroke-width="0.1">2060</text>
<line x1="336.7" y1="156.8" x2="336.7" y2="154.5" stroke="#6e6e6e" stroke-width="0.9"/>
<text x="336.7" y="166.3" font-size="7.5" text-anchor="middle" fill="#222" stroke="#222" stroke-width="0.1">2080</text>
<line x1="355.8" y1="156.8" x2="355.8" y2="154.5" stroke="#6e6e6e" stroke-width="0.9"/>
<text x="355.8" y="166.3" font-size="7.5" text-anchor="middle" fill="#222" stroke="#222" stroke-width="0.1">2100</text>
<line x1="217.8" y1="98.3" x2="220.10000000000002" y2="98.3" stroke="#6e6e6e" stroke-width="0.9"/>
<text x="213.6" y="100.9" font-size="7.5" text-anchor="end" fill="#222" stroke="#222" stroke-width="0.1">30</text>
<line x1="217.8" y1="112.3" x2="220.10000000000002" y2="112.3" stroke="#6e6e6e" stroke-width="0.9"/>
<text x="213.6" y="114.9" font-size="7.5" text-anchor="end" fill="#222" stroke="#222" stroke-width="0.1">20</text>
<line x1="217.8" y1="126.4" x2="220.10000000000002" y2="126.4" stroke="#6e6e6e" stroke-width="0.9"/>
<text x="213.6" y="128.9" font-size="7.5" text-anchor="end" fill="#222" stroke="#222" stroke-width="0.1">10</text>
<line x1="217.8" y1="140.4" x2="220.10000000000002" y2="140.4" stroke="#6e6e6e" stroke-width="0.9"/>
<text x="213.6" y="142.9" font-size="7.5" text-anchor="end" fill="#222" stroke="#222" stroke-width="0.1">0</text>
<line x1="217.8" y1="154.4" x2="220.10000000000002" y2="154.4" stroke="#6e6e6e" stroke-width="0.9"/>
<text x="213.6" y="157.0" font-size="7.5" text-anchor="end" fill="#222" stroke="#222" stroke-width="0.1">-10</text>
<text transform="translate(192.4,126.1) rotate(-90)" font-size="7.2" text-anchor="middle" fill="#333">Annual Pr Anomaly</text>
<text transform="translate(203.2,126.1) rotate(-90)" font-size="7.2" text-anchor="middle" fill="#333">(mm)</text>
<text x="224.5" y="105.2" font-size="7.8" fill="#1f8a52">0.27/10a</text>
<text x="224.5" y="114.0" font-size="7.8" fill="#f5782a">1.18/10a</text>
<text x="224.5" y="122.9" font-size="7.8" fill="#9148c2">1.15/10a</text>
<text x="225.4" y="152.5" font-size="11" fill="#222">(g)</text>
<text x="357.8" y="152.2" font-size="10" text-anchor="end" fill="#111">MAM</text>
</g>
<g>
<clipPath id="ch"><rect x="217.8" y="169.4" width="144.2" height="61.6"/></clipPath>
<g clip-path="url(#ch)">
<path d="M240.6,199.8 L241.5,199.4 L242.5,199.0 L243.4,199.0 L244.4,199.2 L245.3,199.4 L246.3,199.4 L247.3,199.5 L248.2,198.9 L249.2,197.8 L250.1,198.8 L251.1,199.8 L252.0,199.0 L253.0,198.9 L253.9,199.3 L254.9,199.8 L255.8,200.0 L256.8,200.4 L257.7,200.0 L258.7,200.0 L259.6,200.0 L260.6,199.6 L261.5,200.2 L262.5,200.2 L263.4,200.4 L264.4,199.9 L265.3,200.2 L265.3,218.2 L264.4,218.2 L263.4,217.5 L262.5,217.7 L261.5,218.7 L260.6,218.5 L259.6,218.5 L258.7,218.2 L257.7,218.6 L256.8,218.5 L255.8,217.6 L254.9,217.6 L253.9,218.6 L253.0,218.9 L252.0,218.2 L251.1,218.2 L250.1,218.0 L249.2,218.2 L248.2,217.9 L247.3,216.6 L246.3,217.3 L245.3,217.0 L244.4,217.0 L243.4,216.0 L242.5,215.9 L241.5,217.2 L240.6,216.8Z" fill="#e8e8e8"/>
<path d="M266.3,199.0 L267.2,197.9 L268.2,197.5 L269.1,196.8 L270.1,196.6 L271.1,197.0 L272.0,196.8 L273.0,196.2 L273.9,197.9 L274.9,197.9 L275.8,199.1 L276.8,198.4 L277.7,197.9 L278.7,198.2 L279.6,198.0 L280.6,197.0 L281.5,197.2 L282.5,196.0 L283.4,195.2 L284.4,195.8 L285.3,195.0 L286.3,194.0 L287.2,193.7 L288.2,194.2 L289.1,193.6 L290.1,193.6 L291.0,193.6 L292.0,193.1 L292.9,193.4 L293.9,193.1 L294.9,192.3 L295.8,193.3 L296.8,193.0 L297.7,192.8 L298.7,192.8 L299.6,193.4 L300.6,194.1 L301.5,193.5 L302.5,193.8 L303.4,195.6 L304.4,194.8 L305.3,194.2 L306.3,194.2 L307.2,194.7 L308.2,195.0 L309.1,194.0 L310.1,193.8 L311.0,192.2 L312.0,191.4 L312.9,190.1 L313.9,190.4 L314.8,188.3 L315.8,189.6 L316.7,188.3 L317.7,188.7 L318.7,189.4 L319.6,189.4 L320.6,190.3 L321.5,189.7 L322.5,189.2 L323.4,189.3 L324.4,189.9 L325.3,189.1 L326.3,188.7 L327.2,188.0 L328.2,188.7 L329.1,188.4 L330.1,187.8 L331.0,186.7 L332.0,186.9 L332.9,187.9 L333.9,188.6 L334.8,188.9 L335.8,189.4 L336.7,189.3 L337.7,187.7 L338.6,188.6 L339.6,189.8 L340.5,190.6 L341.5,189.1 L342.5,188.4 L343.4,188.8 L344.4,188.6 L345.3,188.0 L346.3,188.5 L347.2,187.6 L348.2,186.4 L349.1,187.5 L350.1,187.6 L351.0,187.1 L352.0,188.3 L352.9,187.5 L353.9,189.6 L354.8,190.3 L355.8,190.5 L355.8,207.9 L354.8,208.8 L353.9,208.0 L352.9,208.5 L352.0,207.0 L351.0,206.3 L350.1,206.7 L349.1,206.8 L348.2,210.5 L347.2,208.7 L346.3,208.6 L345.3,209.9 L344.4,209.6 L343.4,209.4 L342.5,208.9 L341.5,207.7 L340.5,206.5 L339.6,206.0 L338.6,205.2 L337.7,206.6 L336.7,206.6 L335.8,206.3 L334.8,204.7 L333.9,205.1 L332.9,206.5 L332.0,205.8 L331.0,206.0 L330.1,206.9 L329.1,207.7 L328.2,207.1 L327.2,209.3 L326.3,208.5 L325.3,208.5 L324.4,209.3 L323.4,208.6 L322.5,209.8 L321.5,210.1 L320.6,208.7 L319.6,208.4 L318.7,208.7 L317.7,210.3 L316.7,210.0 L315.8,210.3 L314.8,211.1 L313.9,211.9 L312.9,212.6 L312.0,214.3 L311.0,211.8 L310.1,213.2 L309.1,213.0 L308.2,212.4 L307.2,212.3 L306.3,213.1 L305.3,212.7 L304.4,213.4 L303.4,213.0 L302.5,213.2 L301.5,212.4 L300.6,211.6 L299.6,212.6 L298.7,211.8 L297.7,213.7 L296.8,212.7 L295.8,211.8 L294.9,212.8 L293.9,212.8 L292.9,214.1 L292.0,213.8 L291.0,212.5 L290.1,213.9 L289.1,212.7 L288.2,213.8 L287.2,213.7 L286.3,215.1 L285.3,214.3 L284.4,216.3 L283.4,216.4 L282.5,217.2 L281.5,218.0 L280.6,218.2 L279.6,218.7 L278.7,220.1 L277.7,219.9 L276.8,219.6 L275.8,218.8 L274.9,219.0 L273.9,219.1 L273.0,221.6 L272.0,222.8 L271.1,222.5 L270.1,222.8 L269.1,222.8 L268.2,223.3 L267.2,223.2 L266.3,223.1Z" fill="rgba(118,198,118,0.22)"/>
<path d="M266.3,199.0 L267.2,197.7 L268.2,197.3 L269.1,197.0 L270.1,196.1 L271.1,196.9 L272.0,195.6 L273.0,194.9 L273.9,197.5 L274.9,196.1 L275.8,196.2 L276.8,196.6 L277.7,196.3 L278.7,195.9 L279.6,195.9 L280.6,194.1 L281.5,195.0 L282.5,194.7 L283.4,194.1 L284.4,195.0 L285.3,194.4 L286.3,195.1 L287.2,192.7 L288.2,192.2 L289.1,191.0 L290.1,190.5 L291.0,189.5 L292.0,188.8 L292.9,187.7 L293.9,185.7 L294.9,185.4 L295.8,186.7 L296.8,187.2 L297.7,186.4 L298.7,186.0 L299.6,186.8 L300.6,186.9 L301.5,186.7 L302.5,186.4 L303.4,188.2 L304.4,186.8 L305.3,185.4 L306.3,185.1 L307.2,186.0 L308.2,186.1 L309.1,187.0 L310.1,187.6 L311.0,188.2 L312.0,188.8 L312.9,189.0 L313.9,188.6 L314.8,190.0 L315.8,191.4 L316.7,191.7 L317.7,192.0 L318.7,192.9 L319.6,192.9 L320.6,192.6 L321.5,193.4 L322.5,194.0 L323.4,193.7 L324.4,194.2 L325.3,195.6 L326.3,195.2 L327.2,195.0 L328.2,195.6 L329.1,194.9 L330.1,194.7 L331.0,193.4 L332.0,193.9 L332.9,195.3 L333.9,195.4 L334.8,194.7 L335.8,194.4 L336.7,193.9 L337.7,193.0 L338.6,193.7 L339.6,193.7 L340.5,193.4 L341.5,193.6 L342.5,192.7 L343.4,192.4 L344.4,192.1 L345.3,191.3 L346.3,191.1 L347.2,190.4 L348.2,190.2 L349.1,190.7 L350.1,190.1 L351.0,188.2 L352.0,189.1 L352.9,187.8 L353.9,188.9 L354.8,189.3 L355.8,189.1 L355.8,204.7 L354.8,206.7 L353.9,207.5 L352.9,208.0 L352.0,207.1 L351.0,208.4 L350.1,208.9 L349.1,209.2 L348.2,211.8 L347.2,210.4 L346.3,210.8 L345.3,212.7 L344.4,213.7 L343.4,213.0 L342.5,213.1 L341.5,212.8 L340.5,211.1 L339.6,211.6 L338.6,211.5 L337.7,212.0 L336.7,213.1 L335.8,213.2 L334.8,211.8 L333.9,212.3 L332.9,213.2 L332.0,212.6 L331.0,212.6 L330.1,213.1 L329.1,213.8 L328.2,212.0 L327.2,213.3 L326.3,212.9 L325.3,211.9 L324.4,213.7 L323.4,213.2 L322.5,213.8 L321.5,214.2 L320.6,213.1 L319.6,213.3 L318.7,212.4 L317.7,213.6 L316.7,212.6 L315.8,212.6 L314.8,211.2 L313.9,212.1 L312.9,209.6 L312.0,210.6 L311.0,208.6 L310.1,208.7 L309.1,207.2 L308.2,205.2 L307.2,204.3 L306.3,205.4 L305.3,202.8 L304.4,203.8 L303.4,204.1 L302.5,204.8 L301.5,204.7 L300.6,204.2 L299.6,205.9 L298.7,205.4 L297.7,207.3 L296.8,208.2 L295.8,207.6 L294.9,208.1 L293.9,208.0 L292.9,210.1 L292.0,210.3 L291.0,210.2 L290.1,211.4 L289.1,210.8 L288.2,211.8 L287.2,211.8 L286.3,213.3 L285.3,214.6 L284.4,216.3 L283.4,216.1 L282.5,217.1 L281.5,218.8 L280.6,217.4 L279.6,218.0 L278.7,219.2 L277.7,219.3 L276.8,218.2 L275.8,218.3 L274.9,218.9 L273.9,218.5 L273.0,220.8 L272.0,221.9 L271.1,222.0 L270.1,221.8 L269.1,221.6 L268.2,222.2 L267.2,222.1 L266.3,221.9Z" fill="rgba(245,145,58,0.3)"/>
<path d="M266.3,198.7 L267.2,198.5 L268.2,197.0 L269.1,196.7 L270.1,195.8 L271.1,195.1 L272.0,195.4 L273.0,196.5 L273.9,196.3 L274.9,195.2 L275.8,194.3 L276.8,193.8 L277.7,193.7 L278.7,192.3 L279.6,191.1 L280.6,192.1 L281.5,191.6 L282.5,191.7 L283.4,190.9 L284.4,191.0 L285.3,189.8 L286.3,189.6 L287.2,189.8 L288.2,189.5 L289.1,188.5 L290.1,188.4 L291.0,187.5 L292.0,186.5 L292.9,187.0 L293.9,187.7 L294.9,187.7 L295.8,186.7 L296.8,187.2 L297.7,187.3 L298.7,186.8 L299.6,185.7 L300.6,186.9 L301.5,187.4 L302.5,187.6 L303.4,186.6 L304.4,186.3 L305.3,187.3 L306.3,187.8 L307.2,188.0 L308.2,187.7 L309.1,187.9 L310.1,187.7 L311.0,187.8 L312.0,187.6 L312.9,188.2 L313.9,188.2 L314.8,189.0 L315.8,189.3 L316.7,188.8 L317.7,189.7 L318.7,188.6 L319.6,188.9 L320.6,189.2 L321.5,189.5 L322.5,187.9 L323.4,188.6 L324.4,189.0 L325.3,189.3 L326.3,187.6 L327.2,187.5 L328.2,187.7 L329.1,187.6 L330.1,188.4 L331.0,187.8 L332.0,188.4 L332.9,188.3 L333.9,187.3 L334.8,187.0 L335.8,187.1 L336.7,187.5 L337.7,188.1 L338.6,187.8 L339.6,188.2 L340.5,187.2 L341.5,186.0 L342.5,186.7 L343.4,187.4 L344.4,187.3 L345.3,186.9 L346.3,187.4 L347.2,188.3 L348.2,187.7 L349.1,187.1 L350.1,186.7 L351.0,187.9 L352.0,187.4 L352.9,187.5 L353.9,187.8 L354.8,187.8 L355.8,186.8 L355.8,211.3 L354.8,213.2 L353.9,212.8 L352.9,213.2 L352.0,211.2 L351.0,211.7 L350.1,211.7 L349.1,210.8 L348.2,213.4 L347.2,211.9 L346.3,212.2 L345.3,212.2 L344.4,213.4 L343.4,212.0 L342.5,213.1 L341.5,212.8 L340.5,211.9 L339.6,211.7 L338.6,212.6 L337.7,213.5 L336.7,214.0 L335.8,213.8 L334.8,213.1 L333.9,213.2 L332.9,213.9 L332.0,213.4 L331.0,212.9 L330.1,213.5 L329.1,213.8 L328.2,212.7 L327.2,214.2 L326.3,213.1 L325.3,213.4 L324.4,214.2 L323.4,213.1 L322.5,213.5 L321.5,213.1 L320.6,213.1 L319.6,213.1 L318.7,212.5 L317.7,213.4 L316.7,212.7 L315.8,213.6 L314.8,211.7 L313.9,213.4 L312.9,213.3 L312.0,215.3 L311.0,213.0 L310.1,213.5 L309.1,213.6 L308.2,212.7 L307.2,210.7 L306.3,210.2 L305.3,208.6 L304.4,208.9 L303.4,208.8 L302.5,208.5 L301.5,209.5 L300.6,208.8 L299.6,208.9 L298.7,209.2 L297.7,210.6 L296.8,211.1 L295.8,210.5 L294.9,211.2 L293.9,209.7 L292.9,213.1 L292.0,213.5 L291.0,212.8 L290.1,213.1 L289.1,212.1 L288.2,212.4 L287.2,213.2 L286.3,213.2 L285.3,214.6 L284.4,215.6 L283.4,216.1 L282.5,215.5 L281.5,218.0 L280.6,218.0 L279.6,218.2 L278.7,219.2 L277.7,218.9 L276.8,218.1 L275.8,217.7 L274.9,218.8 L273.9,218.2 L273.0,220.5 L272.0,221.7 L271.1,222.0 L270.1,221.7 L269.1,221.6 L268.2,222.2 L267.2,222.1 L266.3,221.9Z" fill="rgba(122,72,184,0.3)"/>
<polyline points="240.6,208.6 241.5,208.6 242.5,208.7 243.4,209.2 244.4,209.6 245.3,209.5 246.3,210.3 247.3,209.8 248.2,209.3 249.2,208.7 250.1,207.9 251.1,207.3 252.0,207.7 253.0,208.4 253.9,208.8 254.9,209.0 255.8,209.2 256.8,209.9 257.7,209.8 258.7,209.5 259.6,208.7 260.6,208.4 261.5,207.9 262.5,208.3 263.4,208.4 264.4,208.2 265.3,208.1" fill="none" stroke="#000" stroke-width="2" stroke-linejoin="round"/>
<polyline points="265.3,208.1 266.3,210.3 267.2,210.2 268.2,211.3 269.1,212.1 270.1,212.5 271.1,212.3 272.0,210.9 273.0,210.7 273.9,210.1 274.9,209.4 275.8,209.0 276.8,207.8 277.7,208.5 278.7,207.2 279.6,206.5 280.6,206.5 281.5,205.1 282.5,205.4 283.4,205.2 284.4,203.7 285.3,202.1 286.3,201.0 287.2,199.2 288.2,199.4 289.1,198.6 290.1,198.2 291.0,197.8 292.0,198.4 292.9,199.1 293.9,198.0 294.9,197.8 295.8,197.2 296.8,198.0 297.7,198.2 298.7,199.3 299.6,198.7 300.6,198.3 301.5,197.9 302.5,198.5 303.4,197.5 304.4,198.3 305.3,198.5 306.3,198.7 307.2,198.8 308.2,200.1 309.1,201.4 310.1,201.1 311.0,201.7 312.0,202.3 312.9,201.5 313.9,201.2 314.8,200.6 315.8,200.9 316.7,201.0 317.7,200.9 318.7,200.8 319.6,200.4 320.6,200.4 321.5,200.7 322.5,201.7 323.4,201.7 324.4,201.6 325.3,202.3 326.3,202.6 327.2,202.2 328.2,202.1 329.1,202.8 330.1,203.0 331.0,202.5 332.0,202.9 332.9,203.0 333.9,203.5 334.8,202.7 335.8,203.1 336.7,203.1 337.7,202.3 338.6,202.8 339.6,203.0 340.5,201.9 341.5,203.0 342.5,201.8 343.4,201.1 344.4,201.0 345.3,201.3 346.3,201.2 347.2,200.6 348.2,201.2 349.1,201.3 350.1,201.9 351.0,203.0 352.0,202.4 352.9,200.8 353.9,201.1 354.8,201.1 355.8,201.8" fill="none" stroke="#8a2db5" stroke-width="1.8" stroke-linejoin="round"/>
<polyline points="265.3,208.1 266.3,209.5 267.2,209.6 268.2,210.3 269.1,210.8 270.1,212.1 271.1,213.9 272.0,213.5 273.0,212.5 273.9,210.3 274.9,211.0 275.8,211.2 276.8,210.1 277.7,209.1 278.7,209.0 279.6,207.6 280.6,207.7 281.5,206.1 282.5,205.2 283.4,204.9 284.4,203.2 285.3,202.9 286.3,202.6 287.2,200.7 288.2,200.8 289.1,199.7 290.1,200.4 291.0,200.6 292.0,200.3 292.9,200.2 293.9,199.4 294.9,199.8 295.8,200.0 296.8,201.8 297.7,202.4 298.7,201.2 299.6,202.2 300.6,202.4 301.5,202.1 302.5,202.7 303.4,203.3 304.4,202.8 305.3,202.7 306.3,202.5 307.2,201.4 308.2,201.5 309.1,201.1 310.1,200.4 311.0,199.7 312.0,199.9 312.9,200.2 313.9,199.8 314.8,198.7 315.8,199.2 316.7,199.0 317.7,199.0 318.7,199.4 319.6,198.0 320.6,197.8 321.5,197.2 322.5,196.7 323.4,198.3 324.4,198.2 325.3,196.2 326.3,196.6 327.2,196.1 328.2,196.8 329.1,196.4 330.1,195.9 331.0,195.7 332.0,195.7 332.9,195.4 333.9,194.9 334.8,194.8 335.8,195.6 336.7,195.0 337.7,195.6 338.6,196.0 339.6,196.1 340.5,197.2 341.5,196.5 342.5,196.9 343.4,197.0 344.4,197.5 345.3,196.9 346.3,196.8 347.2,196.8 348.2,195.3 349.1,195.8 350.1,195.1 351.0,195.2 352.0,195.7 352.9,196.8 353.9,197.5 354.8,198.7 355.8,198.5" fill="none" stroke="#0c7a2c" stroke-width="1.8" stroke-linejoin="round"/>
<polyline points="265.3,208.1 266.3,209.2 267.2,209.8 268.2,211.1 269.1,211.3 270.1,211.2 271.1,211.9 272.0,211.3 273.0,210.5 273.9,209.3 274.9,207.4 275.8,207.2 276.8,207.7 277.7,207.2 278.7,205.4 279.6,205.5 280.6,204.3 281.5,205.6 282.5,205.0 283.4,203.6 284.4,203.2 285.3,201.5 286.3,200.9 287.2,199.7 288.2,197.8 289.1,197.7 290.1,196.7 291.0,197.5 292.0,197.2 292.9,196.2 293.9,195.2 294.9,196.5 295.8,197.0 296.8,195.5 297.7,196.4 298.7,195.8 299.6,195.2 300.6,194.9 301.5,194.6 302.5,195.3 303.4,194.8 304.4,193.3 305.3,194.7 306.3,194.7 307.2,193.4 308.2,193.2 309.1,193.7 310.1,194.9 311.0,196.1 312.0,197.0 312.9,197.4 313.9,197.9 314.8,199.5 315.8,200.1 316.7,202.2 317.7,201.9 318.7,202.7 319.6,202.5 320.6,202.0 321.5,203.0 322.5,202.8 323.4,202.1 324.4,202.2 325.3,203.0 326.3,202.1 327.2,203.2 328.2,203.2 329.1,202.6 330.1,203.1 331.0,203.5 332.0,203.0 332.9,202.5 333.9,203.1 334.8,203.1 335.8,201.7 336.7,201.5 337.7,201.5 338.6,201.5 339.6,200.9 340.5,202.0 341.5,202.1 342.5,202.0 343.4,202.3 344.4,201.1 345.3,200.5 346.3,200.2 347.2,199.4 348.2,199.0 349.1,199.0 350.1,198.2 351.0,198.3 352.0,196.9 352.9,196.4 353.9,195.0 354.8,194.7 355.8,194.0" fill="none" stroke="#f26a12" stroke-width="1.8" stroke-linejoin="round"/>
</g>
<rect x="217.8" y="169.4" width="144.2" height="61.6" fill="none" stroke="#6e6e6e" stroke-width="1.1"/>
<line x1="222.5" y1="231.0" x2="222.5" y2="228.7" stroke="#6e6e6e" stroke-width="0.9"/>
<text x="222.5" y="240.5" font-size="7.5" text-anchor="middle" fill="#222" stroke="#222" stroke-width="0.1">1960</text>
<line x1="241.5" y1="231.0" x2="241.5" y2="228.7" stroke="#6e6e6e" stroke-width="0.9"/>
<text x="241.5" y="240.5" font-size="7.5" text-anchor="middle" fill="#222" stroke="#222" stroke-width="0.1">1980</text>
<line x1="260.6" y1="231.0" x2="260.6" y2="228.7" stroke="#6e6e6e" stroke-width="0.9"/>
<text x="260.6" y="240.5" font-size="7.5" text-anchor="middle" fill="#222" stroke="#222" stroke-width="0.1">2000</text>
<line x1="279.6" y1="231.0" x2="279.6" y2="228.7" stroke="#6e6e6e" stroke-width="0.9"/>
<text x="279.6" y="240.5" font-size="7.5" text-anchor="middle" fill="#222" stroke="#222" stroke-width="0.1">2020</text>
<line x1="298.7" y1="231.0" x2="298.7" y2="228.7" stroke="#6e6e6e" stroke-width="0.9"/>
<text x="298.7" y="240.5" font-size="7.5" text-anchor="middle" fill="#222" stroke="#222" stroke-width="0.1">2040</text>
<line x1="317.7" y1="231.0" x2="317.7" y2="228.7" stroke="#6e6e6e" stroke-width="0.9"/>
<text x="317.7" y="240.5" font-size="7.5" text-anchor="middle" fill="#222" stroke="#222" stroke-width="0.1">2060</text>
<line x1="336.7" y1="231.0" x2="336.7" y2="228.7" stroke="#6e6e6e" stroke-width="0.9"/>
<text x="336.7" y="240.5" font-size="7.5" text-anchor="middle" fill="#222" stroke="#222" stroke-width="0.1">2080</text>
<line x1="355.8" y1="231.0" x2="355.8" y2="228.7" stroke="#6e6e6e" stroke-width="0.9"/>
<text x="355.8" y="240.5" font-size="7.5" text-anchor="middle" fill="#222" stroke="#222" stroke-width="0.1">2100</text>
<line x1="217.8" y1="172.3" x2="220.10000000000002" y2="172.3" stroke="#6e6e6e" stroke-width="0.9"/>
<text x="213.6" y="174.9" font-size="7.5" text-anchor="end" fill="#222" stroke="#222" stroke-width="0.1">20</text>
<line x1="217.8" y1="191.1" x2="220.10000000000002" y2="191.1" stroke="#6e6e6e" stroke-width="0.9"/>
<text x="213.6" y="193.6" font-size="7.5" text-anchor="end" fill="#222" stroke="#222" stroke-width="0.1">10</text>
<line x1="217.8" y1="209.8" x2="220.10000000000002" y2="209.8" stroke="#6e6e6e" stroke-width="0.9"/>
<text x="213.6" y="212.4" font-size="7.5" text-anchor="end" fill="#222" stroke="#222" stroke-width="0.1">0</text>
<line x1="217.8" y1="228.6" x2="220.10000000000002" y2="228.6" stroke="#6e6e6e" stroke-width="0.9"/>
<text x="213.6" y="231.2" font-size="7.5" text-anchor="end" fill="#222" stroke="#222" stroke-width="0.1">-10</text>
<text transform="translate(192.4,200.2) rotate(-90)" font-size="7.2" text-anchor="middle" fill="#333">Annual Pr Anomaly</text>
<text transform="translate(203.2,200.2) rotate(-90)" font-size="7.2" text-anchor="middle" fill="#333">(mm)</text>
<text x="224.5" y="179.2" font-size="7.8" fill="#1f8a52">0.46/10a</text>
<text x="224.5" y="188.1" font-size="7.8" fill="#f5782a">0.21/10a</text>
<text x="224.5" y="196.9" font-size="7.8" fill="#9148c2">-0.23/10a</text>
<text x="225.4" y="226.7" font-size="11" fill="#222">(h)</text>
<text x="357.8" y="226.4" font-size="10" text-anchor="end" fill="#111">JJA</text>
</g>
<g>
<clipPath id="ci"><rect x="217.8" y="243.4" width="144.2" height="61.9"/></clipPath>
<g clip-path="url(#ci)">
<path d="M240.6,273.0 L241.5,273.7 L242.5,273.8 L243.4,275.0 L244.4,275.4 L245.3,274.6 L246.3,274.3 L247.3,273.9 L248.2,274.2 L249.2,274.4 L250.1,274.8 L251.1,274.9 L252.0,274.2 L253.0,274.0 L253.9,274.9 L254.9,275.3 L255.8,275.0 L256.8,274.8 L257.7,274.7 L258.7,274.7 L259.6,273.9 L260.6,274.6 L261.5,274.4 L262.5,274.6 L263.4,273.4 L264.4,274.0 L265.3,274.9 L265.3,294.3 L264.4,294.6 L263.4,295.7 L262.5,295.8 L261.5,296.0 L260.6,295.5 L259.6,294.5 L258.7,294.3 L257.7,293.6 L256.8,293.7 L255.8,294.4 L254.9,293.4 L253.9,293.7 L253.0,293.8 L252.0,294.5 L251.1,294.0 L250.1,294.3 L249.2,293.7 L248.2,293.9 L247.3,294.0 L246.3,293.6 L245.3,293.4 L244.4,292.5 L243.4,292.9 L242.5,293.2 L241.5,292.8 L240.6,291.8Z" fill="#e8e8e8"/>
<path d="M266.3,272.2 L267.2,271.1 L268.2,270.9 L269.1,270.8 L270.1,272.2 L271.1,272.2 L272.0,271.3 L273.0,271.7 L273.9,272.2 L274.9,271.3 L275.8,272.0 L276.8,271.1 L277.7,271.9 L278.7,273.0 L279.6,271.5 L280.6,271.0 L281.5,271.6 L282.5,272.4 L283.4,271.6 L284.4,271.9 L285.3,272.1 L286.3,272.6 L287.2,272.8 L288.2,273.3 L289.1,273.9 L290.1,271.9 L291.0,271.1 L292.0,270.7 L292.9,269.3 L293.9,269.9 L294.9,269.0 L295.8,269.8 L296.8,271.3 L297.7,270.7 L298.7,271.9 L299.6,272.3 L300.6,271.5 L301.5,272.1 L302.5,271.5 L303.4,270.8 L304.4,271.4 L305.3,270.6 L306.3,270.5 L307.2,270.8 L308.2,270.9 L309.1,270.4 L310.1,270.1 L311.0,270.5 L312.0,270.2 L312.9,269.5 L313.9,269.7 L314.8,269.7 L315.8,269.7 L316.7,271.1 L317.7,270.9 L318.7,270.5 L319.6,270.5 L320.6,271.9 L321.5,271.5 L322.5,269.6 L323.4,269.4 L324.4,268.7 L325.3,267.9 L326.3,267.7 L327.2,267.3 L328.2,266.5 L329.1,265.2 L330.1,266.3 L331.0,265.9 L332.0,265.7 L332.9,265.7 L333.9,265.4 L334.8,264.1 L335.8,264.8 L336.7,263.7 L337.7,263.4 L338.6,263.6 L339.6,265.1 L340.5,266.3 L341.5,265.5 L342.5,267.8 L343.4,269.4 L344.4,271.0 L345.3,271.6 L346.3,271.6 L347.2,271.2 L348.2,270.3 L349.1,269.7 L350.1,271.6 L351.0,271.2 L352.0,271.1 L352.9,270.5 L353.9,271.1 L354.8,270.5 L355.8,270.2 L355.8,291.0 L354.8,290.1 L353.9,288.1 L352.9,287.2 L352.0,287.5 L351.0,288.0 L350.1,288.2 L349.1,288.6 L348.2,288.6 L347.2,288.7 L346.3,289.4 L345.3,288.9 L344.4,288.6 L343.4,288.5 L342.5,288.6 L341.5,286.5 L340.5,286.5 L339.6,283.5 L338.6,282.0 L337.7,281.6 L336.7,282.6 L335.8,282.6 L334.8,281.2 L333.9,281.9 L332.9,282.1 L332.0,283.9 L331.0,283.2 L330.1,283.3 L329.1,283.4 L328.2,283.5 L327.2,283.2 L326.3,284.3 L325.3,282.0 L324.4,283.8 L323.4,283.6 L322.5,285.7 L321.5,285.6 L320.6,285.9 L319.6,285.5 L318.7,286.6 L317.7,287.2 L316.7,286.1 L315.8,287.2 L314.8,287.9 L313.9,288.7 L312.9,288.2 L312.0,288.0 L311.0,289.2 L310.1,287.4 L309.1,288.5 L308.2,288.1 L307.2,289.7 L306.3,290.9 L305.3,291.0 L304.4,288.6 L303.4,288.5 L302.5,290.3 L301.5,290.3 L300.6,290.9 L299.6,289.6 L298.7,289.3 L297.7,288.2 L296.8,286.9 L295.8,288.2 L294.9,289.0 L293.9,289.4 L292.9,290.3 L292.0,291.7 L291.0,290.4 L290.1,292.0 L289.1,291.4 L288.2,290.7 L287.2,292.9 L286.3,292.0 L285.3,292.0 L284.4,292.8 L283.4,291.9 L282.5,291.6 L281.5,292.0 L280.6,292.2 L279.6,293.9 L278.7,294.3 L277.7,294.2 L276.8,294.0 L275.8,294.4 L274.9,293.8 L273.9,293.2 L273.0,294.7 L272.0,295.3 L271.1,295.1 L270.1,295.2 L269.1,295.6 L268.2,297.2 L267.2,299.1 L266.3,299.3Z" fill="rgba(118,198,118,0.22)"/>
<path d="M266.3,272.2 L267.2,271.1 L268.2,270.8 L269.1,270.5 L270.1,272.0 L271.1,272.3 L272.0,271.7 L273.0,271.4 L273.9,272.1 L274.9,271.7 L275.8,271.1 L276.8,270.5 L277.7,271.8 L278.7,272.5 L279.6,272.5 L280.6,272.4 L281.5,272.4 L282.5,272.7 L283.4,271.2 L284.4,271.3 L285.3,270.5 L286.3,271.4 L287.2,271.0 L288.2,271.7 L289.1,271.5 L290.1,273.4 L291.0,271.1 L292.0,270.3 L292.9,270.5 L293.9,271.2 L294.9,268.8 L295.8,269.9 L296.8,270.7 L297.7,268.9 L298.7,270.5 L299.6,270.6 L300.6,269.3 L301.5,269.8 L302.5,270.2 L303.4,269.3 L304.4,271.8 L305.3,271.0 L306.3,270.8 L307.2,271.4 L308.2,270.9 L309.1,271.9 L310.1,271.7 L311.0,271.8 L312.0,271.5 L312.9,271.3 L313.9,271.3 L314.8,271.4 L315.8,273.1 L316.7,272.7 L317.7,272.7 L318.7,273.0 L319.6,274.1 L320.6,275.2 L321.5,276.0 L322.5,274.2 L323.4,274.8 L324.4,274.6 L325.3,274.5 L326.3,274.7 L327.2,273.2 L328.2,273.6 L329.1,273.3 L330.1,273.3 L331.0,274.5 L332.0,275.1 L332.9,274.7 L333.9,274.7 L334.8,274.4 L335.8,273.3 L336.7,272.8 L337.7,272.9 L338.6,272.7 L339.6,273.6 L340.5,272.9 L341.5,272.5 L342.5,273.0 L343.4,272.6 L344.4,273.2 L345.3,272.4 L346.3,270.6 L347.2,271.0 L348.2,269.1 L349.1,269.5 L350.1,269.1 L351.0,269.9 L352.0,269.2 L352.9,268.5 L353.9,267.2 L354.8,267.8 L355.8,267.6 L355.8,288.1 L354.8,287.9 L353.9,286.7 L352.9,286.9 L352.0,287.1 L351.0,287.1 L350.1,288.1 L349.1,288.7 L348.2,288.5 L347.2,289.4 L346.3,290.2 L345.3,289.5 L344.4,290.3 L343.4,291.4 L342.5,291.6 L341.5,290.7 L340.5,291.7 L339.6,290.4 L338.6,289.9 L337.7,290.1 L336.7,290.9 L335.8,290.9 L334.8,290.1 L333.9,291.7 L332.9,290.9 L332.0,292.1 L331.0,292.2 L330.1,291.2 L329.1,291.2 L328.2,291.2 L327.2,290.4 L326.3,291.0 L325.3,289.9 L324.4,290.3 L323.4,290.0 L322.5,290.2 L321.5,289.2 L320.6,290.5 L319.6,290.0 L318.7,289.9 L317.7,289.4 L316.7,288.8 L315.8,289.6 L314.8,289.3 L313.9,291.0 L312.9,289.7 L312.0,289.7 L311.0,289.6 L310.1,289.1 L309.1,289.9 L308.2,289.3 L307.2,289.6 L306.3,290.6 L305.3,290.3 L304.4,288.1 L303.4,288.0 L302.5,288.6 L301.5,289.6 L300.6,289.4 L299.6,289.0 L298.7,288.5 L297.7,288.5 L296.8,288.4 L295.8,288.0 L294.9,288.9 L293.9,290.5 L292.9,289.4 L292.0,290.3 L291.0,290.6 L290.1,292.2 L289.1,290.6 L288.2,288.9 L287.2,291.3 L286.3,290.4 L285.3,291.0 L284.4,292.1 L283.4,292.6 L282.5,291.9 L281.5,292.7 L280.6,292.3 L279.6,293.5 L278.7,293.9 L277.7,293.7 L276.8,294.3 L275.8,294.5 L274.9,294.1 L273.9,293.6 L273.0,294.4 L272.0,294.6 L271.1,294.3 L270.1,294.6 L269.1,294.9 L268.2,296.3 L267.2,298.0 L266.3,298.1Z" fill="rgba(245,145,58,0.3)"/>
<path d="M266.3,272.2 L267.2,271.1 L268.2,270.7 L269.1,270.4 L270.1,271.4 L271.1,271.3 L272.0,270.6 L273.0,270.2 L273.9,270.3 L274.9,269.6 L275.8,269.5 L276.8,268.4 L277.7,269.4 L278.7,269.9 L279.6,269.6 L280.6,269.5 L281.5,269.2 L282.5,270.1 L283.4,269.1 L284.4,267.4 L285.3,266.7 L286.3,267.4 L287.2,267.9 L288.2,267.9 L289.1,267.8 L290.1,267.1 L291.0,265.5 L292.0,265.1 L292.9,263.8 L293.9,263.9 L294.9,263.0 L295.8,263.7 L296.8,263.9 L297.7,262.8 L298.7,264.1 L299.6,264.8 L300.6,263.6 L301.5,264.1 L302.5,264.7 L303.4,264.2 L304.4,264.7 L305.3,264.4 L306.3,264.8 L307.2,264.4 L308.2,263.8 L309.1,264.0 L310.1,264.2 L311.0,263.8 L312.0,263.1 L312.9,262.4 L313.9,262.4 L314.8,262.1 L315.8,262.5 L316.7,262.6 L317.7,262.5 L318.7,262.6 L319.6,262.7 L320.6,263.8 L321.5,264.0 L322.5,262.9 L323.4,263.0 L324.4,262.5 L325.3,262.3 L326.3,262.0 L327.2,261.6 L328.2,260.8 L329.1,259.5 L330.1,260.7 L331.0,261.9 L332.0,260.9 L332.9,261.2 L333.9,260.7 L334.8,260.7 L335.8,259.9 L336.7,259.7 L337.7,259.6 L338.6,258.1 L339.6,259.1 L340.5,259.4 L341.5,257.9 L342.5,259.4 L343.4,259.6 L344.4,259.9 L345.3,260.1 L346.3,259.6 L347.2,258.8 L348.2,258.7 L349.1,258.7 L350.1,260.5 L351.0,261.1 L352.0,259.6 L352.9,259.0 L353.9,259.2 L354.8,259.5 L355.8,258.8 L355.8,284.3 L354.8,283.2 L353.9,281.2 L352.9,281.5 L352.0,281.2 L351.0,282.5 L350.1,282.3 L349.1,282.5 L348.2,282.2 L347.2,281.4 L346.3,280.8 L345.3,279.4 L344.4,279.9 L343.4,282.1 L342.5,282.7 L341.5,282.1 L340.5,282.9 L339.6,282.4 L338.6,281.8 L337.7,280.6 L336.7,281.2 L335.8,281.3 L334.8,281.3 L333.9,283.2 L332.9,282.8 L332.0,283.6 L331.0,284.1 L330.1,282.7 L329.1,282.1 L328.2,281.1 L327.2,281.2 L326.3,282.1 L325.3,282.2 L324.4,282.6 L323.4,282.3 L322.5,282.8 L321.5,282.7 L320.6,283.2 L319.6,283.3 L318.7,283.2 L317.7,283.3 L316.7,284.1 L315.8,285.7 L314.8,284.6 L313.9,286.6 L312.9,285.6 L312.0,286.2 L311.0,287.1 L310.1,285.9 L309.1,287.0 L308.2,286.8 L307.2,287.5 L306.3,288.7 L305.3,288.4 L304.4,286.9 L303.4,286.9 L302.5,287.9 L301.5,287.3 L300.6,288.0 L299.6,286.7 L298.7,286.9 L297.7,287.5 L296.8,286.7 L295.8,286.0 L294.9,286.1 L293.9,288.1 L292.9,288.9 L292.0,290.4 L291.0,289.4 L290.1,290.8 L289.1,289.9 L288.2,288.3 L287.2,291.6 L286.3,290.7 L285.3,290.7 L284.4,292.1 L283.4,292.3 L282.5,291.7 L281.5,292.7 L280.6,292.6 L279.6,293.5 L278.7,293.3 L277.7,293.5 L276.8,293.9 L275.8,294.5 L274.9,294.1 L273.9,293.6 L273.0,294.6 L272.0,295.2 L271.1,295.1 L270.1,294.7 L269.1,295.0 L268.2,296.1 L267.2,297.8 L266.3,298.1Z" fill="rgba(122,72,184,0.3)"/>
<polyline points="240.6,281.9 241.5,282.2 242.5,282.0 243.4,282.4 244.4,282.6 245.3,282.7 246.3,282.6 247.3,282.6 248.2,282.6 249.2,283.0 250.1,283.3 251.1,283.9 252.0,284.2 253.0,284.5 253.9,285.5 254.9,286.0 255.8,287.5 256.8,288.7 257.7,288.1 258.7,287.2 259.6,286.4 260.6,285.9 261.5,285.4 262.5,285.4 263.4,284.9 264.4,284.9 265.3,284.8" fill="none" stroke="#000" stroke-width="2" stroke-linejoin="round"/>
<polyline points="265.3,284.8 266.3,284.6 267.2,284.9 268.2,285.0 269.1,283.8 270.1,282.8 271.1,282.9 272.0,282.8 273.0,281.9 273.9,281.7 274.9,282.0 275.8,281.4 276.8,280.8 277.7,279.4 278.7,280.6 279.6,280.8 280.6,280.7 281.5,280.3 282.5,279.7 283.4,279.7 284.4,279.5 285.3,279.9 286.3,278.7 287.2,279.4 288.2,278.8 289.1,279.2 290.1,278.1 291.0,278.2 292.0,278.6 292.9,278.2 293.9,277.0 294.9,277.0 295.8,277.3 296.8,276.4 297.7,275.9 298.7,276.4 299.6,276.1 300.6,276.8 301.5,276.2 302.5,275.6 303.4,275.8 304.4,277.0 305.3,276.3 306.3,276.3 307.2,276.3 308.2,275.6 309.1,276.3 310.1,276.1 311.0,276.0 312.0,274.8 312.9,274.1 313.9,273.1 314.8,273.9 315.8,274.2 316.7,274.7 317.7,275.3 318.7,274.6 319.6,274.2 320.6,274.4 321.5,275.0 322.5,274.2 323.4,274.5 324.4,274.2 325.3,274.0 326.3,274.3 327.2,273.6 328.2,273.0 329.1,273.5 330.1,273.3 331.0,273.1 332.0,272.9 332.9,273.1 333.9,272.6 334.8,272.9 335.8,272.8 336.7,273.2 337.7,273.2 338.6,272.9 339.6,272.2 340.5,271.9 341.5,271.2 342.5,272.3 343.4,271.0 344.4,270.6 345.3,270.9 346.3,270.3 347.2,270.7 348.2,271.4 349.1,271.7 350.1,272.1 351.0,272.2 352.0,273.0 352.9,272.9 353.9,272.3 354.8,271.9 355.8,270.7" fill="none" stroke="#8a2db5" stroke-width="1.8" stroke-linejoin="round"/>
<polyline points="265.3,284.8 266.3,284.9 267.2,285.1 268.2,285.1 269.1,284.0 270.1,282.8 271.1,281.8 272.0,281.7 273.0,282.6 273.9,281.4 274.9,280.0 275.8,280.6 276.8,280.4 277.7,280.4 278.7,280.8 279.6,280.3 280.6,279.4 281.5,278.5 282.5,278.9 283.4,279.0 284.4,280.1 285.3,280.1 286.3,280.7 287.2,279.9 288.2,279.9 289.1,279.7 290.1,280.0 291.0,280.3 292.0,279.7 292.9,279.2 293.9,280.3 294.9,280.1 295.8,280.1 296.8,280.1 297.7,280.5 298.7,280.5 299.6,280.3 300.6,280.3 301.5,279.5 302.5,279.1 303.4,278.9 304.4,278.7 305.3,278.4 306.3,278.3 307.2,277.9 308.2,277.6 309.1,276.8 310.1,277.7 311.0,278.0 312.0,277.4 312.9,277.8 313.9,277.8 314.8,277.6 315.8,276.4 316.7,276.1 317.7,276.1 318.7,277.2 319.6,276.4 320.6,276.2 321.5,275.6 322.5,275.5 323.4,275.8 324.4,274.6 325.3,273.4 326.3,274.4 327.2,274.4 328.2,274.0 329.1,274.3 330.1,274.4 331.0,272.7 332.0,272.7 332.9,273.1 333.9,272.3 334.8,272.0 335.8,272.3 336.7,271.8 337.7,271.0 338.6,271.7 339.6,272.3 340.5,274.0 341.5,274.2 342.5,275.8 343.4,275.6 344.4,276.6 345.3,276.7 346.3,277.7 347.2,278.8 348.2,279.3 349.1,279.6 350.1,279.1 351.0,278.9 352.0,278.9 352.9,278.8 353.9,278.2 354.8,278.5 355.8,278.2" fill="none" stroke="#0c7a2c" stroke-width="1.8" stroke-linejoin="round"/>
<polyline points="265.3,284.8 266.3,285.3 267.2,285.4 268.2,284.2 269.1,283.3 270.1,282.1 271.1,281.5 272.0,281.0 273.0,281.3 273.9,280.5 274.9,282.0 275.8,281.2 276.8,281.3 277.7,281.3 278.7,279.7 279.6,279.9 280.6,280.8 281.5,279.5 282.5,280.3 283.4,279.8 284.4,279.7 285.3,279.8 286.3,278.9 287.2,279.3 288.2,279.0 289.1,278.9 290.1,279.5 291.0,281.1 292.0,280.4 292.9,280.2 293.9,279.7 294.9,279.1 295.8,279.1 296.8,279.6 297.7,279.2 298.7,279.2 299.6,278.8 300.6,279.8 301.5,278.5 302.5,278.8 303.4,278.9 304.4,278.9 305.3,278.3 306.3,277.9 307.2,278.2 308.2,278.4 309.1,278.0 310.1,278.0 311.0,278.8 312.0,279.4 312.9,279.2 313.9,279.0 314.8,279.1 315.8,280.7 316.7,280.8 317.7,280.8 318.7,281.4 319.6,282.4 320.6,282.5 321.5,281.5 322.5,281.6 323.4,281.6 324.4,281.7 325.3,281.5 326.3,281.7 327.2,281.4 328.2,282.0 329.1,282.1 330.1,281.5 331.0,281.0 332.0,281.2 332.9,281.7 333.9,281.8 334.8,281.5 335.8,279.9 336.7,280.2 337.7,280.2 338.6,280.3 339.6,279.9 340.5,279.9 341.5,279.8 342.5,280.9 343.4,280.5 344.4,279.7 345.3,279.2 346.3,278.8 347.2,278.6 348.2,278.2 349.1,278.1 350.1,278.5 351.0,278.5 352.0,278.2 352.9,278.1 353.9,277.3 354.8,276.2 355.8,275.1" fill="none" stroke="#f26a12" stroke-width="1.8" stroke-linejoin="round"/>
</g>
<rect x="217.8" y="243.4" width="144.2" height="61.9" fill="none" stroke="#6e6e6e" stroke-width="1.1"/>
<line x1="222.5" y1="305.3" x2="222.5" y2="303.0" stroke="#6e6e6e" stroke-width="0.9"/>
<text x="222.5" y="314.8" font-size="7.5" text-anchor="middle" fill="#222" stroke="#222" stroke-width="0.1">1960</text>
<line x1="241.5" y1="305.3" x2="241.5" y2="303.0" stroke="#6e6e6e" stroke-width="0.9"/>
<text x="241.5" y="314.8" font-size="7.5" text-anchor="middle" fill="#222" stroke="#222" stroke-width="0.1">1980</text>
<line x1="260.6" y1="305.3" x2="260.6" y2="303.0" stroke="#6e6e6e" stroke-width="0.9"/>
<text x="260.6" y="314.8" font-size="7.5" text-anchor="middle" fill="#222" stroke="#222" stroke-width="0.1">2000</text>
<line x1="279.6" y1="305.3" x2="279.6" y2="303.0" stroke="#6e6e6e" stroke-width="0.9"/>
<text x="279.6" y="314.8" font-size="7.5" text-anchor="middle" fill="#222" stroke="#222" stroke-width="0.1">2020</text>
<line x1="298.7" y1="305.3" x2="298.7" y2="303.0" stroke="#6e6e6e" stroke-width="0.9"/>
<text x="298.7" y="314.8" font-size="7.5" text-anchor="middle" fill="#222" stroke="#222" stroke-width="0.1">2040</text>
<line x1="317.7" y1="305.3" x2="317.7" y2="303.0" stroke="#6e6e6e" stroke-width="0.9"/>
<text x="317.7" y="314.8" font-size="7.5" text-anchor="middle" fill="#222" stroke="#222" stroke-width="0.1">2060</text>
<line x1="336.7" y1="305.3" x2="336.7" y2="303.0" stroke="#6e6e6e" stroke-width="0.9"/>
<text x="336.7" y="314.8" font-size="7.5" text-anchor="middle" fill="#222" stroke="#222" stroke-width="0.1">2080</text>
<line x1="355.8" y1="305.3" x2="355.8" y2="303.0" stroke="#6e6e6e" stroke-width="0.9"/>
<text x="355.8" y="314.8" font-size="7.5" text-anchor="middle" fill="#222" stroke="#222" stroke-width="0.1">2100</text>
<line x1="217.8" y1="246.3" x2="220.10000000000002" y2="246.3" stroke="#6e6e6e" stroke-width="0.9"/>
<text x="213.6" y="248.9" font-size="7.5" text-anchor="end" fill="#222" stroke="#222" stroke-width="0.1">20</text>
<line x1="217.8" y1="265.2" x2="220.10000000000002" y2="265.2" stroke="#6e6e6e" stroke-width="0.9"/>
<text x="213.6" y="267.7" font-size="7.5" text-anchor="end" fill="#222" stroke="#222" stroke-width="0.1">10</text>
<line x1="217.8" y1="284.0" x2="220.10000000000002" y2="284.0" stroke="#6e6e6e" stroke-width="0.9"/>
<text x="213.6" y="286.6" font-size="7.5" text-anchor="end" fill="#222" stroke="#222" stroke-width="0.1">0</text>
<line x1="217.8" y1="302.9" x2="220.10000000000002" y2="302.9" stroke="#6e6e6e" stroke-width="0.9"/>
<text x="213.6" y="305.5" font-size="7.5" text-anchor="end" fill="#222" stroke="#222" stroke-width="0.1">-10</text>
<text transform="translate(192.4,274.4) rotate(-90)" font-size="7.2" text-anchor="middle" fill="#333">Annual Pr Anomaly</text>
<text transform="translate(203.2,274.4) rotate(-90)" font-size="7.2" text-anchor="middle" fill="#333">(mm)</text>
<text x="224.5" y="253.2" font-size="7.8" fill="#1f8a52">0.45/10a</text>
<text x="224.5" y="262.1" font-size="7.8" fill="#f5782a">0.22/10a</text>
<text x="224.5" y="270.9" font-size="7.8" fill="#9148c2">0.60/10a</text>
<text x="225.4" y="301.0" font-size="11" fill="#222">(i)</text>
<text x="357.8" y="300.7" font-size="10" text-anchor="end" fill="#111">SON</text>
</g>
<g>
<clipPath id="cj"><rect x="217.8" y="317.4" width="144.2" height="61.8"/></clipPath>
<g clip-path="url(#cj)">
<path d="M240.6,351.0 L241.5,351.2 L242.5,351.1 L243.4,351.8 L244.4,351.5 L245.3,352.6 L246.3,352.4 L247.3,352.5 L248.2,352.0 L249.2,352.0 L250.1,352.4 L251.1,352.6 L252.0,352.3 L253.0,351.8 L253.9,352.2 L254.9,352.6 L255.8,353.0 L256.8,353.7 L257.7,353.2 L258.7,352.0 L259.6,352.3 L260.6,351.5 L261.5,351.4 L262.5,352.7 L263.4,353.2 L264.4,352.9 L265.3,352.6 L265.3,364.5 L264.4,364.3 L263.4,363.8 L262.5,364.0 L261.5,364.5 L260.6,363.8 L259.6,363.4 L258.7,364.1 L257.7,363.9 L256.8,365.6 L255.8,365.6 L254.9,364.8 L253.9,364.6 L253.0,364.2 L252.0,364.0 L251.1,364.3 L250.1,364.4 L249.2,363.8 L248.2,364.3 L247.3,363.6 L246.3,364.0 L245.3,363.2 L244.4,363.9 L243.4,362.6 L242.5,362.5 L241.5,361.7 L240.6,362.5Z" fill="#e8e8e8"/>
<path d="M266.3,352.6 L267.2,352.4 L268.2,353.0 L269.1,351.8 L270.1,351.8 L271.1,350.6 L272.0,350.3 L273.0,351.1 L273.9,351.6 L274.9,351.1 L275.8,350.0 L276.8,348.9 L277.7,348.4 L278.7,348.6 L279.6,350.7 L280.6,348.3 L281.5,347.3 L282.5,348.9 L283.4,347.4 L284.4,348.0 L285.3,347.5 L286.3,348.1 L287.2,348.3 L288.2,348.9 L289.1,349.0 L290.1,347.5 L291.0,347.4 L292.0,348.6 L292.9,347.5 L293.9,346.2 L294.9,345.1 L295.8,345.3 L296.8,345.0 L297.7,345.0 L298.7,344.3 L299.6,344.8 L300.6,343.9 L301.5,344.9 L302.5,344.0 L303.4,343.6 L304.4,343.0 L305.3,343.4 L306.3,343.1 L307.2,342.7 L308.2,342.2 L309.1,341.9 L310.1,341.9 L311.0,342.8 L312.0,342.1 L312.9,341.3 L313.9,341.7 L314.8,342.4 L315.8,343.5 L316.7,343.7 L317.7,342.8 L318.7,343.0 L319.6,343.5 L320.6,344.0 L321.5,343.4 L322.5,343.2 L323.4,342.9 L324.4,342.8 L325.3,343.8 L326.3,344.8 L327.2,344.9 L328.2,343.3 L329.1,343.4 L330.1,343.0 L331.0,343.7 L332.0,344.3 L332.9,343.1 L333.9,343.5 L334.8,344.0 L335.8,344.3 L336.7,343.9 L337.7,344.0 L338.6,344.7 L339.6,344.1 L340.5,344.4 L341.5,344.7 L342.5,346.1 L343.4,345.7 L344.4,346.0 L345.3,347.4 L346.3,348.2 L347.2,348.0 L348.2,346.6 L349.1,345.9 L350.1,346.3 L351.0,346.3 L352.0,347.4 L352.9,348.7 L353.9,347.9 L354.8,347.9 L355.8,347.6 L355.8,357.9 L354.8,358.5 L353.9,358.4 L352.9,356.7 L352.0,357.3 L351.0,356.2 L350.1,356.2 L349.1,356.2 L348.2,356.7 L347.2,357.5 L346.3,357.3 L345.3,357.1 L344.4,358.2 L343.4,358.3 L342.5,357.9 L341.5,357.8 L340.5,359.2 L339.6,358.7 L338.6,357.1 L337.7,358.2 L336.7,356.8 L335.8,359.0 L334.8,358.6 L333.9,358.2 L332.9,356.7 L332.0,358.0 L331.0,356.7 L330.1,356.1 L329.1,356.1 L328.2,356.4 L327.2,357.3 L326.3,356.4 L325.3,356.1 L324.4,358.4 L323.4,358.4 L322.5,358.6 L321.5,356.9 L320.6,357.5 L319.6,357.7 L318.7,356.1 L317.7,356.7 L316.7,356.3 L315.8,358.1 L314.8,359.3 L313.9,358.4 L312.9,359.5 L312.0,360.3 L311.0,357.8 L310.1,357.8 L309.1,357.9 L308.2,356.9 L307.2,357.1 L306.3,357.5 L305.3,358.3 L304.4,357.4 L303.4,356.5 L302.5,357.3 L301.5,357.8 L300.6,358.9 L299.6,358.4 L298.7,358.9 L297.7,359.8 L296.8,360.2 L295.8,360.3 L294.9,361.4 L293.9,364.6 L292.9,363.2 L292.0,362.8 L291.0,362.4 L290.1,362.0 L289.1,363.3 L288.2,363.9 L287.2,364.3 L286.3,364.5 L285.3,364.8 L284.4,363.5 L283.4,363.8 L282.5,363.8 L281.5,364.3 L280.6,365.3 L279.6,365.8 L278.7,365.8 L277.7,365.5 L276.8,365.2 L275.8,365.1 L274.9,367.3 L273.9,366.5 L273.0,367.3 L272.0,369.0 L271.1,368.1 L270.1,367.1 L269.1,368.2 L268.2,368.6 L267.2,370.1 L266.3,369.6Z" fill="rgba(118,198,118,0.22)"/>
<path d="M266.3,352.6 L267.2,352.4 L268.2,353.0 L269.1,351.5 L270.1,351.3 L271.1,350.4 L272.0,350.3 L273.0,350.8 L273.9,352.1 L274.9,350.7 L275.8,349.9 L276.8,349.1 L277.7,349.1 L278.7,349.4 L279.6,350.0 L280.6,347.8 L281.5,347.2 L282.5,349.3 L283.4,348.6 L284.4,348.2 L285.3,348.6 L286.3,348.8 L287.2,348.4 L288.2,348.4 L289.1,348.3 L290.1,347.8 L291.0,347.6 L292.0,348.4 L292.9,347.8 L293.9,345.6 L294.9,345.5 L295.8,345.3 L296.8,346.2 L297.7,346.5 L298.7,346.3 L299.6,346.2 L300.6,346.3 L301.5,345.4 L302.5,344.2 L303.4,344.4 L304.4,341.9 L305.3,343.2 L306.3,343.4 L307.2,343.2 L308.2,344.0 L309.1,344.2 L310.1,343.8 L311.0,343.1 L312.0,343.4 L312.9,341.8 L313.9,342.0 L314.8,342.5 L315.8,342.6 L316.7,344.6 L317.7,342.5 L318.7,341.3 L319.6,342.7 L320.6,343.6 L321.5,343.4 L322.5,343.1 L323.4,343.3 L324.4,342.7 L325.3,342.2 L326.3,342.4 L327.2,342.8 L328.2,343.1 L329.1,343.3 L330.1,342.1 L331.0,341.9 L332.0,341.0 L332.9,340.7 L333.9,340.4 L334.8,340.4 L335.8,340.4 L336.7,340.7 L337.7,341.9 L338.6,342.1 L339.6,341.3 L340.5,341.6 L341.5,341.8 L342.5,342.6 L343.4,341.5 L344.4,342.3 L345.3,341.3 L346.3,341.7 L347.2,340.9 L348.2,341.7 L349.1,341.2 L350.1,342.0 L351.0,340.9 L352.0,341.6 L352.9,342.6 L353.9,341.5 L354.8,340.4 L355.8,339.1 L355.8,352.3 L354.8,351.9 L353.9,352.0 L352.9,352.0 L352.0,351.8 L351.0,351.3 L350.1,350.7 L349.1,352.0 L348.2,352.3 L347.2,352.5 L346.3,353.7 L345.3,353.6 L344.4,354.7 L343.4,354.9 L342.5,353.3 L341.5,354.1 L340.5,355.3 L339.6,355.7 L338.6,354.5 L337.7,356.0 L336.7,354.2 L335.8,356.2 L334.8,355.4 L333.9,356.2 L332.9,354.4 L332.0,355.9 L331.0,354.9 L330.1,355.2 L329.1,354.7 L328.2,355.2 L327.2,355.5 L326.3,355.0 L325.3,355.7 L324.4,356.6 L323.4,358.4 L322.5,356.8 L321.5,355.8 L320.6,357.1 L319.6,355.9 L318.7,356.4 L317.7,357.2 L316.7,357.6 L315.8,358.8 L314.8,359.5 L313.9,358.2 L312.9,358.4 L312.0,358.4 L311.0,357.6 L310.1,358.6 L309.1,359.0 L308.2,357.8 L307.2,357.6 L306.3,358.5 L305.3,360.0 L304.4,358.7 L303.4,357.5 L302.5,358.1 L301.5,359.0 L300.6,360.2 L299.6,359.4 L298.7,359.0 L297.7,359.3 L296.8,359.1 L295.8,359.1 L294.9,360.9 L293.9,364.0 L292.9,363.1 L292.0,362.4 L291.0,362.5 L290.1,362.1 L289.1,362.8 L288.2,363.5 L287.2,363.4 L286.3,363.9 L285.3,364.6 L284.4,363.4 L283.4,362.6 L282.5,362.1 L281.5,363.9 L280.6,364.9 L279.6,364.3 L278.7,365.3 L277.7,365.4 L276.8,364.8 L275.8,366.0 L274.9,367.2 L273.9,366.9 L273.0,367.2 L272.0,368.3 L271.1,367.7 L270.1,366.7 L269.1,367.5 L268.2,367.6 L267.2,369.0 L266.3,368.4Z" fill="rgba(245,145,58,0.3)"/>
<path d="M266.3,352.6 L267.2,352.4 L268.2,353.0 L269.1,351.5 L270.1,350.9 L271.1,349.8 L272.0,350.0 L273.0,350.5 L273.9,350.8 L274.9,349.7 L275.8,348.6 L276.8,347.8 L277.7,346.8 L278.7,347.3 L279.6,348.4 L280.6,346.1 L281.5,345.0 L282.5,346.9 L283.4,345.6 L284.4,346.1 L285.3,345.0 L286.3,345.8 L287.2,346.1 L288.2,345.6 L289.1,345.6 L290.1,344.9 L291.0,344.8 L292.0,345.5 L292.9,344.4 L293.9,342.0 L294.9,340.1 L295.8,339.7 L296.8,339.5 L297.7,339.5 L298.7,338.9 L299.6,339.3 L300.6,339.0 L301.5,339.0 L302.5,338.6 L303.4,338.7 L304.4,337.3 L305.3,338.6 L306.3,338.1 L307.2,337.9 L308.2,337.8 L309.1,337.9 L310.1,337.6 L311.0,337.0 L312.0,336.3 L312.9,334.7 L313.9,335.2 L314.8,334.9 L315.8,334.6 L316.7,336.4 L317.7,334.2 L318.7,334.4 L319.6,335.3 L320.6,335.5 L321.5,335.7 L322.5,334.0 L323.4,333.3 L324.4,334.0 L325.3,333.6 L326.3,334.9 L327.2,334.3 L328.2,334.0 L329.1,333.9 L330.1,333.3 L331.0,333.2 L332.0,332.4 L332.9,332.4 L333.9,331.9 L334.8,332.1 L335.8,330.8 L336.7,330.0 L337.7,330.9 L338.6,331.1 L339.6,330.2 L340.5,330.2 L341.5,329.4 L342.5,331.2 L343.4,329.3 L344.4,330.7 L345.3,329.4 L346.3,329.7 L347.2,329.2 L348.2,328.9 L349.1,329.6 L350.1,329.8 L351.0,329.1 L352.0,328.2 L352.9,330.0 L353.9,330.4 L354.8,329.6 L355.8,329.0 L355.8,344.6 L354.8,343.6 L353.9,343.5 L352.9,342.2 L352.0,341.9 L351.0,340.4 L350.1,341.3 L349.1,342.0 L348.2,342.1 L347.2,343.1 L346.3,344.6 L345.3,345.2 L344.4,345.1 L343.4,345.7 L342.5,345.2 L341.5,345.3 L340.5,347.8 L339.6,348.5 L338.6,347.7 L337.7,348.8 L336.7,348.0 L335.8,350.1 L334.8,349.7 L333.9,350.3 L332.9,349.7 L332.0,350.3 L331.0,349.6 L330.1,349.1 L329.1,350.0 L328.2,350.4 L327.2,350.7 L326.3,351.1 L325.3,351.7 L324.4,353.4 L323.4,354.0 L322.5,353.8 L321.5,353.9 L320.6,354.3 L319.6,353.1 L318.7,353.0 L317.7,353.5 L316.7,354.1 L315.8,355.2 L314.8,357.0 L313.9,355.7 L312.9,357.3 L312.0,358.1 L311.0,357.4 L310.1,357.7 L309.1,357.9 L308.2,357.2 L307.2,356.4 L306.3,356.9 L305.3,358.1 L304.4,357.9 L303.4,356.1 L302.5,355.7 L301.5,356.5 L300.6,358.1 L299.6,356.8 L298.7,356.1 L297.7,356.5 L296.8,356.6 L295.8,357.3 L294.9,359.6 L293.9,362.4 L292.9,362.4 L292.0,361.9 L291.0,361.6 L290.1,362.1 L289.1,363.4 L288.2,363.5 L287.2,362.5 L286.3,363.3 L285.3,363.8 L284.4,362.8 L283.4,363.4 L282.5,363.0 L281.5,364.7 L280.6,365.3 L279.6,364.7 L278.7,365.0 L277.7,365.0 L276.8,364.8 L275.8,365.9 L274.9,366.1 L273.9,366.2 L273.0,366.9 L272.0,368.3 L271.1,367.7 L270.1,366.6 L269.1,367.3 L268.2,367.4 L267.2,368.7 L266.3,368.4Z" fill="rgba(122,72,184,0.3)"/>
<polyline points="240.6,356.8 241.5,356.2 242.5,356.2 243.4,355.4 244.4,355.1 245.3,355.8 246.3,356.6 247.3,356.8 248.2,356.9 249.2,357.6 250.1,358.0 251.1,358.5 252.0,359.1 253.0,359.1 253.9,359.5 254.9,358.9 255.8,359.6 256.8,359.2 257.7,359.2 258.7,359.0 259.6,359.3 260.6,359.4 261.5,359.4 262.5,359.5 263.4,359.4 264.4,359.1 265.3,358.4" fill="none" stroke="#000" stroke-width="2" stroke-linejoin="round"/>
<polyline points="265.3,358.4 266.3,358.9 267.2,358.6 268.2,358.7 269.1,358.9 270.1,358.3 271.1,358.1 272.0,358.2 273.0,358.1 273.9,358.2 274.9,357.7 275.8,356.8 276.8,355.8 277.7,356.4 278.7,356.1 279.6,355.8 280.6,355.6 281.5,354.7 282.5,354.8 283.4,353.6 284.4,353.9 285.3,353.7 286.3,354.8 287.2,354.5 288.2,353.9 289.1,353.7 290.1,353.7 291.0,352.8 292.0,352.5 292.9,351.8 293.9,352.5 294.9,351.4 295.8,349.5 296.8,349.6 297.7,350.1 298.7,348.4 299.6,350.2 300.6,349.4 301.5,349.6 302.5,349.1 303.4,349.0 304.4,348.5 305.3,348.1 306.3,347.3 307.2,348.4 308.2,347.8 309.1,348.1 310.1,348.2 311.0,347.7 312.0,347.7 312.9,347.5 313.9,347.2 314.8,347.2 315.8,346.9 316.7,346.1 317.7,345.5 318.7,345.2 319.6,345.3 320.6,346.0 321.5,346.3 322.5,345.8 323.4,345.8 324.4,345.3 325.3,345.4 326.3,345.0 327.2,344.8 328.2,344.3 329.1,344.1 330.1,344.8 331.0,343.6 332.0,343.3 332.9,342.7 333.9,343.0 334.8,343.4 335.8,342.5 336.7,340.6 337.7,341.2 338.6,341.3 339.6,340.1 340.5,340.0 341.5,339.9 342.5,338.6 343.4,339.2 344.4,339.3 345.3,339.1 346.3,338.2 347.2,337.7 348.2,337.4 349.1,337.6 350.1,336.8 351.0,337.5 352.0,337.1 352.9,336.0 353.9,337.5 354.8,337.6 355.8,337.4" fill="none" stroke="#8a2db5" stroke-width="1.8" stroke-linejoin="round"/>
<polyline points="265.3,358.4 266.3,359.9 267.2,359.8 268.2,359.6 269.1,358.9 270.1,358.9 271.1,358.0 272.0,357.8 273.0,358.1 273.9,357.7 274.9,357.6 275.8,356.6 276.8,357.3 277.7,356.5 278.7,356.5 279.6,356.2 280.6,356.4 281.5,355.7 282.5,354.9 283.4,353.9 284.4,354.2 285.3,353.7 286.3,354.3 287.2,355.0 288.2,353.2 289.1,352.8 290.1,353.3 291.0,354.0 292.0,353.7 292.9,353.3 293.9,353.1 294.9,352.9 295.8,353.2 296.8,352.6 297.7,351.1 298.7,350.6 299.6,350.7 300.6,350.1 301.5,350.1 302.5,349.8 303.4,349.5 304.4,350.1 305.3,349.7 306.3,349.0 307.2,348.8 308.2,349.0 309.1,350.2 310.1,350.0 311.0,350.6 312.0,350.5 312.9,349.0 313.9,349.8 314.8,349.5 315.8,349.0 316.7,348.9 317.7,350.5 318.7,349.4 319.6,349.4 320.6,350.4 321.5,350.6 322.5,349.4 323.4,349.7 324.4,349.6 325.3,349.7 326.3,350.3 327.2,349.9 328.2,349.8 329.1,350.7 330.1,349.4 331.0,349.6 332.0,350.3 332.9,349.7 333.9,349.9 334.8,349.7 335.8,350.5 336.7,350.5 337.7,351.4 338.6,352.0 339.6,351.9 340.5,351.7 341.5,352.0 342.5,352.1 343.4,351.5 344.4,352.6 345.3,352.8 346.3,353.2 347.2,352.2 348.2,352.8 349.1,353.7 350.1,353.2 351.0,351.7 352.0,351.7 352.9,351.7 353.9,351.9 354.8,351.8 355.8,352.1" fill="none" stroke="#0c7a2c" stroke-width="1.8" stroke-linejoin="round"/>
<polyline points="265.3,358.4 266.3,358.9 267.2,358.6 268.2,358.7 269.1,359.0 270.1,358.4 271.1,358.5 272.0,357.7 273.0,357.5 273.9,357.3 274.9,357.8 275.8,356.9 276.8,357.3 277.7,356.1 278.7,356.0 279.6,356.4 280.6,356.4 281.5,355.4 282.5,354.7 283.4,355.3 284.4,354.4 285.3,354.8 286.3,354.4 287.2,354.4 288.2,355.4 289.1,355.5 290.1,355.0 291.0,353.6 292.0,353.7 292.9,353.4 293.9,353.1 294.9,353.5 295.8,352.1 296.8,352.2 297.7,352.1 298.7,351.5 299.6,352.3 300.6,351.2 301.5,351.2 302.5,351.2 303.4,349.9 304.4,349.6 305.3,349.6 306.3,350.4 307.2,350.8 308.2,350.7 309.1,350.4 310.1,349.1 311.0,349.7 312.0,349.6 312.9,350.4 313.9,350.9 314.8,351.6 315.8,351.0 316.7,350.7 317.7,349.5 318.7,349.4 319.6,348.6 320.6,349.3 321.5,348.6 322.5,348.8 323.4,348.6 324.4,348.6 325.3,349.1 326.3,348.8 327.2,349.1 328.2,348.6 329.1,349.6 330.1,349.0 331.0,349.6 332.0,350.2 332.9,348.2 333.9,347.8 334.8,348.0 335.8,348.6 336.7,348.2 337.7,348.4 338.6,348.0 339.6,348.4 340.5,347.7 341.5,348.4 342.5,346.7 343.4,346.3 344.4,347.8 345.3,347.7 346.3,347.1 347.2,348.2 348.2,348.1 349.1,348.0 350.1,347.1 351.0,347.1 352.0,347.0 352.9,345.6 353.9,345.9 354.8,345.4 355.8,345.8" fill="none" stroke="#f26a12" stroke-width="1.8" stroke-linejoin="round"/>
</g>
<rect x="217.8" y="317.4" width="144.2" height="61.8" fill="none" stroke="#6e6e6e" stroke-width="1.1"/>
<line x1="222.5" y1="379.2" x2="222.5" y2="376.9" stroke="#6e6e6e" stroke-width="0.9"/>
<text x="222.5" y="388.7" font-size="7.5" text-anchor="middle" fill="#222" stroke="#222" stroke-width="0.1">1960</text>
<line x1="241.5" y1="379.2" x2="241.5" y2="376.9" stroke="#6e6e6e" stroke-width="0.9"/>
<text x="241.5" y="388.7" font-size="7.5" text-anchor="middle" fill="#222" stroke="#222" stroke-width="0.1">1980</text>
<line x1="260.6" y1="379.2" x2="260.6" y2="376.9" stroke="#6e6e6e" stroke-width="0.9"/>
<text x="260.6" y="388.7" font-size="7.5" text-anchor="middle" fill="#222" stroke="#222" stroke-width="0.1">2000</text>
<line x1="279.6" y1="379.2" x2="279.6" y2="376.9" stroke="#6e6e6e" stroke-width="0.9"/>
<text x="279.6" y="388.7" font-size="7.5" text-anchor="middle" fill="#222" stroke="#222" stroke-width="0.1">2020</text>
<line x1="298.7" y1="379.2" x2="298.7" y2="376.9" stroke="#6e6e6e" stroke-width="0.9"/>
<text x="298.7" y="388.7" font-size="7.5" text-anchor="middle" fill="#222" stroke="#222" stroke-width="0.1">2040</text>
<line x1="317.7" y1="379.2" x2="317.7" y2="376.9" stroke="#6e6e6e" stroke-width="0.9"/>
<text x="317.7" y="388.7" font-size="7.5" text-anchor="middle" fill="#222" stroke="#222" stroke-width="0.1">2060</text>
<line x1="336.7" y1="379.2" x2="336.7" y2="376.9" stroke="#6e6e6e" stroke-width="0.9"/>
<text x="336.7" y="388.7" font-size="7.5" text-anchor="middle" fill="#222" stroke="#222" stroke-width="0.1">2080</text>
<line x1="355.8" y1="379.2" x2="355.8" y2="376.9" stroke="#6e6e6e" stroke-width="0.9"/>
<text x="355.8" y="388.7" font-size="7.5" text-anchor="middle" fill="#222" stroke="#222" stroke-width="0.1">2100</text>
<line x1="217.8" y1="320.3" x2="220.10000000000002" y2="320.3" stroke="#6e6e6e" stroke-width="0.9"/>
<text x="213.6" y="322.8" font-size="7.5" text-anchor="end" fill="#222" stroke="#222" stroke-width="0.1">40</text>
<line x1="217.8" y1="339.1" x2="220.10000000000002" y2="339.1" stroke="#6e6e6e" stroke-width="0.9"/>
<text x="213.6" y="341.7" font-size="7.5" text-anchor="end" fill="#222" stroke="#222" stroke-width="0.1">20</text>
<line x1="217.8" y1="358.0" x2="220.10000000000002" y2="358.0" stroke="#6e6e6e" stroke-width="0.9"/>
<text x="213.6" y="360.5" font-size="7.5" text-anchor="end" fill="#222" stroke="#222" stroke-width="0.1">0</text>
<line x1="217.8" y1="376.8" x2="220.10000000000002" y2="376.8" stroke="#6e6e6e" stroke-width="0.9"/>
<text x="213.6" y="379.3" font-size="7.5" text-anchor="end" fill="#222" stroke="#222" stroke-width="0.1">-20</text>
<text transform="translate(192.4,348.3) rotate(-90)" font-size="7.2" text-anchor="middle" fill="#333">Annual Pr Anomaly</text>
<text transform="translate(203.2,348.3) rotate(-90)" font-size="7.2" text-anchor="middle" fill="#333">(mm)</text>
<text x="224.5" y="327.2" font-size="7.8" fill="#1f8a52">0.22/10a</text>
<text x="224.5" y="336.1" font-size="7.8" fill="#f5782a">1.15/10a</text>
<text x="224.5" y="344.9" font-size="7.8" fill="#9148c2">2.06/10a</text>
<text x="225.4" y="374.9" font-size="11" fill="#222">(j)</text>
<text x="357.8" y="374.6" font-size="10" text-anchor="end" fill="#111">DJF</text>
</g>
<g>
<clipPath id="ck"><rect x="399.5" y="21.5" width="144.6" height="61.1"/></clipPath>
<g clip-path="url(#ck)">
<path d="M422.5,63.6 L423.4,63.1 L424.4,63.7 L425.3,64.3 L426.3,64.1 L427.2,64.2 L428.2,63.6 L429.2,62.9 L430.1,63.2 L431.1,63.5 L432.0,63.2 L433.0,63.7 L433.9,64.0 L434.9,64.3 L435.8,64.8 L436.8,64.8 L437.7,64.3 L438.7,64.2 L439.6,64.3 L440.6,63.8 L441.5,64.3 L442.5,64.4 L443.4,64.1 L444.4,63.7 L445.3,65.1 L446.3,64.8 L447.2,64.7 L447.2,69.9 L446.3,70.7 L445.3,71.0 L444.4,71.1 L443.4,71.0 L442.5,71.5 L441.5,71.9 L440.6,72.1 L439.6,72.4 L438.7,72.0 L437.7,72.0 L436.8,70.6 L435.8,71.1 L434.9,70.9 L433.9,71.4 L433.0,70.7 L432.0,71.4 L431.1,70.0 L430.1,70.8 L429.2,70.3 L428.2,69.8 L427.2,70.6 L426.3,70.1 L425.3,70.7 L424.4,70.6 L423.4,70.7 L422.5,70.6Z" fill="#e8e8e8"/>
<path d="M448.2,59.1 L449.1,58.1 L450.1,57.5 L451.0,56.4 L452.0,55.3 L453.0,54.6 L453.9,53.6 L454.9,52.9 L455.8,52.7 L456.8,53.1 L457.7,52.3 L458.7,50.5 L459.6,51.0 L460.6,50.7 L461.5,50.6 L462.5,51.6 L463.4,50.9 L464.4,50.0 L465.3,50.0 L466.3,49.8 L467.2,50.6 L468.2,50.9 L469.1,50.6 L470.1,49.9 L471.0,51.5 L472.0,51.4 L472.9,50.3 L473.9,52.1 L474.8,50.4 L475.8,50.0 L476.8,48.9 L477.7,49.8 L478.7,48.8 L479.6,49.0 L480.6,48.5 L481.5,48.2 L482.5,48.6 L483.4,48.5 L484.4,49.1 L485.3,48.8 L486.3,48.2 L487.2,48.4 L488.2,48.0 L489.1,48.5 L490.1,49.6 L491.0,48.4 L492.0,48.7 L492.9,47.5 L493.9,47.7 L494.8,47.7 L495.8,48.0 L496.7,48.4 L497.7,49.2 L498.6,47.8 L499.6,47.1 L500.6,46.7 L501.5,45.8 L502.5,45.5 L503.4,46.3 L504.4,45.4 L505.3,46.1 L506.3,45.1 L507.2,46.4 L508.2,45.4 L509.1,45.3 L510.1,44.9 L511.0,44.7 L512.0,43.8 L512.9,45.0 L513.9,43.9 L514.8,45.1 L515.8,45.8 L516.7,46.4 L517.7,45.9 L518.6,44.4 L519.6,45.0 L520.5,45.6 L521.5,46.2 L522.4,46.5 L523.4,46.5 L524.4,47.1 L525.3,45.6 L526.3,46.3 L527.2,45.6 L528.2,46.4 L529.1,46.6 L530.1,45.8 L531.0,46.0 L532.0,47.2 L532.9,46.7 L533.9,47.4 L534.8,46.7 L535.8,47.6 L536.7,48.0 L537.7,47.3 L537.7,59.4 L536.7,59.3 L535.8,57.2 L534.8,58.2 L533.9,57.8 L532.9,57.8 L532.0,56.6 L531.0,58.7 L530.1,59.6 L529.1,59.8 L528.2,59.8 L527.2,60.1 L526.3,58.8 L525.3,57.9 L524.4,57.3 L523.4,58.6 L522.4,57.4 L521.5,58.5 L520.5,59.3 L519.6,58.2 L518.6,59.2 L517.7,57.8 L516.7,58.5 L515.8,59.6 L514.8,58.9 L513.9,60.4 L512.9,60.0 L512.0,59.2 L511.0,57.7 L510.1,58.7 L509.1,59.9 L508.2,60.9 L507.2,62.7 L506.3,59.5 L505.3,60.7 L504.4,61.4 L503.4,60.3 L502.5,60.8 L501.5,61.2 L500.6,60.3 L499.6,60.3 L498.6,61.3 L497.7,61.0 L496.7,59.2 L495.8,60.0 L494.8,57.9 L493.9,60.1 L492.9,62.2 L492.0,63.6 L491.0,62.2 L490.1,62.2 L489.1,61.6 L488.2,62.5 L487.2,62.9 L486.3,61.2 L485.3,63.5 L484.4,62.1 L483.4,63.7 L482.5,64.9 L481.5,63.5 L480.6,63.4 L479.6,63.1 L478.7,62.7 L477.7,63.9 L476.8,63.5 L475.8,63.5 L474.8,62.3 L473.9,62.6 L472.9,62.5 L472.0,64.1 L471.0,63.4 L470.1,63.6 L469.1,64.1 L468.2,63.9 L467.2,64.4 L466.3,64.5 L465.3,64.3 L464.4,64.0 L463.4,65.8 L462.5,66.3 L461.5,67.6 L460.6,66.3 L459.6,67.0 L458.7,66.8 L457.7,65.9 L456.8,67.9 L455.8,68.8 L454.9,70.2 L453.9,70.9 L453.0,70.2 L452.0,72.7 L451.0,74.5 L450.1,74.1 L449.1,76.5 L448.2,76.5Z" fill="rgba(118,198,118,0.22)"/>
<path d="M448.2,59.1 L449.1,58.1 L450.1,57.5 L451.0,56.5 L452.0,55.0 L453.0,54.2 L453.9,53.9 L454.9,53.2 L455.8,53.3 L456.8,52.6 L457.7,51.3 L458.7,49.8 L459.6,51.4 L460.6,50.6 L461.5,50.8 L462.5,50.7 L463.4,50.9 L464.4,50.6 L465.3,50.3 L466.3,48.6 L467.2,49.5 L468.2,49.5 L469.1,49.7 L470.1,49.4 L471.0,49.2 L472.0,49.7 L472.9,49.5 L473.9,49.3 L474.8,48.8 L475.8,48.2 L476.8,47.3 L477.7,47.7 L478.7,46.9 L479.6,48.1 L480.6,47.5 L481.5,47.4 L482.5,46.6 L483.4,46.3 L484.4,47.2 L485.3,46.2 L486.3,45.1 L487.2,45.2 L488.2,44.8 L489.1,44.1 L490.1,44.7 L491.0,44.7 L492.0,45.2 L492.9,45.1 L493.9,45.2 L494.8,45.7 L495.8,45.5 L496.7,45.5 L497.7,45.9 L498.6,46.4 L499.6,45.8 L500.6,45.3 L501.5,44.4 L502.5,43.8 L503.4,44.4 L504.4,44.2 L505.3,44.2 L506.3,44.1 L507.2,45.4 L508.2,44.9 L509.1,45.5 L510.1,45.1 L511.0,45.2 L512.0,44.1 L512.9,45.1 L513.9,44.7 L514.8,44.8 L515.8,44.7 L516.7,44.1 L517.7,44.1 L518.6,45.0 L519.6,44.9 L520.5,44.9 L521.5,44.4 L522.4,44.3 L523.4,45.4 L524.4,44.5 L525.3,43.8 L526.3,43.1 L527.2,42.7 L528.2,42.9 L529.1,42.3 L530.1,41.8 L531.0,41.3 L532.0,41.7 L532.9,40.5 L533.9,40.6 L534.8,40.6 L535.8,41.6 L536.7,40.8 L537.7,38.9 L537.7,52.6 L536.7,52.6 L535.8,52.4 L534.8,53.8 L533.9,52.5 L532.9,52.3 L532.0,52.3 L531.0,55.2 L530.1,56.1 L529.1,56.8 L528.2,57.6 L527.2,57.0 L526.3,55.8 L525.3,55.8 L524.4,55.7 L523.4,56.2 L522.4,56.3 L521.5,57.2 L520.5,58.5 L519.6,56.5 L518.6,57.1 L517.7,56.9 L516.7,58.0 L515.8,58.7 L514.8,57.8 L513.9,58.0 L512.9,57.9 L512.0,57.5 L511.0,58.6 L510.1,58.8 L509.1,57.8 L508.2,59.6 L507.2,60.6 L506.3,58.7 L505.3,58.9 L504.4,60.4 L503.4,59.0 L502.5,58.7 L501.5,58.2 L500.6,57.4 L499.6,57.4 L498.6,58.6 L497.7,58.0 L496.7,57.1 L495.8,58.4 L494.8,57.8 L493.9,57.7 L492.9,59.9 L492.0,61.9 L491.0,60.6 L490.1,60.5 L489.1,60.7 L488.2,61.4 L487.2,61.1 L486.3,59.1 L485.3,60.6 L484.4,61.0 L483.4,62.8 L482.5,64.2 L481.5,62.0 L480.6,62.7 L479.6,61.7 L478.7,60.6 L477.7,62.6 L476.8,62.0 L475.8,60.4 L474.8,61.1 L473.9,63.3 L472.9,63.6 L472.0,65.3 L471.0,63.4 L470.1,64.2 L469.1,64.4 L468.2,63.1 L467.2,64.2 L466.3,64.4 L465.3,63.3 L464.4,63.1 L463.4,63.9 L462.5,65.2 L461.5,66.5 L460.6,65.5 L459.6,65.4 L458.7,66.5 L457.7,65.9 L456.8,67.3 L455.8,67.8 L454.9,69.1 L453.9,69.7 L453.0,69.7 L452.0,72.2 L451.0,73.5 L450.1,73.1 L449.1,75.4 L448.2,75.3Z" fill="rgba(245,145,58,0.3)"/>
<path d="M448.2,59.1 L449.1,58.1 L450.1,57.5 L451.0,56.4 L452.0,54.9 L453.0,53.8 L453.9,52.9 L454.9,52.3 L455.8,51.6 L456.8,51.8 L457.7,50.0 L458.7,48.2 L459.6,48.7 L460.6,48.1 L461.5,47.7 L462.5,49.0 L463.4,48.8 L464.4,47.8 L465.3,47.3 L466.3,46.6 L467.2,46.6 L468.2,45.5 L469.1,44.8 L470.1,44.5 L471.0,45.5 L472.0,45.9 L472.9,44.6 L473.9,44.9 L474.8,43.5 L475.8,42.9 L476.8,41.2 L477.7,41.3 L478.7,40.7 L479.6,40.3 L480.6,40.2 L481.5,40.2 L482.5,39.6 L483.4,38.8 L484.4,40.3 L485.3,39.6 L486.3,38.4 L487.2,37.4 L488.2,36.5 L489.1,37.4 L490.1,39.0 L491.0,37.9 L492.0,38.0 L492.9,36.9 L493.9,38.2 L494.8,38.2 L495.8,38.0 L496.7,38.5 L497.7,38.8 L498.6,38.5 L499.6,37.1 L500.6,35.9 L501.5,35.3 L502.5,34.5 L503.4,36.2 L504.4,35.7 L505.3,35.5 L506.3,35.3 L507.2,36.3 L508.2,35.0 L509.1,35.3 L510.1,34.8 L511.0,34.2 L512.0,32.6 L512.9,33.5 L513.9,32.8 L514.8,32.5 L515.8,32.6 L516.7,32.5 L517.7,33.0 L518.6,32.0 L519.6,31.9 L520.5,31.8 L521.5,31.4 L522.4,31.6 L523.4,30.9 L524.4,31.4 L525.3,30.3 L526.3,29.2 L527.2,29.4 L528.2,30.2 L529.1,29.3 L530.1,28.8 L531.0,28.5 L532.0,28.6 L532.9,28.3 L533.9,28.3 L534.8,27.0 L535.8,28.2 L536.7,28.1 L537.7,27.0 L537.7,42.7 L536.7,42.3 L535.8,41.4 L534.8,43.2 L533.9,42.3 L532.9,41.6 L532.0,42.2 L531.0,44.9 L530.1,44.7 L529.1,45.1 L528.2,45.1 L527.2,46.5 L526.3,45.8 L525.3,44.7 L524.4,45.7 L523.4,46.8 L522.4,45.7 L521.5,47.8 L520.5,48.7 L519.6,47.9 L518.6,49.1 L517.7,48.1 L516.7,49.9 L515.8,51.1 L514.8,51.4 L513.9,50.4 L512.9,51.0 L512.0,51.7 L511.0,52.1 L510.1,52.5 L509.1,53.0 L508.2,54.4 L507.2,54.7 L506.3,53.5 L505.3,53.7 L504.4,55.7 L503.4,55.3 L502.5,54.2 L501.5,54.5 L500.6,53.3 L499.6,53.1 L498.6,54.1 L497.7,53.7 L496.7,53.3 L495.8,54.2 L494.8,54.0 L493.9,55.4 L492.9,56.1 L492.0,56.5 L491.0,55.7 L490.1,56.8 L489.1,56.6 L488.2,57.4 L487.2,57.3 L486.3,55.7 L485.3,56.7 L484.4,55.5 L483.4,56.8 L482.5,59.1 L481.5,58.0 L480.6,59.5 L479.6,59.2 L478.7,57.9 L477.7,59.0 L476.8,57.8 L475.8,57.7 L474.8,57.9 L473.9,59.5 L472.9,60.4 L472.0,62.4 L471.0,61.9 L470.1,62.0 L469.1,62.9 L468.2,61.2 L467.2,62.2 L466.3,62.9 L465.3,61.7 L464.4,61.6 L463.4,63.3 L462.5,65.0 L461.5,65.9 L460.6,65.0 L459.6,65.9 L458.7,66.5 L457.7,65.2 L456.8,67.6 L455.8,67.9 L454.9,68.3 L453.9,69.3 L453.0,69.0 L452.0,72.0 L451.0,73.5 L450.1,73.1 L449.1,75.4 L448.2,75.3Z" fill="rgba(122,72,184,0.3)"/>
<polyline points="422.5,65.9 423.4,66.0 424.4,66.9 425.3,67.3 426.3,67.4 427.2,68.3 428.2,67.8 429.2,67.9 430.1,67.7 431.1,67.8 432.0,67.6 433.0,67.2 433.9,67.5 434.9,67.2 435.8,67.7 436.8,67.8 437.7,68.3 438.7,68.3 439.6,68.0 440.6,68.0 441.5,68.3 442.5,67.3 443.4,67.3 444.4,67.2 445.3,66.3 446.3,65.7 447.2,65.7" fill="none" stroke="#000" stroke-width="2" stroke-linejoin="round"/>
<polyline points="447.2,65.7 448.2,64.8 449.1,65.0 450.1,63.3 451.0,62.9 452.0,63.2 453.0,62.4 453.9,60.9 454.9,59.8 455.8,60.0 456.8,60.3 457.7,58.5 458.7,57.9 459.6,56.9 460.6,56.5 461.5,56.4 462.5,55.9 463.4,55.1 464.4,56.0 465.3,55.0 466.3,54.4 467.2,54.7 468.2,54.0 469.1,53.4 470.1,53.6 471.0,52.4 472.0,52.7 472.9,52.8 473.9,52.5 474.8,51.7 475.8,51.4 476.8,50.4 477.7,50.8 478.7,51.2 479.6,51.7 480.6,51.6 481.5,51.1 482.5,50.5 483.4,50.6 484.4,50.6 485.3,51.2 486.3,50.7 487.2,50.1 488.2,49.9 489.1,49.6 490.1,49.4 491.0,48.2 492.0,47.9 492.9,47.8 493.9,48.6 494.8,48.7 495.8,48.7 496.7,49.2 497.7,48.2 498.6,48.8 499.6,48.6 500.6,47.8 501.5,48.6 502.5,47.2 503.4,46.5 504.4,46.4 505.3,46.6 506.3,46.2 507.2,44.8 508.2,44.8 509.1,44.7 510.1,45.8 511.0,45.5 512.0,44.4 512.9,43.0 513.9,43.0 514.8,42.0 515.8,42.1 516.7,42.1 517.7,41.5 518.6,41.4 519.6,40.8 520.5,40.3 521.5,41.0 522.4,40.7 523.4,39.9 524.4,39.1 525.3,39.0 526.3,39.0 527.2,39.1 528.2,39.2 529.1,38.7 530.1,37.5 531.0,38.6 532.0,38.5 532.9,38.3 533.9,38.3 534.8,36.5 535.8,35.9 536.7,35.3 537.7,35.7" fill="none" stroke="#8a2db5" stroke-width="1.8" stroke-linejoin="round"/>
<polyline points="447.2,65.7 448.2,64.6 449.1,64.0 450.1,63.6 451.0,63.7 452.0,63.7 453.0,62.1 453.9,60.7 454.9,60.0 455.8,60.5 456.8,60.0 457.7,59.6 458.7,59.2 459.6,58.8 460.6,58.2 461.5,57.2 462.5,56.7 463.4,56.8 464.4,56.9 465.3,56.3 466.3,55.8 467.2,56.5 468.2,55.5 469.1,55.3 470.1,54.8 471.0,54.5 472.0,54.0 472.9,54.5 473.9,54.6 474.8,55.8 475.8,55.1 476.8,55.2 477.7,55.9 478.7,55.8 479.6,56.1 480.6,56.5 481.5,55.3 482.5,55.5 483.4,55.4 484.4,56.8 485.3,56.7 486.3,57.0 487.2,57.7 488.2,56.7 489.1,56.4 490.1,56.4 491.0,55.9 492.0,56.5 492.9,56.4 493.9,56.4 494.8,55.8 495.8,55.1 496.7,54.7 497.7,54.4 498.6,53.4 499.6,54.1 500.6,54.6 501.5,54.2 502.5,53.6 503.4,53.5 504.4,53.3 505.3,53.2 506.3,53.8 507.2,52.4 508.2,52.4 509.1,52.5 510.1,52.1 511.0,51.6 512.0,50.8 512.9,50.7 513.9,51.4 514.8,52.3 515.8,51.4 516.7,51.7 517.7,51.8 518.6,52.3 519.6,52.2 520.5,52.3 521.5,52.7 522.4,51.8 523.4,52.1 524.4,50.9 525.3,50.2 526.3,50.4 527.2,50.0 528.2,50.9 529.1,51.7 530.1,51.5 531.0,51.6 532.0,51.7 532.9,51.8 533.9,52.1 534.8,52.4 535.8,52.0 536.7,51.7 537.7,51.6" fill="none" stroke="#0c7a2c" stroke-width="1.8" stroke-linejoin="round"/>
<polyline points="447.2,65.7 448.2,64.7 449.1,65.1 450.1,63.9 451.0,64.0 452.0,62.2 453.0,61.3 453.9,61.2 454.9,60.9 455.8,60.2 456.8,60.9 457.7,59.9 458.7,59.2 459.6,58.2 460.6,58.7 461.5,58.3 462.5,57.6 463.4,55.8 464.4,55.8 465.3,55.4 466.3,55.6 467.2,55.9 468.2,55.0 469.1,55.1 470.1,55.4 471.0,55.1 472.0,54.5 472.9,53.8 473.9,53.5 474.8,53.0 475.8,54.0 476.8,54.1 477.7,53.3 478.7,53.7 479.6,53.1 480.6,51.7 481.5,53.5 482.5,54.4 483.4,53.4 484.4,53.3 485.3,53.8 486.3,53.6 487.2,53.1 488.2,53.0 489.1,53.0 490.1,52.8 491.0,53.0 492.0,52.8 492.9,52.3 493.9,52.4 494.8,51.4 495.8,52.7 496.7,51.4 497.7,51.7 498.6,52.2 499.6,52.4 500.6,52.5 501.5,53.1 502.5,51.9 503.4,51.8 504.4,51.8 505.3,51.4 506.3,51.0 507.2,51.8 508.2,51.0 509.1,50.7 510.1,50.5 511.0,50.4 512.0,50.5 512.9,50.3 513.9,50.6 514.8,50.6 515.8,50.8 516.7,51.4 517.7,50.4 518.6,51.3 519.6,50.4 520.5,50.5 521.5,50.2 522.4,49.7 523.4,48.4 524.4,49.7 525.3,49.0 526.3,48.5 527.2,49.2 528.2,48.9 529.1,49.6 530.1,49.5 531.0,48.7 532.0,47.8 532.9,47.4 533.9,45.7 534.8,45.8 535.8,45.8 536.7,45.5 537.7,45.6" fill="none" stroke="#f26a12" stroke-width="1.8" stroke-linejoin="round"/>
</g>
<rect x="399.5" y="21.5" width="144.6" height="61.1" fill="none" stroke="#6e6e6e" stroke-width="1.1"/>
<line x1="404.4" y1="82.6" x2="404.4" y2="80.3" stroke="#6e6e6e" stroke-width="0.9"/>
<text x="404.4" y="92.1" font-size="7.5" text-anchor="middle" fill="#222" stroke="#222" stroke-width="0.1">1960</text>
<line x1="423.4" y1="82.6" x2="423.4" y2="80.3" stroke="#6e6e6e" stroke-width="0.9"/>
<text x="423.4" y="92.1" font-size="7.5" text-anchor="middle" fill="#222" stroke="#222" stroke-width="0.1">1980</text>
<line x1="442.5" y1="82.6" x2="442.5" y2="80.3" stroke="#6e6e6e" stroke-width="0.9"/>
<text x="442.5" y="92.1" font-size="7.5" text-anchor="middle" fill="#222" stroke="#222" stroke-width="0.1">2000</text>
<line x1="461.5" y1="82.6" x2="461.5" y2="80.3" stroke="#6e6e6e" stroke-width="0.9"/>
<text x="461.5" y="92.1" font-size="7.5" text-anchor="middle" fill="#222" stroke="#222" stroke-width="0.1">2020</text>
<line x1="480.6" y1="82.6" x2="480.6" y2="80.3" stroke="#6e6e6e" stroke-width="0.9"/>
<text x="480.6" y="92.1" font-size="7.5" text-anchor="middle" fill="#222" stroke="#222" stroke-width="0.1">2040</text>
<line x1="499.6" y1="82.6" x2="499.6" y2="80.3" stroke="#6e6e6e" stroke-width="0.9"/>
<text x="499.6" y="92.1" font-size="7.5" text-anchor="middle" fill="#222" stroke="#222" stroke-width="0.1">2060</text>
<line x1="518.6" y1="82.6" x2="518.6" y2="80.3" stroke="#6e6e6e" stroke-width="0.9"/>
<text x="518.6" y="92.1" font-size="7.5" text-anchor="middle" fill="#222" stroke="#222" stroke-width="0.1">2080</text>
<line x1="537.7" y1="82.6" x2="537.7" y2="80.3" stroke="#6e6e6e" stroke-width="0.9"/>
<text x="537.7" y="92.1" font-size="7.5" text-anchor="middle" fill="#222" stroke="#222" stroke-width="0.1">2100</text>
<line x1="399.5" y1="24.4" x2="401.8" y2="24.4" stroke="#6e6e6e" stroke-width="0.9"/>
<text x="395.3" y="26.9" font-size="7.5" text-anchor="end" fill="#222" stroke="#222" stroke-width="0.1">90</text>
<line x1="399.5" y1="38.4" x2="401.8" y2="38.4" stroke="#6e6e6e" stroke-width="0.9"/>
<text x="395.3" y="40.9" font-size="7.5" text-anchor="end" fill="#222" stroke="#222" stroke-width="0.1">60</text>
<line x1="399.5" y1="52.3" x2="401.8" y2="52.3" stroke="#6e6e6e" stroke-width="0.9"/>
<text x="395.3" y="54.8" font-size="7.5" text-anchor="end" fill="#222" stroke="#222" stroke-width="0.1">30</text>
<line x1="399.5" y1="66.2" x2="401.8" y2="66.2" stroke="#6e6e6e" stroke-width="0.9"/>
<text x="395.3" y="68.8" font-size="7.5" text-anchor="end" fill="#222" stroke="#222" stroke-width="0.1">0</text>
<line x1="399.5" y1="80.2" x2="401.8" y2="80.2" stroke="#6e6e6e" stroke-width="0.9"/>
<text x="395.3" y="82.8" font-size="7.5" text-anchor="end" fill="#222" stroke="#222" stroke-width="0.1">-30</text>
<text transform="translate(374.1,52.0) rotate(-90)" font-size="7.2" text-anchor="middle" fill="#333">Annual Pr Anomaly</text>
<text transform="translate(384.9,52.0) rotate(-90)" font-size="7.2" text-anchor="middle" fill="#333">(mm)</text>
<text x="406.2" y="31.3" font-size="7.8" fill="#1f8a52">1.64/10a</text>
<text x="406.2" y="40.1" font-size="7.8" fill="#f5782a">2.59/10a</text>
<text x="406.2" y="49.0" font-size="7.8" fill="#9148c2">5.42/10a</text>
<text x="407.1" y="78.3" font-size="11" fill="#222">(k)</text>
<text x="539.9" y="78.0" font-size="10" text-anchor="end" fill="#111">ANN</text>
</g>
<g>
<clipPath id="cl"><rect x="399.5" y="95.4" width="144.6" height="61.4"/></clipPath>
<g clip-path="url(#cl)">
<path d="M422.5,130.8 L423.4,131.2 L424.4,131.8 L425.3,131.8 L426.3,132.1 L427.2,131.9 L428.2,131.7 L429.2,131.4 L430.1,131.2 L431.1,131.1 L432.0,131.5 L433.0,131.5 L433.9,131.6 L434.9,131.9 L435.8,131.7 L436.8,131.0 L437.7,130.8 L438.7,130.5 L439.6,130.0 L440.6,130.6 L441.5,130.3 L442.5,130.1 L443.4,130.0 L444.4,130.9 L445.3,130.9 L446.3,131.4 L447.2,131.3 L447.2,139.7 L446.3,140.0 L445.3,139.8 L444.4,139.9 L443.4,139.6 L442.5,140.2 L441.5,140.4 L440.6,140.7 L439.6,140.7 L438.7,141.1 L437.7,141.7 L436.8,141.3 L435.8,141.3 L434.9,140.5 L433.9,140.8 L433.0,140.7 L432.0,140.6 L431.1,140.1 L430.1,139.3 L429.2,138.9 L428.2,138.6 L427.2,138.7 L426.3,138.7 L425.3,139.0 L424.4,138.9 L423.4,138.6 L422.5,138.3Z" fill="#e8e8e8"/>
<path d="M448.2,125.2 L449.1,126.0 L450.1,124.4 L451.0,123.8 L452.0,123.4 L453.0,123.1 L453.9,122.0 L454.9,123.6 L455.8,123.8 L456.8,122.4 L457.7,122.0 L458.7,122.3 L459.6,123.2 L460.6,123.2 L461.5,123.2 L462.5,121.7 L463.4,121.5 L464.4,119.8 L465.3,122.3 L466.3,121.7 L467.2,119.7 L468.2,119.2 L469.1,119.8 L470.1,121.6 L471.0,121.4 L472.0,122.2 L472.9,123.2 L473.9,122.4 L474.8,120.9 L475.8,120.2 L476.8,119.6 L477.7,119.2 L478.7,119.9 L479.6,119.6 L480.6,120.0 L481.5,120.8 L482.5,120.6 L483.4,120.5 L484.4,121.4 L485.3,122.0 L486.3,121.6 L487.2,121.2 L488.2,121.5 L489.1,122.0 L490.1,120.4 L491.0,121.1 L492.0,119.3 L492.9,121.2 L493.9,121.4 L494.8,120.9 L495.8,120.5 L496.7,119.8 L497.7,120.1 L498.6,121.0 L499.6,120.9 L500.6,119.5 L501.5,119.0 L502.5,118.7 L503.4,120.9 L504.4,119.5 L505.3,119.3 L506.3,119.0 L507.2,118.8 L508.2,118.6 L509.1,117.9 L510.1,117.8 L511.0,117.8 L512.0,116.9 L512.9,116.1 L513.9,115.5 L514.8,117.2 L515.8,117.1 L516.7,117.8 L517.7,117.3 L518.6,117.6 L519.6,118.0 L520.5,118.4 L521.5,118.6 L522.4,118.0 L523.4,117.4 L524.4,117.4 L525.3,117.3 L526.3,117.2 L527.2,117.8 L528.2,117.6 L529.1,118.8 L530.1,118.4 L531.0,117.8 L532.0,118.7 L532.9,117.8 L533.9,118.0 L534.8,119.2 L535.8,118.9 L536.7,119.6 L537.7,119.8 L537.7,130.5 L536.7,131.4 L535.8,130.7 L534.8,130.8 L533.9,130.7 L532.9,130.5 L532.0,128.7 L531.0,130.1 L530.1,130.0 L529.1,130.3 L528.2,129.9 L527.2,129.9 L526.3,128.0 L525.3,129.3 L524.4,130.2 L523.4,129.4 L522.4,130.1 L521.5,129.0 L520.5,128.3 L519.6,129.0 L518.6,128.6 L517.7,127.6 L516.7,126.8 L515.8,128.3 L514.8,128.8 L513.9,129.7 L512.9,131.0 L512.0,129.7 L511.0,129.4 L510.1,129.2 L509.1,130.1 L508.2,130.4 L507.2,131.6 L506.3,131.4 L505.3,132.4 L504.4,131.1 L503.4,131.3 L502.5,130.4 L501.5,129.3 L500.6,131.1 L499.6,131.0 L498.6,131.7 L497.7,131.7 L496.7,132.2 L495.8,133.8 L494.8,131.5 L493.9,131.9 L492.9,132.0 L492.0,132.3 L491.0,131.8 L490.1,131.8 L489.1,131.9 L488.2,132.1 L487.2,133.1 L486.3,132.4 L485.3,131.3 L484.4,131.8 L483.4,133.3 L482.5,131.7 L481.5,131.8 L480.6,132.8 L479.6,132.0 L478.7,132.9 L477.7,132.8 L476.8,133.2 L475.8,132.8 L474.8,132.4 L473.9,133.5 L472.9,134.7 L472.0,137.0 L471.0,138.1 L470.1,137.4 L469.1,137.0 L468.2,136.8 L467.2,136.6 L466.3,134.3 L465.3,134.9 L464.4,135.4 L463.4,137.8 L462.5,137.3 L461.5,138.1 L460.6,137.1 L459.6,137.3 L458.7,138.1 L457.7,139.0 L456.8,140.2 L455.8,140.5 L454.9,139.9 L453.9,140.9 L453.0,142.1 L452.0,143.7 L451.0,143.8 L450.1,145.2 L449.1,146.0 L448.2,145.8Z" fill="rgba(118,198,118,0.22)"/>
<path d="M448.2,125.2 L449.1,126.0 L450.1,124.4 L451.0,123.6 L452.0,123.3 L453.0,123.2 L453.9,122.0 L454.9,124.0 L455.8,124.1 L456.8,123.3 L457.7,121.4 L458.7,122.6 L459.6,123.4 L460.6,122.8 L461.5,122.6 L462.5,121.7 L463.4,122.6 L464.4,121.9 L465.3,122.4 L466.3,122.4 L467.2,120.9 L468.2,119.6 L469.1,120.3 L470.1,119.9 L471.0,119.9 L472.0,119.5 L472.9,120.8 L473.9,120.5 L474.8,119.3 L475.8,119.3 L476.8,119.7 L477.7,119.4 L478.7,120.1 L479.6,120.4 L480.6,120.2 L481.5,120.4 L482.5,119.5 L483.4,119.4 L484.4,119.1 L485.3,119.3 L486.3,119.4 L487.2,119.8 L488.2,120.2 L489.1,119.9 L490.1,120.4 L491.0,120.6 L492.0,119.0 L492.9,120.7 L493.9,118.1 L494.8,119.1 L495.8,118.8 L496.7,118.6 L497.7,117.9 L498.6,119.2 L499.6,118.5 L500.6,117.7 L501.5,118.1 L502.5,117.5 L503.4,118.2 L504.4,117.9 L505.3,117.0 L506.3,118.1 L507.2,118.9 L508.2,118.3 L509.1,116.8 L510.1,118.0 L511.0,118.1 L512.0,118.2 L512.9,116.8 L513.9,117.7 L514.8,118.4 L515.8,118.4 L516.7,118.1 L517.7,118.1 L518.6,118.2 L519.6,117.7 L520.5,116.8 L521.5,116.6 L522.4,117.0 L523.4,116.6 L524.4,116.9 L525.3,116.3 L526.3,115.5 L527.2,115.6 L528.2,115.1 L529.1,115.2 L530.1,114.3 L531.0,114.4 L532.0,114.3 L532.9,113.4 L533.9,112.0 L534.8,111.8 L535.8,112.4 L536.7,111.5 L537.7,111.6 L537.7,122.4 L536.7,123.9 L535.8,123.1 L534.8,122.8 L533.9,124.4 L532.9,125.2 L532.0,125.0 L531.0,126.0 L530.1,126.3 L529.1,126.3 L528.2,126.9 L527.2,126.5 L526.3,125.4 L525.3,126.8 L524.4,128.2 L523.4,128.1 L522.4,129.4 L521.5,129.2 L520.5,129.4 L519.6,129.4 L518.6,129.6 L517.7,129.2 L516.7,128.6 L515.8,128.9 L514.8,128.7 L513.9,129.7 L512.9,129.5 L512.0,129.4 L511.0,127.8 L510.1,128.6 L509.1,128.4 L508.2,129.5 L507.2,130.3 L506.3,130.4 L505.3,129.7 L504.4,129.3 L503.4,129.8 L502.5,130.0 L501.5,129.0 L500.6,130.3 L499.6,129.5 L498.6,129.8 L497.7,129.1 L496.7,130.9 L495.8,132.2 L494.8,130.0 L493.9,129.8 L492.9,129.8 L492.0,130.0 L491.0,129.3 L490.1,130.1 L489.1,129.6 L488.2,130.1 L487.2,130.9 L486.3,131.4 L485.3,129.9 L484.4,130.2 L483.4,131.4 L482.5,132.4 L481.5,133.1 L480.6,132.2 L479.6,132.8 L478.7,133.5 L477.7,133.1 L476.8,132.5 L475.8,132.8 L474.8,132.7 L473.9,134.1 L472.9,134.6 L472.0,136.2 L471.0,137.2 L470.1,136.7 L469.1,136.3 L468.2,136.7 L467.2,136.1 L466.3,134.6 L465.3,135.9 L464.4,136.3 L463.4,137.8 L462.5,137.9 L461.5,138.2 L460.6,137.8 L459.6,137.8 L458.7,138.0 L457.7,138.6 L456.8,140.3 L455.8,140.0 L454.9,138.5 L453.9,140.0 L453.0,141.3 L452.0,142.8 L451.0,142.8 L450.1,144.2 L449.1,144.9 L448.2,144.6Z" fill="rgba(245,145,58,0.3)"/>
<path d="M448.2,125.2 L449.1,125.9 L450.1,124.1 L451.0,123.3 L452.0,123.1 L453.0,122.8 L453.9,121.3 L454.9,122.8 L455.8,122.8 L456.8,121.4 L457.7,119.6 L458.7,120.0 L459.6,121.2 L460.6,120.9 L461.5,120.7 L462.5,119.0 L463.4,118.8 L464.4,117.3 L465.3,118.9 L466.3,118.7 L467.2,116.6 L468.2,115.6 L469.1,116.7 L470.1,116.9 L471.0,116.6 L472.0,117.0 L472.9,118.1 L473.9,117.5 L474.8,115.4 L475.8,115.4 L476.8,114.4 L477.7,114.3 L478.7,114.9 L479.6,114.9 L480.6,114.1 L481.5,114.5 L482.5,114.0 L483.4,114.7 L484.4,114.4 L485.3,114.6 L486.3,114.2 L487.2,114.7 L488.2,114.2 L489.1,114.0 L490.1,113.5 L491.0,113.7 L492.0,112.2 L492.9,114.5 L493.9,113.2 L494.8,113.0 L495.8,112.3 L496.7,111.9 L497.7,112.1 L498.6,111.5 L499.6,111.0 L500.6,109.9 L501.5,109.5 L502.5,108.9 L503.4,110.6 L504.4,109.0 L505.3,108.2 L506.3,108.7 L507.2,109.6 L508.2,107.8 L509.1,106.9 L510.1,107.5 L511.0,107.8 L512.0,106.6 L512.9,105.6 L513.9,105.7 L514.8,106.9 L515.8,106.9 L516.7,107.4 L517.7,107.0 L518.6,106.8 L519.6,107.0 L520.5,106.5 L521.5,106.4 L522.4,105.4 L523.4,105.0 L524.4,105.4 L525.3,105.0 L526.3,104.3 L527.2,104.9 L528.2,104.9 L529.1,104.5 L530.1,103.6 L531.0,104.2 L532.0,105.5 L532.9,103.7 L533.9,102.2 L534.8,101.6 L535.8,101.0 L536.7,100.2 L537.7,99.6 L537.7,114.4 L536.7,115.9 L535.8,117.2 L534.8,117.2 L533.9,118.7 L532.9,119.5 L532.0,117.1 L531.0,117.7 L530.1,117.7 L529.1,118.2 L528.2,118.8 L527.2,119.4 L526.3,119.4 L525.3,120.3 L524.4,120.9 L523.4,120.8 L522.4,121.9 L521.5,121.6 L520.5,121.7 L519.6,122.5 L518.6,122.5 L517.7,121.3 L516.7,120.3 L515.8,122.0 L514.8,121.1 L513.9,122.1 L512.9,122.4 L512.0,121.9 L511.0,121.4 L510.1,121.7 L509.1,122.1 L508.2,122.6 L507.2,123.9 L506.3,123.4 L505.3,124.0 L504.4,123.5 L503.4,124.9 L502.5,124.7 L501.5,124.2 L500.6,127.1 L499.6,126.5 L498.6,127.2 L497.7,126.8 L496.7,127.5 L495.8,129.0 L494.8,127.6 L493.9,127.2 L492.9,127.1 L492.0,127.6 L491.0,125.9 L490.1,127.3 L489.1,128.0 L488.2,126.9 L487.2,129.0 L486.3,128.5 L485.3,128.4 L484.4,127.9 L483.4,130.2 L482.5,130.5 L481.5,131.3 L480.6,130.6 L479.6,130.3 L478.7,132.3 L477.7,131.9 L476.8,130.4 L475.8,130.7 L474.8,130.3 L473.9,132.1 L472.9,132.5 L472.0,135.0 L471.0,135.5 L470.1,135.1 L469.1,134.6 L468.2,135.8 L467.2,134.9 L466.3,132.1 L465.3,134.1 L464.4,135.8 L463.4,136.7 L462.5,137.2 L461.5,138.2 L460.6,137.1 L459.6,137.3 L458.7,138.3 L457.7,139.3 L456.8,140.3 L455.8,140.2 L454.9,139.4 L453.9,140.8 L453.0,141.5 L452.0,142.5 L451.0,142.7 L450.1,144.1 L449.1,144.8 L448.2,144.6Z" fill="rgba(122,72,184,0.3)"/>
<polyline points="422.5,135.8 423.4,135.9 424.4,136.0 425.3,136.2 426.3,136.6 427.2,136.9 428.2,136.6 429.2,136.8 430.1,136.9 431.1,137.1 432.0,137.1 433.0,137.6 433.9,137.5 434.9,137.9 435.8,137.8 436.8,137.5 437.7,137.1 438.7,137.2 439.6,137.6 440.6,137.9 441.5,137.5 442.5,137.0 443.4,136.5 444.4,136.9 445.3,136.5 446.3,135.7 447.2,135.6" fill="none" stroke="#000" stroke-width="2" stroke-linejoin="round"/>
<polyline points="447.2,135.6 448.2,134.3 449.1,135.6 450.1,134.1 451.0,134.0 452.0,133.8 453.0,133.1 453.9,132.9 454.9,132.1 455.8,130.7 456.8,130.8 457.7,130.9 458.7,130.0 459.6,128.7 460.6,128.4 461.5,128.4 462.5,128.2 463.4,128.2 464.4,127.7 465.3,127.3 466.3,125.8 467.2,126.9 468.2,126.2 469.1,126.1 470.1,125.4 471.0,125.1 472.0,125.0 472.9,125.5 473.9,125.7 474.8,125.3 475.8,125.6 476.8,124.6 477.7,124.5 478.7,123.9 479.6,124.3 480.6,123.8 481.5,124.0 482.5,124.5 483.4,122.9 484.4,124.0 485.3,123.7 486.3,123.2 487.2,122.2 488.2,122.4 489.1,121.5 490.1,122.1 491.0,122.2 492.0,123.1 492.9,122.5 493.9,122.8 494.8,122.8 495.8,123.2 496.7,122.2 497.7,121.8 498.6,120.3 499.6,119.5 500.6,119.3 501.5,119.1 502.5,118.2 503.4,118.0 504.4,118.3 505.3,117.8 506.3,117.5 507.2,116.8 508.2,117.4 509.1,117.7 510.1,117.0 511.0,116.3 512.0,116.6 512.9,116.1 513.9,115.3 514.8,114.5 515.8,114.4 516.7,115.5 517.7,114.7 518.6,115.9 519.6,115.0 520.5,114.4 521.5,114.8 522.4,114.1 523.4,114.0 524.4,113.2 525.3,112.6 526.3,112.5 527.2,112.8 528.2,112.5 529.1,111.6 530.1,112.0 531.0,111.8 532.0,111.5 532.9,111.0 533.9,109.9 534.8,110.6 535.8,109.6 536.7,109.2 537.7,109.1" fill="none" stroke="#8a2db5" stroke-width="1.8" stroke-linejoin="round"/>
<polyline points="447.2,135.6 448.2,135.0 449.1,135.1 450.1,134.3 451.0,135.0 452.0,133.8 453.0,133.3 453.9,132.8 454.9,132.0 455.8,131.9 456.8,131.2 457.7,130.4 458.7,130.0 459.6,129.2 460.6,129.7 461.5,129.4 462.5,129.4 463.4,128.0 464.4,128.0 465.3,127.4 466.3,127.5 467.2,128.0 468.2,127.7 469.1,127.3 470.1,127.6 471.0,127.6 472.0,128.0 472.9,126.3 473.9,126.4 474.8,126.0 475.8,125.6 476.8,125.8 477.7,125.2 478.7,124.4 479.6,124.6 480.6,124.9 481.5,126.5 482.5,126.3 483.4,126.1 484.4,125.8 485.3,126.2 486.3,126.5 487.2,126.8 488.2,126.2 489.1,126.3 490.1,125.5 491.0,126.1 492.0,125.5 492.9,124.6 493.9,125.9 494.8,126.2 495.8,126.2 496.7,126.1 497.7,125.3 498.6,125.8 499.6,125.0 500.6,125.9 501.5,125.5 502.5,124.2 503.4,124.8 504.4,125.6 505.3,124.8 506.3,124.9 507.2,124.3 508.2,123.8 509.1,122.4 510.1,123.5 511.0,123.2 512.0,123.2 512.9,122.3 513.9,121.8 514.8,122.4 515.8,121.8 516.7,121.5 517.7,121.2 518.6,121.8 519.6,122.5 520.5,122.3 521.5,122.4 522.4,122.1 523.4,123.2 524.4,122.9 525.3,123.1 526.3,124.1 527.2,123.7 528.2,122.9 529.1,122.7 530.1,122.9 531.0,124.1 532.0,123.9 532.9,123.8 533.9,124.4 534.8,125.2 535.8,124.7 536.7,125.7 537.7,126.0" fill="none" stroke="#0c7a2c" stroke-width="1.8" stroke-linejoin="round"/>
<polyline points="447.2,135.6 448.2,134.0 449.1,134.3 450.1,134.8 451.0,133.9 452.0,134.5 453.0,133.5 453.9,132.2 454.9,132.3 455.8,132.0 456.8,132.0 457.7,131.3 458.7,131.5 459.6,130.6 460.6,130.3 461.5,129.3 462.5,128.9 463.4,129.0 464.4,128.5 465.3,128.1 466.3,127.9 467.2,127.9 468.2,128.0 469.1,127.9 470.1,127.8 471.0,127.4 472.0,126.7 472.9,125.8 473.9,125.8 474.8,125.6 475.8,124.9 476.8,126.2 477.7,125.1 478.7,125.6 479.6,125.9 480.6,125.6 481.5,126.8 482.5,126.1 483.4,125.4 484.4,126.2 485.3,125.3 486.3,124.6 487.2,124.4 488.2,124.5 489.1,124.9 490.1,125.3 491.0,124.5 492.0,125.0 492.9,126.0 493.9,125.0 494.8,124.7 495.8,124.9 496.7,125.1 497.7,124.3 498.6,123.6 499.6,123.2 500.6,123.9 501.5,124.1 502.5,122.7 503.4,122.0 504.4,122.2 505.3,122.1 506.3,123.0 507.2,123.3 508.2,124.2 509.1,124.0 510.1,123.5 511.0,123.7 512.0,122.7 512.9,121.9 513.9,122.3 514.8,122.9 515.8,121.9 516.7,122.7 517.7,123.1 518.6,122.5 519.6,122.4 520.5,122.1 521.5,122.0 522.4,122.3 523.4,121.5 524.4,121.8 525.3,121.7 526.3,121.5 527.2,119.9 528.2,118.9 529.1,119.5 530.1,119.0 531.0,118.5 532.0,118.0 532.9,117.3 533.9,117.2 534.8,117.0 535.8,116.9 536.7,117.3 537.7,116.6" fill="none" stroke="#f26a12" stroke-width="1.8" stroke-linejoin="round"/>
</g>
<rect x="399.5" y="95.4" width="144.6" height="61.4" fill="none" stroke="#6e6e6e" stroke-width="1.1"/>
<line x1="404.4" y1="156.8" x2="404.4" y2="154.5" stroke="#6e6e6e" stroke-width="0.9"/>
<text x="404.4" y="166.3" font-size="7.5" text-anchor="middle" fill="#222" stroke="#222" stroke-width="0.1">1960</text>
<line x1="423.4" y1="156.8" x2="423.4" y2="154.5" stroke="#6e6e6e" stroke-width="0.9"/>
<text x="423.4" y="166.3" font-size="7.5" text-anchor="middle" fill="#222" stroke="#222" stroke-width="0.1">1980</text>
<line x1="442.5" y1="156.8" x2="442.5" y2="154.5" stroke="#6e6e6e" stroke-width="0.9"/>
<text x="442.5" y="166.3" font-size="7.5" text-anchor="middle" fill="#222" stroke="#222" stroke-width="0.1">2000</text>
<line x1="461.5" y1="156.8" x2="461.5" y2="154.5" stroke="#6e6e6e" stroke-width="0.9"/>
<text x="461.5" y="166.3" font-size="7.5" text-anchor="middle" fill="#222" stroke="#222" stroke-width="0.1">2020</text>
<line x1="480.6" y1="156.8" x2="480.6" y2="154.5" stroke="#6e6e6e" stroke-width="0.9"/>
<text x="480.6" y="166.3" font-size="7.5" text-anchor="middle" fill="#222" stroke="#222" stroke-width="0.1">2040</text>
<line x1="499.6" y1="156.8" x2="499.6" y2="154.5" stroke="#6e6e6e" stroke-width="0.9"/>
<text x="499.6" y="166.3" font-size="7.5" text-anchor="middle" fill="#222" stroke="#222" stroke-width="0.1">2060</text>
<line x1="518.6" y1="156.8" x2="518.6" y2="154.5" stroke="#6e6e6e" stroke-width="0.9"/>
<text x="518.6" y="166.3" font-size="7.5" text-anchor="middle" fill="#222" stroke="#222" stroke-width="0.1">2080</text>
<line x1="537.7" y1="156.8" x2="537.7" y2="154.5" stroke="#6e6e6e" stroke-width="0.9"/>
<text x="537.7" y="166.3" font-size="7.5" text-anchor="middle" fill="#222" stroke="#222" stroke-width="0.1">2100</text>
<line x1="399.5" y1="98.3" x2="401.8" y2="98.3" stroke="#6e6e6e" stroke-width="0.9"/>
<text x="395.3" y="100.9" font-size="7.5" text-anchor="end" fill="#222" stroke="#222" stroke-width="0.1">40</text>
<line x1="399.5" y1="117.0" x2="401.8" y2="117.0" stroke="#6e6e6e" stroke-width="0.9"/>
<text x="395.3" y="119.6" font-size="7.5" text-anchor="end" fill="#222" stroke="#222" stroke-width="0.1">20</text>
<line x1="399.5" y1="135.7" x2="401.8" y2="135.7" stroke="#6e6e6e" stroke-width="0.9"/>
<text x="395.3" y="138.3" font-size="7.5" text-anchor="end" fill="#222" stroke="#222" stroke-width="0.1">0</text>
<line x1="399.5" y1="154.4" x2="401.8" y2="154.4" stroke="#6e6e6e" stroke-width="0.9"/>
<text x="395.3" y="157.0" font-size="7.5" text-anchor="end" fill="#222" stroke="#222" stroke-width="0.1">-20</text>
<text transform="translate(374.1,126.1) rotate(-90)" font-size="7.2" text-anchor="middle" fill="#333">Annual Pr Anomaly</text>
<text transform="translate(384.9,126.1) rotate(-90)" font-size="7.2" text-anchor="middle" fill="#333">(mm)</text>
<text x="406.2" y="105.2" font-size="7.8" fill="#1f8a52">0.63/10a</text>
<text x="406.2" y="114.0" font-size="7.8" fill="#f5782a">1.35/10a</text>
<text x="406.2" y="122.9" font-size="7.8" fill="#9148c2">2.46/10a</text>
<text x="407.1" y="152.5" font-size="11" fill="#222">(l)</text>
<text x="539.9" y="152.2" font-size="10" text-anchor="end" fill="#111">MAM</text>
</g>
<g>
<clipPath id="cm"><rect x="399.5" y="169.4" width="144.6" height="61.6"/></clipPath>
<g clip-path="url(#cm)">
<path d="M422.5,204.0 L423.4,204.3 L424.4,205.4 L425.3,204.9 L426.3,204.9 L427.2,204.8 L428.2,205.0 L429.2,205.0 L430.1,205.2 L431.1,205.1 L432.0,205.8 L433.0,205.8 L433.9,204.7 L434.9,204.7 L435.8,204.7 L436.8,203.8 L437.7,203.7 L438.7,203.8 L439.6,203.7 L440.6,204.0 L441.5,203.4 L442.5,204.0 L443.4,204.4 L444.4,204.4 L445.3,204.2 L446.3,204.1 L447.2,203.9 L447.2,217.0 L446.3,217.7 L445.3,217.6 L444.4,218.5 L443.4,217.8 L442.5,217.6 L441.5,218.6 L440.6,218.4 L439.6,218.0 L438.7,217.8 L437.7,217.5 L436.8,218.2 L435.8,218.8 L434.9,218.4 L433.9,218.5 L433.0,219.0 L432.0,217.8 L431.1,217.1 L430.1,217.0 L429.2,216.1 L428.2,216.8 L427.2,217.0 L426.3,217.9 L425.3,217.0 L424.4,217.9 L423.4,216.6 L422.5,216.5Z" fill="#e8e8e8"/>
<path d="M448.2,200.5 L449.1,199.7 L450.1,198.4 L451.0,198.2 L452.0,197.8 L453.0,197.8 L453.9,196.3 L454.9,195.4 L455.8,195.2 L456.8,193.9 L457.7,195.0 L458.7,194.4 L459.6,194.0 L460.6,193.6 L461.5,194.7 L462.5,194.7 L463.4,194.4 L464.4,195.0 L465.3,194.3 L466.3,193.2 L467.2,194.1 L468.2,192.5 L469.1,192.5 L470.1,193.4 L471.0,192.3 L472.0,192.2 L472.9,191.8 L473.9,192.6 L474.8,192.4 L475.8,193.7 L476.8,193.0 L477.7,193.4 L478.7,193.2 L479.6,194.4 L480.6,193.4 L481.5,194.8 L482.5,195.0 L483.4,196.0 L484.4,195.7 L485.3,195.0 L486.3,195.8 L487.2,195.9 L488.2,195.2 L489.1,195.3 L490.1,193.9 L491.0,193.2 L492.0,192.1 L492.9,193.0 L493.9,195.0 L494.8,194.5 L495.8,194.7 L496.7,194.0 L497.7,194.6 L498.6,193.5 L499.6,193.3 L500.6,192.7 L501.5,190.4 L502.5,191.0 L503.4,191.1 L504.4,192.1 L505.3,191.1 L506.3,191.5 L507.2,191.8 L508.2,190.6 L509.1,190.6 L510.1,191.5 L511.0,192.1 L512.0,192.6 L512.9,191.4 L513.9,192.5 L514.8,191.9 L515.8,190.8 L516.7,190.7 L517.7,190.7 L518.6,191.5 L519.6,192.0 L520.5,191.3 L521.5,192.0 L522.4,193.1 L523.4,193.2 L524.4,194.5 L525.3,194.2 L526.3,192.9 L527.2,193.3 L528.2,193.2 L529.1,193.7 L530.1,193.2 L531.0,192.0 L532.0,192.3 L532.9,192.8 L533.9,193.6 L534.8,192.4 L535.8,192.4 L536.7,191.6 L537.7,191.1 L537.7,208.6 L536.7,209.5 L535.8,208.0 L534.8,208.9 L533.9,207.8 L532.9,208.5 L532.0,207.4 L531.0,206.8 L530.1,207.7 L529.1,207.4 L528.2,206.9 L527.2,208.4 L526.3,207.2 L525.3,208.1 L524.4,207.0 L523.4,208.3 L522.4,209.6 L521.5,209.6 L520.5,208.8 L519.6,209.4 L518.6,209.2 L517.7,208.0 L516.7,208.5 L515.8,209.5 L514.8,209.6 L513.9,208.7 L512.9,209.1 L512.0,209.9 L511.0,208.1 L510.1,207.7 L509.1,209.4 L508.2,208.5 L507.2,210.4 L506.3,210.1 L505.3,209.6 L504.4,210.2 L503.4,209.4 L502.5,209.3 L501.5,209.6 L500.6,210.8 L499.6,209.0 L498.6,208.5 L497.7,208.1 L496.7,210.7 L495.8,210.0 L494.8,208.2 L493.9,212.8 L492.9,211.5 L492.0,210.6 L491.0,209.4 L490.1,210.7 L489.1,210.9 L488.2,210.5 L487.2,209.6 L486.3,210.5 L485.3,210.6 L484.4,212.1 L483.4,210.9 L482.5,212.1 L481.5,211.0 L480.6,208.6 L479.6,209.4 L478.7,208.3 L477.7,208.8 L476.8,209.7 L475.8,211.7 L474.8,211.3 L473.9,210.8 L472.9,209.7 L472.0,210.0 L471.0,212.1 L470.1,211.5 L469.1,211.1 L468.2,210.3 L467.2,210.3 L466.3,211.9 L465.3,213.4 L464.4,213.0 L463.4,213.9 L462.5,214.5 L461.5,214.3 L460.6,214.0 L459.6,214.5 L458.7,213.2 L457.7,212.7 L456.8,212.7 L455.8,213.9 L454.9,214.3 L453.9,214.8 L453.0,215.1 L452.0,216.4 L451.0,218.9 L450.1,219.1 L449.1,218.3 L448.2,219.5Z" fill="rgba(118,198,118,0.22)"/>
<path d="M448.2,200.5 L449.1,199.7 L450.1,198.1 L451.0,198.1 L452.0,198.3 L453.0,198.7 L453.9,196.9 L454.9,196.0 L455.8,196.0 L456.8,194.7 L457.7,196.4 L458.7,193.4 L459.6,193.5 L460.6,192.3 L461.5,193.5 L462.5,194.1 L463.4,195.2 L464.4,194.9 L465.3,195.2 L466.3,193.6 L467.2,194.4 L468.2,193.1 L469.1,191.7 L470.1,192.0 L471.0,191.7 L472.0,193.1 L472.9,193.0 L473.9,193.8 L474.8,193.7 L475.8,194.0 L476.8,194.1 L477.7,196.0 L478.7,196.3 L479.6,196.7 L480.6,194.7 L481.5,194.6 L482.5,194.5 L483.4,194.1 L484.4,193.8 L485.3,193.2 L486.3,193.0 L487.2,193.2 L488.2,192.1 L489.1,192.0 L490.1,191.1 L491.0,190.9 L492.0,191.1 L492.9,191.0 L493.9,191.5 L494.8,190.8 L495.8,191.7 L496.7,192.2 L497.7,191.7 L498.6,191.0 L499.6,191.3 L500.6,191.1 L501.5,190.7 L502.5,190.7 L503.4,189.8 L504.4,191.7 L505.3,190.9 L506.3,191.1 L507.2,191.7 L508.2,192.1 L509.1,192.6 L510.1,192.9 L511.0,193.7 L512.0,193.5 L512.9,192.8 L513.9,193.6 L514.8,193.4 L515.8,191.9 L516.7,191.7 L517.7,192.8 L518.6,193.6 L519.6,192.9 L520.5,192.5 L521.5,192.6 L522.4,193.4 L523.4,192.2 L524.4,193.1 L525.3,193.2 L526.3,193.0 L527.2,193.0 L528.2,193.0 L529.1,193.3 L530.1,192.3 L531.0,194.4 L532.0,194.9 L532.9,194.8 L533.9,194.2 L534.8,193.2 L535.8,193.3 L536.7,193.5 L537.7,192.3 L537.7,209.1 L536.7,209.2 L535.8,208.4 L534.8,209.1 L533.9,208.0 L532.9,208.1 L532.0,207.3 L531.0,207.3 L530.1,207.4 L529.1,207.1 L528.2,207.7 L527.2,208.8 L526.3,208.4 L525.3,208.0 L524.4,207.5 L523.4,208.2 L522.4,209.1 L521.5,208.8 L520.5,209.3 L519.6,209.5 L518.6,209.1 L517.7,208.3 L516.7,209.2 L515.8,209.9 L514.8,210.0 L513.9,209.8 L512.9,209.1 L512.0,208.8 L511.0,207.3 L510.1,208.2 L509.1,209.0 L508.2,208.2 L507.2,210.0 L506.3,209.4 L505.3,208.1 L504.4,208.9 L503.4,207.9 L502.5,208.3 L501.5,207.4 L500.6,208.3 L499.6,207.4 L498.6,206.3 L497.7,205.8 L496.7,208.7 L495.8,208.2 L494.8,207.3 L493.9,210.2 L492.9,208.7 L492.0,206.7 L491.0,207.3 L490.1,208.2 L489.1,207.3 L488.2,207.7 L487.2,207.0 L486.3,209.5 L485.3,210.0 L484.4,210.9 L483.4,209.8 L482.5,211.2 L481.5,211.6 L480.6,210.7 L479.6,211.6 L478.7,210.9 L477.7,209.8 L476.8,210.5 L475.8,211.2 L474.8,209.8 L473.9,210.6 L472.9,211.3 L472.0,210.5 L471.0,211.3 L470.1,211.0 L469.1,210.5 L468.2,210.9 L467.2,210.9 L466.3,212.2 L465.3,212.7 L464.4,212.0 L463.4,213.3 L462.5,213.3 L461.5,213.0 L460.6,212.9 L459.6,213.3 L458.7,212.2 L457.7,212.7 L456.8,212.4 L455.8,214.2 L454.9,214.7 L453.9,214.6 L453.0,214.6 L452.0,215.3 L451.0,218.0 L450.1,218.1 L449.1,217.2 L448.2,218.3Z" fill="rgba(245,145,58,0.3)"/>
<path d="M448.2,200.5 L449.1,199.7 L450.1,198.1 L451.0,197.9 L452.0,197.5 L453.0,197.6 L453.9,195.7 L454.9,194.7 L455.8,194.4 L456.8,193.0 L457.7,193.7 L458.7,191.6 L459.6,191.2 L460.6,190.4 L461.5,190.5 L462.5,191.3 L463.4,191.4 L464.4,191.5 L465.3,191.2 L466.3,189.2 L467.2,189.6 L468.2,188.2 L469.1,188.3 L470.1,188.3 L471.0,188.1 L472.0,188.6 L472.9,187.8 L473.9,189.0 L474.8,188.4 L475.8,188.1 L476.8,187.3 L477.7,187.2 L478.7,186.7 L479.6,187.9 L480.6,186.5 L481.5,186.9 L482.5,186.8 L483.4,186.7 L484.4,187.0 L485.3,186.3 L486.3,187.0 L487.2,187.2 L488.2,186.8 L489.1,186.9 L490.1,185.7 L491.0,184.6 L492.0,184.7 L492.9,184.8 L493.9,186.6 L494.8,185.6 L495.8,185.8 L496.7,185.6 L497.7,186.3 L498.6,185.2 L499.6,185.0 L500.6,184.3 L501.5,183.4 L502.5,182.8 L503.4,182.6 L504.4,183.9 L505.3,183.7 L506.3,183.4 L507.2,183.3 L508.2,182.9 L509.1,183.1 L510.1,183.1 L511.0,183.6 L512.0,184.1 L512.9,182.5 L513.9,182.9 L514.8,183.8 L515.8,182.6 L516.7,182.5 L517.7,182.6 L518.6,183.3 L519.6,183.2 L520.5,182.5 L521.5,182.6 L522.4,183.0 L523.4,182.7 L524.4,183.4 L525.3,182.8 L526.3,181.4 L527.2,180.9 L528.2,181.1 L529.1,181.1 L530.1,181.7 L531.0,181.9 L532.0,182.8 L532.9,182.7 L533.9,183.1 L534.8,181.8 L535.8,181.3 L536.7,181.9 L537.7,181.7 L537.7,202.1 L536.7,202.3 L535.8,200.7 L534.8,200.7 L533.9,199.0 L532.9,199.7 L532.0,198.4 L531.0,199.2 L530.1,199.4 L529.1,198.1 L528.2,199.7 L527.2,200.3 L526.3,200.1 L525.3,200.5 L524.4,201.6 L523.4,203.9 L522.4,203.8 L521.5,203.2 L520.5,203.2 L519.6,202.8 L518.6,203.4 L517.7,202.8 L516.7,203.3 L515.8,203.8 L514.8,203.6 L513.9,204.0 L512.9,203.8 L512.0,205.3 L511.0,203.5 L510.1,203.9 L509.1,205.2 L508.2,203.8 L507.2,205.7 L506.3,204.4 L505.3,205.0 L504.4,206.3 L503.4,206.0 L502.5,205.7 L501.5,205.4 L500.6,205.6 L499.6,203.7 L498.6,204.5 L497.7,204.3 L496.7,206.2 L495.8,205.2 L494.8,204.4 L493.9,207.6 L492.9,206.6 L492.0,205.7 L491.0,204.3 L490.1,206.3 L489.1,205.3 L488.2,205.1 L487.2,204.1 L486.3,206.5 L485.3,207.3 L484.4,208.2 L483.4,205.5 L482.5,207.4 L481.5,206.6 L480.6,204.6 L479.6,206.1 L478.7,205.2 L477.7,204.5 L476.8,207.2 L475.8,208.0 L474.8,207.8 L473.9,208.7 L472.9,209.2 L472.0,208.9 L471.0,211.0 L470.1,211.1 L469.1,209.3 L468.2,209.2 L467.2,209.0 L466.3,209.9 L465.3,210.1 L464.4,210.4 L463.4,211.4 L462.5,211.7 L461.5,212.2 L460.6,212.1 L459.6,212.6 L458.7,212.6 L457.7,212.7 L456.8,212.4 L455.8,214.0 L454.9,214.1 L453.9,214.0 L453.0,214.3 L452.0,215.1 L451.0,217.7 L450.1,218.1 L449.1,217.3 L448.2,218.3Z" fill="rgba(122,72,184,0.3)"/>
<polyline points="422.5,210.3 423.4,210.1 424.4,210.7 425.3,210.9 426.3,211.5 427.2,212.0 428.2,213.2 429.2,212.4 430.1,212.0 431.1,211.7 432.0,211.4 433.0,211.4 433.9,211.1 434.9,211.0 435.8,211.2 436.8,211.6 437.7,211.3 438.7,211.0 439.6,211.6 440.6,212.1 441.5,212.1 442.5,211.5 443.4,211.1 444.4,211.0 445.3,210.5 446.3,209.7 447.2,208.9" fill="none" stroke="#000" stroke-width="2" stroke-linejoin="round"/>
<polyline points="447.2,208.9 448.2,208.1 449.1,207.2 450.1,206.3 451.0,207.8 452.0,206.1 453.0,204.6 453.9,204.0 454.9,204.0 455.8,203.0 456.8,202.3 457.7,202.1 458.7,201.2 459.6,200.8 460.6,200.3 461.5,199.2 462.5,199.1 463.4,198.0 464.4,198.6 465.3,197.7 466.3,197.7 467.2,196.5 468.2,196.8 469.1,196.3 470.1,197.8 471.0,197.2 472.0,197.2 472.9,195.5 473.9,194.9 474.8,195.1 475.8,194.4 476.8,195.8 477.7,195.5 478.7,195.7 479.6,195.9 480.6,195.7 481.5,196.4 482.5,195.8 483.4,196.3 484.4,197.2 485.3,197.0 486.3,197.0 487.2,196.8 488.2,197.0 489.1,197.6 490.1,197.3 491.0,196.4 492.0,196.9 492.9,196.9 493.9,197.2 494.8,197.0 495.8,197.8 496.7,196.3 497.7,195.7 498.6,196.3 499.6,195.4 500.6,195.8 501.5,195.7 502.5,194.3 503.4,195.2 504.4,196.1 505.3,195.7 506.3,194.3 507.2,195.0 508.2,194.1 509.1,194.1 510.1,194.4 511.0,193.7 512.0,192.7 512.9,193.1 513.9,193.3 514.8,192.8 515.8,192.5 516.7,193.3 517.7,193.0 518.6,192.6 519.6,192.2 520.5,192.4 521.5,192.4 522.4,192.2 523.4,191.2 524.4,191.1 525.3,190.7 526.3,190.8 527.2,191.4 528.2,191.4 529.1,191.1 530.1,190.6 531.0,190.0 532.0,190.0 532.9,189.5 533.9,189.2 534.8,189.1 535.8,189.9 536.7,190.5 537.7,192.3" fill="none" stroke="#8a2db5" stroke-width="1.8" stroke-linejoin="round"/>
<polyline points="447.2,208.9 448.2,208.0 449.1,207.4 450.1,207.4 451.0,206.3 452.0,205.5 453.0,205.2 453.9,204.9 454.9,203.6 455.8,203.6 456.8,203.0 457.7,202.7 458.7,202.4 459.6,201.8 460.6,202.1 461.5,201.8 462.5,201.1 463.4,200.8 464.4,201.0 465.3,200.9 466.3,201.0 467.2,200.3 468.2,200.0 469.1,200.7 470.1,199.9 471.0,200.0 472.0,199.4 472.9,198.2 473.9,197.2 474.8,198.1 475.8,198.0 476.8,198.1 477.7,197.8 478.7,199.4 479.6,199.8 480.6,200.3 481.5,201.0 482.5,201.4 483.4,201.9 484.4,202.4 485.3,202.1 486.3,200.7 487.2,201.8 488.2,202.2 489.1,202.1 490.1,202.8 491.0,201.5 492.0,200.0 492.9,201.5 493.9,201.5 494.8,200.4 495.8,200.4 496.7,200.9 497.7,200.1 498.6,200.5 499.6,201.5 500.6,201.5 501.5,200.5 502.5,200.0 503.4,199.0 504.4,198.9 505.3,198.4 506.3,198.0 507.2,197.8 508.2,199.4 509.1,199.4 510.1,198.9 511.0,199.0 512.0,199.8 512.9,200.2 513.9,199.2 514.8,199.0 515.8,199.2 516.7,198.6 517.7,197.9 518.6,197.7 519.6,198.1 520.5,197.9 521.5,197.5 522.4,197.9 523.4,198.7 524.4,199.0 525.3,198.6 526.3,199.6 527.2,198.6 528.2,198.3 529.1,197.4 530.1,198.0 531.0,197.8 532.0,196.8 532.9,196.7 533.9,198.1 534.8,198.2 535.8,198.0 536.7,198.3 537.7,197.1" fill="none" stroke="#0c7a2c" stroke-width="1.8" stroke-linejoin="round"/>
<polyline points="447.2,208.9 448.2,206.6 449.1,206.4 450.1,206.3 451.0,206.5 452.0,206.7 453.0,206.6 453.9,207.2 454.9,205.5 455.8,204.6 456.8,204.1 457.7,202.9 458.7,202.2 459.6,202.0 460.6,201.2 461.5,201.3 462.5,201.6 463.4,200.4 464.4,199.2 465.3,199.6 466.3,199.2 467.2,199.5 468.2,199.3 469.1,199.5 470.1,199.9 471.0,199.8 472.0,199.2 472.9,198.4 473.9,197.3 474.8,196.9 475.8,197.8 476.8,199.4 477.7,200.3 478.7,201.3 479.6,200.8 480.6,200.2 481.5,199.7 482.5,200.4 483.4,199.4 484.4,200.0 485.3,199.5 486.3,199.9 487.2,199.8 488.2,200.0 489.1,200.1 490.1,199.3 491.0,198.6 492.0,198.5 492.9,198.2 493.9,198.6 494.8,198.4 495.8,198.4 496.7,198.6 497.7,198.3 498.6,198.9 499.6,197.8 500.6,198.2 501.5,198.5 502.5,198.1 503.4,197.9 504.4,198.6 505.3,198.4 506.3,197.6 507.2,197.6 508.2,198.8 509.1,198.6 510.1,199.5 511.0,200.1 512.0,199.6 512.9,199.7 513.9,199.1 514.8,199.0 515.8,198.8 516.7,199.3 517.7,198.5 518.6,198.6 519.6,198.6 520.5,198.7 521.5,197.5 522.4,197.3 523.4,197.7 524.4,198.2 525.3,198.8 526.3,199.1 527.2,200.2 528.2,199.8 529.1,199.6 530.1,198.9 531.0,199.0 532.0,199.0 532.9,198.9 533.9,198.4 534.8,198.4 535.8,198.7 536.7,197.7 537.7,196.5" fill="none" stroke="#f26a12" stroke-width="1.8" stroke-linejoin="round"/>
</g>
<rect x="399.5" y="169.4" width="144.6" height="61.6" fill="none" stroke="#6e6e6e" stroke-width="1.1"/>
<line x1="404.4" y1="231.0" x2="404.4" y2="228.7" stroke="#6e6e6e" stroke-width="0.9"/>
<text x="404.4" y="240.5" font-size="7.5" text-anchor="middle" fill="#222" stroke="#222" stroke-width="0.1">1960</text>
<line x1="423.4" y1="231.0" x2="423.4" y2="228.7" stroke="#6e6e6e" stroke-width="0.9"/>
<text x="423.4" y="240.5" font-size="7.5" text-anchor="middle" fill="#222" stroke="#222" stroke-width="0.1">1980</text>
<line x1="442.5" y1="231.0" x2="442.5" y2="228.7" stroke="#6e6e6e" stroke-width="0.9"/>
<text x="442.5" y="240.5" font-size="7.5" text-anchor="middle" fill="#222" stroke="#222" stroke-width="0.1">2000</text>
<line x1="461.5" y1="231.0" x2="461.5" y2="228.7" stroke="#6e6e6e" stroke-width="0.9"/>
<text x="461.5" y="240.5" font-size="7.5" text-anchor="middle" fill="#222" stroke="#222" stroke-width="0.1">2020</text>
<line x1="480.6" y1="231.0" x2="480.6" y2="228.7" stroke="#6e6e6e" stroke-width="0.9"/>
<text x="480.6" y="240.5" font-size="7.5" text-anchor="middle" fill="#222" stroke="#222" stroke-width="0.1">2040</text>
<line x1="499.6" y1="231.0" x2="499.6" y2="228.7" stroke="#6e6e6e" stroke-width="0.9"/>
<text x="499.6" y="240.5" font-size="7.5" text-anchor="middle" fill="#222" stroke="#222" stroke-width="0.1">2060</text>
<line x1="518.6" y1="231.0" x2="518.6" y2="228.7" stroke="#6e6e6e" stroke-width="0.9"/>
<text x="518.6" y="240.5" font-size="7.5" text-anchor="middle" fill="#222" stroke="#222" stroke-width="0.1">2080</text>
<line x1="537.7" y1="231.0" x2="537.7" y2="228.7" stroke="#6e6e6e" stroke-width="0.9"/>
<text x="537.7" y="240.5" font-size="7.5" text-anchor="middle" fill="#222" stroke="#222" stroke-width="0.1">2100</text>
<line x1="399.5" y1="172.3" x2="401.8" y2="172.3" stroke="#6e6e6e" stroke-width="0.9"/>
<text x="395.3" y="174.9" font-size="7.5" text-anchor="end" fill="#222" stroke="#222" stroke-width="0.1">30</text>
<line x1="399.5" y1="191.1" x2="401.8" y2="191.1" stroke="#6e6e6e" stroke-width="0.9"/>
<text x="395.3" y="193.6" font-size="7.5" text-anchor="end" fill="#222" stroke="#222" stroke-width="0.1">15</text>
<line x1="399.5" y1="209.8" x2="401.8" y2="209.8" stroke="#6e6e6e" stroke-width="0.9"/>
<text x="395.3" y="212.4" font-size="7.5" text-anchor="end" fill="#222" stroke="#222" stroke-width="0.1">0</text>
<line x1="399.5" y1="228.6" x2="401.8" y2="228.6" stroke="#6e6e6e" stroke-width="0.9"/>
<text x="395.3" y="231.2" font-size="7.5" text-anchor="end" fill="#222" stroke="#222" stroke-width="0.1">-15</text>
<text transform="translate(374.1,200.2) rotate(-90)" font-size="7.2" text-anchor="middle" fill="#333">Annual Pr Anomaly</text>
<text transform="translate(384.9,200.2) rotate(-90)" font-size="7.2" text-anchor="middle" fill="#333">(mm)</text>
<text x="406.2" y="179.2" font-size="7.8" fill="#1f8a52">0.43/10a</text>
<text x="406.2" y="188.1" font-size="7.8" fill="#f5782a">0.18/10a</text>
<text x="406.2" y="196.9" font-size="7.8" fill="#9148c2">0.80/10a</text>
<text x="407.1" y="226.7" font-size="11" fill="#222">(m)</text>
<text x="539.9" y="226.4" font-size="10" text-anchor="end" fill="#111">JJA</text>
</g>
<g>
<clipPath id="cn"><rect x="399.5" y="243.4" width="144.6" height="61.9"/></clipPath>
<g clip-path="url(#cn)">
<path d="M422.5,277.2 L423.4,276.3 L424.4,277.0 L425.3,276.2 L426.3,276.2 L427.2,276.7 L428.2,276.8 L429.2,276.8 L430.1,276.6 L431.1,276.7 L432.0,276.2 L433.0,276.8 L433.9,277.3 L434.9,277.6 L435.8,277.5 L436.8,277.9 L437.7,277.9 L438.7,278.1 L439.6,277.9 L440.6,277.7 L441.5,277.2 L442.5,276.1 L443.4,276.9 L444.4,277.0 L445.3,278.0 L446.3,276.9 L447.2,277.4 L447.2,291.2 L446.3,291.0 L445.3,291.8 L444.4,291.6 L443.4,291.8 L442.5,291.2 L441.5,292.2 L440.6,291.2 L439.6,290.5 L438.7,290.8 L437.7,289.7 L436.8,291.2 L435.8,291.6 L434.9,291.9 L433.9,291.9 L433.0,292.3 L432.0,291.9 L431.1,292.3 L430.1,292.4 L429.2,291.9 L428.2,291.7 L427.2,291.8 L426.3,291.3 L425.3,291.2 L424.4,290.8 L423.4,291.1 L422.5,290.9Z" fill="#e8e8e8"/>
<path d="M448.2,273.8 L449.1,274.7 L450.1,273.7 L451.0,272.7 L452.0,274.1 L453.0,273.1 L453.9,272.5 L454.9,271.8 L455.8,271.5 L456.8,271.3 L457.7,270.2 L458.7,270.6 L459.6,272.1 L460.6,272.3 L461.5,272.2 L462.5,272.2 L463.4,271.7 L464.4,271.5 L465.3,271.7 L466.3,272.0 L467.2,270.9 L468.2,271.3 L469.1,270.9 L470.1,270.2 L471.0,269.8 L472.0,269.1 L472.9,269.5 L473.9,268.8 L474.8,269.8 L475.8,270.1 L476.8,269.9 L477.7,270.7 L478.7,269.7 L479.6,269.9 L480.6,270.3 L481.5,271.0 L482.5,270.3 L483.4,269.5 L484.4,269.6 L485.3,269.6 L486.3,270.4 L487.2,270.6 L488.2,271.6 L489.1,270.6 L490.1,270.6 L491.0,272.1 L492.0,272.7 L492.9,270.9 L493.9,270.6 L494.8,271.6 L495.8,270.3 L496.7,270.2 L497.7,270.2 L498.6,270.2 L499.6,270.6 L500.6,270.0 L501.5,268.8 L502.5,270.1 L503.4,270.1 L504.4,269.4 L505.3,270.1 L506.3,270.5 L507.2,268.8 L508.2,268.0 L509.1,267.4 L510.1,266.5 L511.0,266.3 L512.0,267.0 L512.9,266.8 L513.9,266.8 L514.8,266.5 L515.8,265.7 L516.7,266.0 L517.7,266.7 L518.6,267.9 L519.6,267.3 L520.5,266.8 L521.5,267.8 L522.4,267.2 L523.4,267.9 L524.4,267.4 L525.3,268.5 L526.3,269.0 L527.2,270.2 L528.2,269.1 L529.1,269.2 L530.1,268.4 L531.0,268.2 L532.0,267.5 L532.9,267.2 L533.9,267.2 L534.8,268.2 L535.8,266.6 L536.7,267.2 L537.7,266.9 L537.7,285.0 L536.7,286.2 L535.8,287.0 L534.8,287.9 L533.9,286.5 L532.9,287.0 L532.0,286.6 L531.0,285.5 L530.1,284.5 L529.1,283.3 L528.2,283.7 L527.2,284.4 L526.3,284.1 L525.3,284.6 L524.4,284.1 L523.4,284.9 L522.4,284.4 L521.5,284.2 L520.5,284.4 L519.6,285.4 L518.6,284.7 L517.7,283.7 L516.7,284.0 L515.8,285.3 L514.8,284.1 L513.9,284.6 L512.9,284.1 L512.0,284.3 L511.0,284.8 L510.1,285.0 L509.1,285.1 L508.2,284.5 L507.2,285.8 L506.3,285.7 L505.3,284.6 L504.4,284.3 L503.4,284.9 L502.5,285.0 L501.5,286.3 L500.6,284.5 L499.6,284.9 L498.6,285.5 L497.7,287.1 L496.7,285.0 L495.8,284.7 L494.8,285.7 L493.9,287.0 L492.9,286.9 L492.0,286.8 L491.0,286.2 L490.1,285.9 L489.1,285.4 L488.2,285.4 L487.2,286.4 L486.3,286.6 L485.3,287.5 L484.4,286.5 L483.4,287.4 L482.5,286.2 L481.5,287.8 L480.6,288.4 L479.6,287.9 L478.7,288.3 L477.7,286.1 L476.8,286.5 L475.8,286.3 L474.8,288.4 L473.9,288.0 L472.9,288.1 L472.0,287.0 L471.0,287.8 L470.1,287.5 L469.1,288.1 L468.2,288.1 L467.2,288.1 L466.3,288.1 L465.3,287.0 L464.4,285.6 L463.4,287.4 L462.5,286.8 L461.5,288.7 L460.6,287.3 L459.6,288.5 L458.7,288.6 L457.7,288.5 L456.8,290.3 L455.8,291.3 L454.9,292.7 L453.9,291.5 L453.0,292.8 L452.0,291.5 L451.0,292.5 L450.1,291.7 L449.1,293.7 L448.2,294.1Z" fill="rgba(118,198,118,0.22)"/>
<path d="M448.2,273.8 L449.1,274.6 L450.1,273.5 L451.0,272.3 L452.0,273.3 L453.0,272.8 L453.9,272.3 L454.9,272.0 L455.8,271.6 L456.8,271.8 L457.7,270.8 L458.7,270.8 L459.6,271.3 L460.6,271.6 L461.5,271.0 L462.5,270.0 L463.4,270.6 L464.4,271.0 L465.3,269.9 L466.3,269.4 L467.2,269.2 L468.2,269.1 L469.1,269.5 L470.1,269.2 L471.0,268.9 L472.0,269.3 L472.9,269.6 L473.9,268.2 L474.8,268.5 L475.8,268.3 L476.8,268.4 L477.7,268.9 L478.7,268.4 L479.6,268.7 L480.6,268.9 L481.5,269.4 L482.5,269.0 L483.4,269.3 L484.4,270.0 L485.3,269.5 L486.3,269.1 L487.2,268.7 L488.2,269.4 L489.1,268.1 L490.1,268.9 L491.0,269.2 L492.0,269.6 L492.9,268.1 L493.9,267.5 L494.8,266.8 L495.8,266.3 L496.7,266.8 L497.7,266.5 L498.6,266.2 L499.6,267.3 L500.6,266.9 L501.5,267.7 L502.5,267.3 L503.4,268.6 L504.4,267.3 L505.3,268.2 L506.3,268.7 L507.2,267.5 L508.2,266.3 L509.1,265.9 L510.1,265.5 L511.0,266.9 L512.0,267.7 L512.9,266.9 L513.9,267.3 L514.8,265.3 L515.8,266.5 L516.7,265.1 L517.7,265.2 L518.6,265.3 L519.6,264.4 L520.5,265.2 L521.5,265.6 L522.4,265.8 L523.4,265.1 L524.4,264.4 L525.3,265.0 L526.3,264.8 L527.2,265.2 L528.2,264.2 L529.1,265.1 L530.1,264.1 L531.0,265.6 L532.0,264.5 L532.9,263.5 L533.9,264.0 L534.8,264.8 L535.8,264.5 L536.7,264.9 L537.7,263.9 L537.7,282.3 L536.7,282.0 L535.8,283.2 L534.8,283.4 L533.9,281.7 L532.9,282.7 L532.0,284.0 L531.0,283.1 L530.1,281.8 L529.1,280.6 L528.2,280.4 L527.2,280.0 L526.3,280.4 L525.3,280.9 L524.4,282.1 L523.4,283.5 L522.4,281.7 L521.5,282.5 L520.5,283.6 L519.6,284.6 L518.6,284.4 L517.7,284.1 L516.7,281.9 L515.8,284.0 L514.8,283.7 L513.9,284.1 L512.9,283.3 L512.0,284.5 L511.0,284.1 L510.1,284.2 L509.1,283.9 L508.2,284.4 L507.2,284.4 L506.3,283.5 L505.3,282.7 L504.4,281.5 L503.4,282.9 L502.5,283.1 L501.5,284.2 L500.6,282.2 L499.6,281.2 L498.6,281.9 L497.7,282.4 L496.7,281.5 L495.8,280.3 L494.8,281.9 L493.9,283.1 L492.9,282.1 L492.0,283.5 L491.0,282.9 L490.1,283.1 L489.1,283.3 L488.2,284.1 L487.2,285.7 L486.3,285.4 L485.3,286.6 L484.4,286.5 L483.4,285.8 L482.5,285.2 L481.5,287.2 L480.6,286.4 L479.6,285.8 L478.7,286.8 L477.7,285.5 L476.8,286.3 L475.8,287.2 L474.8,287.0 L473.9,288.1 L472.9,287.7 L472.0,287.7 L471.0,288.5 L470.1,287.6 L469.1,287.2 L468.2,287.9 L467.2,287.8 L466.3,287.7 L465.3,285.5 L464.4,282.8 L463.4,285.0 L462.5,285.4 L461.5,287.1 L460.6,286.0 L459.6,287.5 L458.7,288.3 L457.7,288.8 L456.8,289.7 L455.8,290.8 L454.9,291.1 L453.9,290.1 L453.0,291.5 L452.0,289.9 L451.0,290.7 L450.1,290.3 L449.1,292.4 L448.2,292.9Z" fill="rgba(245,145,58,0.3)"/>
<path d="M448.2,273.8 L449.1,274.6 L450.1,273.4 L451.0,272.2 L452.0,273.2 L453.0,271.9 L453.9,271.1 L454.9,270.6 L455.8,270.5 L456.8,270.4 L457.7,269.3 L458.7,269.0 L459.6,270.0 L460.6,270.3 L461.5,269.5 L462.5,268.9 L463.4,268.1 L464.4,268.5 L465.3,267.5 L466.3,267.3 L467.2,266.7 L468.2,266.1 L469.1,266.2 L470.1,266.0 L471.0,265.4 L472.0,265.4 L472.9,265.3 L473.9,264.8 L474.8,264.5 L475.8,264.8 L476.8,265.6 L477.7,266.1 L478.7,265.7 L479.6,265.1 L480.6,264.9 L481.5,266.1 L482.5,265.9 L483.4,264.5 L484.4,264.3 L485.3,263.9 L486.3,263.7 L487.2,262.6 L488.2,263.2 L489.1,262.5 L490.1,262.6 L491.0,264.1 L492.0,264.4 L492.9,263.2 L493.9,262.4 L494.8,262.0 L495.8,261.1 L496.7,261.2 L497.7,261.7 L498.6,261.3 L499.6,262.3 L500.6,262.0 L501.5,261.4 L502.5,262.7 L503.4,262.4 L504.4,261.7 L505.3,262.5 L506.3,262.4 L507.2,260.8 L508.2,260.6 L509.1,259.9 L510.1,258.7 L511.0,260.3 L512.0,260.7 L512.9,258.8 L513.9,259.0 L514.8,257.5 L515.8,258.5 L516.7,258.1 L517.7,257.7 L518.6,258.4 L519.6,257.8 L520.5,257.1 L521.5,257.5 L522.4,256.7 L523.4,257.1 L524.4,256.5 L525.3,256.7 L526.3,256.5 L527.2,256.4 L528.2,255.1 L529.1,256.4 L530.1,255.6 L531.0,256.5 L532.0,255.2 L532.9,254.7 L533.9,254.4 L534.8,255.3 L535.8,254.7 L536.7,254.9 L537.7,253.7 L537.7,275.8 L536.7,275.0 L535.8,276.7 L534.8,277.2 L533.9,276.9 L532.9,277.4 L532.0,277.9 L531.0,276.7 L530.1,275.5 L529.1,275.4 L528.2,275.9 L527.2,275.0 L526.3,275.2 L525.3,275.7 L524.4,276.4 L523.4,277.4 L522.4,277.1 L521.5,278.5 L520.5,280.1 L519.6,280.7 L518.6,280.3 L517.7,279.7 L516.7,278.8 L515.8,280.5 L514.8,280.4 L513.9,280.6 L512.9,281.0 L512.0,280.7 L511.0,281.1 L510.1,281.9 L509.1,281.8 L508.2,281.0 L507.2,281.5 L506.3,281.7 L505.3,282.4 L504.4,282.1 L503.4,282.9 L502.5,282.1 L501.5,282.2 L500.6,280.6 L499.6,279.2 L498.6,280.4 L497.7,282.0 L496.7,280.4 L495.8,279.9 L494.8,280.6 L493.9,281.7 L492.9,281.9 L492.0,282.7 L491.0,281.7 L490.1,281.8 L489.1,281.8 L488.2,283.5 L487.2,284.6 L486.3,284.7 L485.3,286.8 L484.4,286.5 L483.4,285.9 L482.5,284.6 L481.5,287.5 L480.6,288.2 L479.6,285.7 L478.7,287.9 L477.7,285.8 L476.8,286.5 L475.8,286.0 L474.8,285.7 L473.9,286.1 L472.9,285.2 L472.0,284.9 L471.0,287.3 L470.1,286.8 L469.1,286.7 L468.2,285.7 L467.2,285.4 L466.3,286.0 L465.3,284.7 L464.4,282.8 L463.4,284.7 L462.5,285.6 L461.5,286.3 L460.6,285.6 L459.6,287.1 L458.7,287.8 L457.7,288.5 L456.8,290.2 L455.8,290.8 L454.9,291.7 L453.9,290.2 L453.0,291.3 L452.0,290.2 L451.0,291.2 L450.1,290.7 L449.1,292.5 L448.2,292.9Z" fill="rgba(122,72,184,0.3)"/>
<polyline points="422.5,284.5 423.4,284.6 424.4,284.7 425.3,285.0 426.3,284.9 427.2,284.2 428.2,284.7 429.2,284.8 430.1,284.5 431.1,284.3 432.0,284.5 433.0,284.6 433.9,284.5 434.9,284.9 435.8,285.3 436.8,285.0 437.7,284.8 438.7,284.1 439.6,283.9 440.6,284.1 441.5,284.4 442.5,284.2 443.4,284.0 444.4,283.4 445.3,283.4 446.3,282.6 447.2,282.7" fill="none" stroke="#000" stroke-width="2" stroke-linejoin="round"/>
<polyline points="447.2,282.7 448.2,282.3 449.1,282.3 450.1,281.5 451.0,281.5 452.0,280.9 453.0,280.7 453.9,279.5 454.9,279.3 455.8,278.7 456.8,278.3 457.7,277.9 458.7,277.2 459.6,277.9 460.6,277.6 461.5,277.7 462.5,276.5 463.4,275.2 464.4,275.2 465.3,275.2 466.3,275.6 467.2,275.8 468.2,275.8 469.1,275.8 470.1,275.3 471.0,275.0 472.0,274.4 472.9,275.0 473.9,274.8 474.8,274.5 475.8,275.3 476.8,275.5 477.7,276.0 478.7,275.5 479.6,276.4 480.6,276.5 481.5,276.0 482.5,275.4 483.4,274.8 484.4,274.3 485.3,275.4 486.3,274.4 487.2,274.9 488.2,274.6 489.1,274.2 490.1,274.0 491.0,274.0 492.0,274.3 492.9,274.2 493.9,273.6 494.8,272.4 495.8,271.5 496.7,272.8 497.7,272.2 498.6,271.7 499.6,273.0 500.6,272.3 501.5,273.3 502.5,273.7 503.4,273.2 504.4,273.2 505.3,271.8 506.3,271.0 507.2,271.1 508.2,271.1 509.1,271.1 510.1,271.2 511.0,270.6 512.0,269.5 512.9,270.1 513.9,269.9 514.8,270.2 515.8,270.9 516.7,270.0 517.7,269.6 518.6,268.6 519.6,269.0 520.5,268.8 521.5,268.6 522.4,268.8 523.4,267.7 524.4,267.8 525.3,267.7 526.3,268.0 527.2,266.2 528.2,266.1 529.1,267.2 530.1,266.3 531.0,265.7 532.0,266.6 532.9,267.3 533.9,266.3 534.8,265.2 535.8,264.6 536.7,264.3 537.7,263.8" fill="none" stroke="#8a2db5" stroke-width="1.8" stroke-linejoin="round"/>
<polyline points="447.2,282.7 448.2,283.3 449.1,282.3 450.1,282.1 451.0,281.4 452.0,281.7 453.0,281.2 453.9,280.8 454.9,279.7 455.8,279.4 456.8,279.1 457.7,276.9 458.7,278.2 459.6,278.3 460.6,278.1 461.5,277.9 462.5,278.0 463.4,278.0 464.4,277.1 465.3,277.2 466.3,277.1 467.2,276.9 468.2,275.7 469.1,275.7 470.1,275.0 471.0,275.9 472.0,276.9 472.9,277.3 473.9,276.8 474.8,276.6 475.8,276.4 476.8,276.9 477.7,276.5 478.7,276.4 479.6,275.2 480.6,275.5 481.5,275.8 482.5,276.0 483.4,277.1 484.4,276.2 485.3,275.8 486.3,276.8 487.2,276.6 488.2,277.2 489.1,277.8 490.1,278.2 491.0,278.1 492.0,278.8 492.9,279.4 493.9,278.1 494.8,277.9 495.8,278.3 496.7,277.8 497.7,277.1 498.6,276.9 499.6,277.5 500.6,276.6 501.5,276.9 502.5,277.0 503.4,276.3 504.4,276.7 505.3,276.8 506.3,277.0 507.2,276.9 508.2,275.3 509.1,275.7 510.1,275.6 511.0,275.6 512.0,274.3 512.9,274.6 513.9,274.4 514.8,273.4 515.8,274.2 516.7,273.3 517.7,272.7 518.6,273.4 519.6,273.4 520.5,274.1 521.5,274.3 522.4,274.9 523.4,275.6 524.4,275.6 525.3,276.2 526.3,276.6 527.2,275.8 528.2,276.0 529.1,275.8 530.1,275.3 531.0,275.4 532.0,275.7 532.9,275.2 533.9,273.7 534.8,273.9 535.8,273.6 536.7,273.3 537.7,273.4" fill="none" stroke="#0c7a2c" stroke-width="1.8" stroke-linejoin="round"/>
<polyline points="447.2,282.7 448.2,282.9 449.1,282.4 450.1,281.7 451.0,281.5 452.0,281.2 453.0,280.9 453.9,280.3 454.9,279.6 455.8,279.2 456.8,277.6 457.7,277.1 458.7,277.9 459.6,277.4 460.6,278.1 461.5,278.3 462.5,276.7 463.4,276.5 464.4,277.6 465.3,276.3 466.3,276.4 467.2,276.1 468.2,275.9 469.1,275.8 470.1,275.9 471.0,276.3 472.0,275.7 472.9,276.1 473.9,275.7 474.8,276.1 475.8,276.1 476.8,275.5 477.7,275.5 478.7,275.0 479.6,274.6 480.6,275.4 481.5,274.5 482.5,275.3 483.4,275.9 484.4,275.6 485.3,276.3 486.3,276.6 487.2,275.5 488.2,275.7 489.1,275.7 490.1,275.1 491.0,275.3 492.0,275.3 492.9,274.4 493.9,273.2 494.8,273.6 495.8,273.1 496.7,272.2 497.7,272.7 498.6,272.1 499.6,272.8 500.6,274.2 501.5,272.8 502.5,273.7 503.4,273.3 504.4,273.3 505.3,272.9 506.3,273.4 507.2,273.3 508.2,272.9 509.1,272.5 510.1,272.7 511.0,273.6 512.0,272.8 512.9,273.2 513.9,273.3 514.8,272.0 515.8,272.9 516.7,272.7 517.7,273.6 518.6,273.9 519.6,273.0 520.5,272.6 521.5,272.0 522.4,271.5 523.4,272.4 524.4,272.1 525.3,271.8 526.3,271.7 527.2,272.0 528.2,272.2 529.1,271.8 530.1,271.4 531.0,271.2 532.0,272.1 532.9,270.3 533.9,269.8 534.8,270.5 535.8,270.6 536.7,271.2 537.7,271.6" fill="none" stroke="#f26a12" stroke-width="1.8" stroke-linejoin="round"/>
</g>
<rect x="399.5" y="243.4" width="144.6" height="61.9" fill="none" stroke="#6e6e6e" stroke-width="1.1"/>
<line x1="404.4" y1="305.3" x2="404.4" y2="303.0" stroke="#6e6e6e" stroke-width="0.9"/>
<text x="404.4" y="314.8" font-size="7.5" text-anchor="middle" fill="#222" stroke="#222" stroke-width="0.1">1960</text>
<line x1="423.4" y1="305.3" x2="423.4" y2="303.0" stroke="#6e6e6e" stroke-width="0.9"/>
<text x="423.4" y="314.8" font-size="7.5" text-anchor="middle" fill="#222" stroke="#222" stroke-width="0.1">1980</text>
<line x1="442.5" y1="305.3" x2="442.5" y2="303.0" stroke="#6e6e6e" stroke-width="0.9"/>
<text x="442.5" y="314.8" font-size="7.5" text-anchor="middle" fill="#222" stroke="#222" stroke-width="0.1">2000</text>
<line x1="461.5" y1="305.3" x2="461.5" y2="303.0" stroke="#6e6e6e" stroke-width="0.9"/>
<text x="461.5" y="314.8" font-size="7.5" text-anchor="middle" fill="#222" stroke="#222" stroke-width="0.1">2020</text>
<line x1="480.6" y1="305.3" x2="480.6" y2="303.0" stroke="#6e6e6e" stroke-width="0.9"/>
<text x="480.6" y="314.8" font-size="7.5" text-anchor="middle" fill="#222" stroke="#222" stroke-width="0.1">2040</text>
<line x1="499.6" y1="305.3" x2="499.6" y2="303.0" stroke="#6e6e6e" stroke-width="0.9"/>
<text x="499.6" y="314.8" font-size="7.5" text-anchor="middle" fill="#222" stroke="#222" stroke-width="0.1">2060</text>
<line x1="518.6" y1="305.3" x2="518.6" y2="303.0" stroke="#6e6e6e" stroke-width="0.9"/>
<text x="518.6" y="314.8" font-size="7.5" text-anchor="middle" fill="#222" stroke="#222" stroke-width="0.1">2080</text>
<line x1="537.7" y1="305.3" x2="537.7" y2="303.0" stroke="#6e6e6e" stroke-width="0.9"/>
<text x="537.7" y="314.8" font-size="7.5" text-anchor="middle" fill="#222" stroke="#222" stroke-width="0.1">2100</text>
<line x1="399.5" y1="246.3" x2="401.8" y2="246.3" stroke="#6e6e6e" stroke-width="0.9"/>
<text x="395.3" y="248.9" font-size="7.5" text-anchor="end" fill="#222" stroke="#222" stroke-width="0.1">20</text>
<line x1="399.5" y1="265.2" x2="401.8" y2="265.2" stroke="#6e6e6e" stroke-width="0.9"/>
<text x="395.3" y="267.7" font-size="7.5" text-anchor="end" fill="#222" stroke="#222" stroke-width="0.1">10</text>
<line x1="399.5" y1="284.0" x2="401.8" y2="284.0" stroke="#6e6e6e" stroke-width="0.9"/>
<text x="395.3" y="286.6" font-size="7.5" text-anchor="end" fill="#222" stroke="#222" stroke-width="0.1">0</text>
<line x1="399.5" y1="302.9" x2="401.8" y2="302.9" stroke="#6e6e6e" stroke-width="0.9"/>
<text x="395.3" y="305.5" font-size="7.5" text-anchor="end" fill="#222" stroke="#222" stroke-width="0.1">-10</text>
<text transform="translate(374.1,274.4) rotate(-90)" font-size="7.2" text-anchor="middle" fill="#333">Annual Pr Anomaly</text>
<text transform="translate(384.9,274.4) rotate(-90)" font-size="7.2" text-anchor="middle" fill="#333">(mm)</text>
<text x="406.2" y="253.2" font-size="7.8" fill="#1f8a52">0.35/10a</text>
<text x="406.2" y="262.1" font-size="7.8" fill="#f5782a">0.39/10a</text>
<text x="406.2" y="270.9" font-size="7.8" fill="#9148c2">0.87/10a</text>
<text x="407.1" y="301.0" font-size="11" fill="#222">(n)</text>
<text x="539.9" y="300.7" font-size="10" text-anchor="end" fill="#111">SON</text>
</g>
<g>
<clipPath id="co"><rect x="399.5" y="317.4" width="144.6" height="61.8"/></clipPath>
<g clip-path="url(#co)">
<path d="M422.5,354.7 L423.4,354.0 L424.4,355.8 L425.3,355.7 L426.3,355.4 L427.2,354.9 L428.2,354.4 L429.2,353.1 L430.1,355.3 L431.1,355.2 L432.0,355.2 L433.0,354.4 L433.9,354.7 L434.9,355.1 L435.8,355.1 L436.8,355.5 L437.7,354.9 L438.7,355.2 L439.6,355.7 L440.6,355.9 L441.5,355.8 L442.5,355.5 L443.4,354.8 L444.4,355.3 L445.3,355.0 L446.3,354.6 L447.2,355.3 L447.2,360.1 L446.3,360.8 L445.3,361.2 L444.4,361.8 L443.4,361.2 L442.5,360.6 L441.5,361.4 L440.6,360.9 L439.6,361.5 L438.7,361.8 L437.7,362.8 L436.8,361.6 L435.8,361.5 L434.9,362.0 L433.9,362.2 L433.0,361.5 L432.0,361.5 L431.1,361.4 L430.1,360.9 L429.2,361.5 L428.2,361.7 L427.2,361.4 L426.3,361.4 L425.3,361.8 L424.4,361.2 L423.4,360.2 L422.5,360.2Z" fill="#e8e8e8"/>
<path d="M448.2,350.0 L449.1,349.9 L450.1,349.9 L451.0,349.8 L452.0,350.9 L453.0,351.5 L453.9,348.9 L454.9,349.0 L455.8,349.1 L456.8,348.4 L457.7,348.9 L458.7,349.2 L459.6,350.2 L460.6,349.4 L461.5,348.8 L462.5,349.2 L463.4,347.8 L464.4,347.9 L465.3,347.5 L466.3,345.5 L467.2,347.2 L468.2,347.4 L469.1,347.6 L470.1,347.3 L471.0,346.3 L472.0,346.8 L472.9,347.1 L473.9,346.9 L474.8,347.1 L475.8,347.7 L476.8,347.0 L477.7,347.5 L478.7,346.6 L479.6,346.4 L480.6,347.0 L481.5,346.5 L482.5,347.3 L483.4,347.0 L484.4,346.0 L485.3,345.3 L486.3,345.9 L487.2,346.5 L488.2,346.5 L489.1,346.1 L490.1,344.9 L491.0,345.6 L492.0,345.0 L492.9,344.0 L493.9,343.4 L494.8,344.3 L495.8,344.8 L496.7,343.6 L497.7,343.5 L498.6,343.2 L499.6,342.4 L500.6,342.2 L501.5,342.7 L502.5,342.5 L503.4,341.8 L504.4,342.8 L505.3,342.2 L506.3,342.0 L507.2,343.5 L508.2,344.0 L509.1,343.6 L510.1,342.3 L511.0,343.6 L512.0,341.5 L512.9,342.9 L513.9,344.5 L514.8,346.8 L515.8,345.1 L516.7,345.6 L517.7,345.1 L518.6,344.2 L519.6,343.9 L520.5,345.2 L521.5,344.5 L522.4,345.9 L523.4,345.6 L524.4,345.4 L525.3,345.6 L526.3,344.9 L527.2,345.2 L528.2,344.6 L529.1,345.6 L530.1,345.1 L531.0,345.0 L532.0,345.2 L532.9,344.5 L533.9,344.3 L534.8,344.4 L535.8,344.9 L536.7,345.7 L537.7,346.2 L537.7,355.4 L536.7,353.7 L535.8,354.0 L534.8,354.1 L533.9,354.3 L532.9,353.7 L532.0,354.9 L531.0,355.3 L530.1,354.7 L529.1,354.1 L528.2,354.2 L527.2,355.8 L526.3,356.8 L525.3,355.4 L524.4,355.7 L523.4,355.7 L522.4,354.9 L521.5,353.6 L520.5,353.7 L519.6,353.1 L518.6,353.4 L517.7,355.1 L516.7,353.0 L515.8,352.5 L514.8,353.2 L513.9,353.4 L512.9,354.0 L512.0,354.6 L511.0,354.5 L510.1,356.6 L509.1,355.0 L508.2,356.0 L507.2,355.6 L506.3,355.3 L505.3,356.2 L504.4,356.3 L503.4,356.8 L502.5,354.8 L501.5,354.5 L500.6,354.8 L499.6,355.6 L498.6,355.6 L497.7,356.8 L496.7,355.5 L495.8,355.3 L494.8,354.6 L493.9,355.2 L492.9,355.4 L492.0,354.8 L491.0,356.5 L490.1,355.7 L489.1,354.9 L488.2,356.7 L487.2,358.1 L486.3,356.0 L485.3,357.0 L484.4,357.8 L483.4,358.9 L482.5,358.2 L481.5,358.3 L480.6,358.9 L479.6,360.0 L478.7,360.2 L477.7,359.1 L476.8,360.2 L475.8,361.3 L474.8,360.7 L473.9,361.7 L472.9,360.3 L472.0,360.6 L471.0,360.6 L470.1,361.8 L469.1,362.3 L468.2,361.8 L467.2,362.8 L466.3,362.7 L465.3,363.6 L464.4,363.0 L463.4,362.1 L462.5,364.0 L461.5,363.7 L460.6,363.9 L459.6,363.0 L458.7,363.3 L457.7,364.0 L456.8,362.7 L455.8,363.6 L454.9,364.1 L453.9,364.9 L453.0,366.4 L452.0,366.9 L451.0,366.9 L450.1,367.9 L449.1,367.9 L448.2,368.9Z" fill="rgba(118,198,118,0.22)"/>
<path d="M448.2,350.0 L449.1,349.9 L450.1,349.8 L451.0,349.6 L452.0,350.5 L453.0,350.9 L453.9,348.6 L454.9,348.5 L455.8,349.2 L456.8,348.5 L457.7,348.0 L458.7,348.0 L459.6,349.1 L460.6,348.9 L461.5,347.9 L462.5,348.1 L463.4,348.0 L464.4,347.5 L465.3,346.2 L466.3,346.2 L467.2,347.1 L468.2,347.5 L469.1,347.6 L470.1,345.2 L471.0,346.7 L472.0,346.2 L472.9,347.4 L473.9,346.7 L474.8,347.4 L475.8,347.0 L476.8,346.0 L477.7,348.1 L478.7,345.3 L479.6,345.6 L480.6,346.0 L481.5,345.8 L482.5,347.1 L483.4,345.7 L484.4,345.4 L485.3,346.0 L486.3,346.4 L487.2,346.8 L488.2,346.4 L489.1,344.5 L490.1,344.5 L491.0,344.0 L492.0,344.8 L492.9,344.7 L493.9,345.8 L494.8,345.2 L495.8,345.3 L496.7,344.4 L497.7,343.5 L498.6,344.0 L499.6,343.0 L500.6,342.3 L501.5,344.1 L502.5,342.8 L503.4,342.8 L504.4,342.3 L505.3,341.6 L506.3,341.3 L507.2,340.7 L508.2,341.9 L509.1,340.9 L510.1,339.7 L511.0,341.6 L512.0,339.7 L512.9,339.9 L513.9,339.2 L514.8,340.6 L515.8,341.7 L516.7,342.0 L517.7,340.4 L518.6,340.2 L519.6,340.4 L520.5,341.6 L521.5,340.8 L522.4,342.3 L523.4,341.1 L524.4,342.4 L525.3,340.9 L526.3,340.0 L527.2,339.3 L528.2,338.7 L529.1,339.5 L530.1,338.1 L531.0,340.1 L532.0,339.3 L532.9,338.3 L533.9,339.2 L534.8,338.8 L535.8,339.0 L536.7,339.5 L537.7,339.2 L537.7,348.1 L536.7,345.6 L535.8,346.9 L534.8,347.2 L533.9,347.4 L532.9,347.0 L532.0,347.7 L531.0,348.4 L530.1,349.0 L529.1,348.8 L528.2,348.3 L527.2,349.7 L526.3,352.0 L525.3,350.3 L524.4,351.2 L523.4,350.5 L522.4,350.6 L521.5,349.4 L520.5,348.6 L519.6,349.2 L518.6,349.2 L517.7,351.6 L516.7,349.9 L515.8,349.5 L514.8,349.2 L513.9,348.7 L512.9,349.9 L512.0,350.5 L511.0,351.8 L510.1,352.9 L509.1,351.6 L508.2,353.3 L507.2,353.8 L506.3,353.6 L505.3,355.7 L504.4,355.3 L503.4,356.0 L502.5,354.5 L501.5,355.0 L500.6,356.0 L499.6,356.3 L498.6,356.2 L497.7,356.3 L496.7,356.8 L495.8,357.1 L494.8,355.4 L493.9,354.9 L492.9,356.2 L492.0,356.2 L491.0,357.3 L490.1,356.7 L489.1,355.6 L488.2,356.5 L487.2,358.0 L486.3,355.9 L485.3,356.7 L484.4,357.6 L483.4,358.9 L482.5,358.6 L481.5,357.4 L480.6,357.2 L479.6,358.2 L478.7,359.0 L477.7,358.2 L476.8,359.2 L475.8,360.2 L474.8,359.7 L473.9,360.6 L472.9,359.6 L472.0,359.7 L471.0,360.4 L470.1,361.6 L469.1,361.5 L468.2,361.4 L467.2,362.2 L466.3,362.1 L465.3,363.4 L464.4,363.3 L463.4,363.1 L462.5,364.4 L461.5,363.8 L460.6,362.3 L459.6,361.8 L458.7,362.7 L457.7,362.7 L456.8,362.5 L455.8,362.6 L454.9,363.3 L453.9,364.6 L453.0,365.5 L452.0,365.9 L451.0,366.0 L450.1,367.0 L449.1,366.9 L448.2,367.7Z" fill="rgba(245,145,58,0.3)"/>
<path d="M448.2,350.0 L449.1,349.8 L450.1,349.6 L451.0,349.2 L452.0,350.0 L453.0,350.8 L453.9,348.3 L454.9,347.9 L455.8,348.3 L456.8,347.4 L457.7,347.1 L458.7,347.4 L459.6,348.3 L460.6,348.5 L461.5,347.4 L462.5,347.0 L463.4,346.4 L464.4,346.1 L465.3,345.1 L466.3,344.0 L467.2,344.4 L468.2,345.4 L469.1,345.7 L470.1,343.7 L471.0,343.8 L472.0,343.5 L472.9,343.8 L473.9,342.8 L474.8,343.5 L475.8,342.6 L476.8,342.5 L477.7,342.6 L478.7,340.5 L479.6,340.6 L480.6,341.9 L481.5,341.2 L482.5,341.6 L483.4,341.2 L484.4,340.1 L485.3,340.1 L486.3,340.5 L487.2,340.8 L488.2,340.9 L489.1,339.0 L490.1,339.3 L491.0,337.8 L492.0,337.8 L492.9,337.6 L493.9,338.0 L494.8,337.9 L495.8,338.4 L496.7,337.1 L497.7,337.5 L498.6,337.2 L499.6,336.6 L500.6,335.3 L501.5,335.9 L502.5,335.9 L503.4,336.1 L504.4,335.4 L505.3,334.9 L506.3,334.9 L507.2,334.9 L508.2,334.9 L509.1,335.7 L510.1,334.1 L511.0,335.2 L512.0,331.9 L512.9,333.0 L513.9,332.2 L514.8,333.7 L515.8,332.2 L516.7,332.8 L517.7,331.4 L518.6,330.5 L519.6,331.4 L520.5,331.8 L521.5,330.7 L522.4,332.3 L523.4,331.0 L524.4,331.6 L525.3,329.9 L526.3,328.9 L527.2,329.1 L528.2,328.3 L529.1,328.8 L530.1,327.0 L531.0,327.8 L532.0,327.5 L532.9,326.9 L533.9,327.4 L534.8,327.1 L535.8,326.8 L536.7,327.4 L537.7,327.2 L537.7,340.5 L536.7,338.8 L535.8,339.5 L534.8,339.0 L533.9,338.5 L532.9,338.1 L532.0,338.7 L531.0,339.2 L530.1,340.1 L529.1,339.5 L528.2,340.1 L527.2,341.3 L526.3,343.5 L525.3,342.5 L524.4,343.4 L523.4,344.5 L522.4,343.8 L521.5,342.6 L520.5,342.6 L519.6,343.1 L518.6,343.8 L517.7,345.0 L516.7,344.5 L515.8,345.7 L514.8,345.3 L513.9,346.4 L512.9,346.8 L512.0,349.2 L511.0,349.5 L510.1,351.4 L509.1,350.2 L508.2,350.8 L507.2,352.3 L506.3,351.1 L505.3,351.4 L504.4,352.1 L503.4,353.0 L502.5,350.5 L501.5,351.0 L500.6,352.0 L499.6,353.1 L498.6,353.5 L497.7,352.3 L496.7,354.1 L495.8,354.1 L494.8,352.6 L493.9,352.3 L492.9,352.5 L492.0,352.0 L491.0,353.7 L490.1,353.1 L489.1,353.2 L488.2,354.1 L487.2,354.9 L486.3,354.8 L485.3,354.9 L484.4,356.7 L483.4,357.4 L482.5,354.9 L481.5,354.7 L480.6,355.5 L479.6,356.5 L478.7,356.9 L477.7,356.5 L476.8,356.0 L475.8,358.5 L474.8,359.5 L473.9,360.6 L472.9,359.1 L472.0,359.9 L471.0,360.0 L470.1,361.8 L469.1,361.3 L468.2,361.0 L467.2,362.2 L466.3,362.1 L465.3,363.3 L464.4,363.3 L463.4,362.8 L462.5,364.4 L461.5,363.8 L460.6,363.4 L459.6,363.0 L458.7,363.4 L457.7,363.6 L456.8,362.8 L455.8,363.0 L454.9,363.6 L453.9,365.0 L453.0,366.0 L452.0,366.1 L451.0,366.0 L450.1,367.0 L449.1,366.9 L448.2,367.7Z" fill="rgba(122,72,184,0.3)"/>
<polyline points="422.5,357.4 423.4,357.5 424.4,357.9 425.3,358.1 426.3,358.0 427.2,358.0 428.2,358.3 429.2,358.3 430.1,357.9 431.1,358.2 432.0,358.4 433.0,358.5 433.9,358.8 434.9,359.1 435.8,359.1 436.8,359.0 437.7,358.4 438.7,358.6 439.6,358.5 440.6,358.8 441.5,358.9 442.5,358.9 443.4,359.0 444.4,358.8 445.3,358.6 446.3,358.2 447.2,358.0" fill="none" stroke="#000" stroke-width="2" stroke-linejoin="round"/>
<polyline points="447.2,358.0 448.2,358.6 449.1,357.7 450.1,357.2 451.0,356.6 452.0,356.0 453.0,356.8 453.9,357.8 454.9,357.7 455.8,357.1 456.8,356.8 457.7,355.9 458.7,355.2 459.6,354.3 460.6,355.4 461.5,354.6 462.5,353.8 463.4,353.3 464.4,353.4 465.3,353.0 466.3,353.0 467.2,353.1 468.2,353.8 469.1,352.4 470.1,352.6 471.0,351.8 472.0,351.5 472.9,352.5 473.9,352.2 474.8,351.2 475.8,351.2 476.8,350.8 477.7,351.3 478.7,350.4 479.6,350.5 480.6,350.0 481.5,349.9 482.5,349.6 483.4,349.1 484.4,349.2 485.3,349.8 486.3,348.9 487.2,348.4 488.2,348.4 489.1,347.6 490.1,348.1 491.0,348.0 492.0,346.0 492.9,346.0 493.9,345.6 494.8,346.6 495.8,347.1 496.7,345.9 497.7,345.5 498.6,345.7 499.6,345.5 500.6,346.0 501.5,346.4 502.5,346.2 503.4,346.2 504.4,345.9 505.3,345.0 506.3,344.1 507.2,343.3 508.2,343.8 509.1,343.9 510.1,343.9 511.0,342.8 512.0,342.1 512.9,342.0 513.9,342.3 514.8,341.6 515.8,340.9 516.7,339.6 517.7,339.6 518.6,339.5 519.6,338.4 520.5,339.4 521.5,338.0 522.4,338.4 523.4,337.6 524.4,337.4 525.3,336.4 526.3,336.0 527.2,336.4 528.2,335.9 529.1,335.4 530.1,336.0 531.0,336.0 532.0,335.6 532.9,335.4 533.9,336.2 534.8,335.2 535.8,334.9 536.7,334.7 537.7,333.3" fill="none" stroke="#8a2db5" stroke-width="1.8" stroke-linejoin="round"/>
<polyline points="447.2,358.0 448.2,359.2 449.1,358.1 450.1,357.7 451.0,357.1 452.0,356.8 453.0,356.4 453.9,356.0 454.9,354.7 455.8,354.8 456.8,355.3 457.7,353.8 458.7,353.9 459.6,354.3 460.6,354.9 461.5,354.3 462.5,354.3 463.4,354.9 464.4,354.9 465.3,353.8 466.3,353.1 467.2,353.6 468.2,353.3 469.1,352.7 470.1,352.4 471.0,352.7 472.0,352.6 472.9,352.5 473.9,352.4 474.8,351.7 475.8,353.1 476.8,353.6 477.7,354.0 478.7,353.2 479.6,352.9 480.6,352.9 481.5,352.9 482.5,351.4 483.4,351.7 484.4,351.1 485.3,351.2 486.3,350.8 487.2,351.9 488.2,351.7 489.1,351.2 490.1,351.7 491.0,351.0 492.0,350.3 492.9,350.1 493.9,349.8 494.8,349.8 495.8,350.1 496.7,349.5 497.7,349.1 498.6,349.3 499.6,348.9 500.6,349.0 501.5,348.6 502.5,347.7 503.4,347.3 504.4,346.8 505.3,348.1 506.3,348.6 507.2,348.4 508.2,348.2 509.1,348.9 510.1,348.9 511.0,349.2 512.0,348.6 512.9,348.2 513.9,349.5 514.8,348.8 515.8,348.9 516.7,349.8 517.7,348.4 518.6,349.1 519.6,349.1 520.5,349.0 521.5,349.2 522.4,348.5 523.4,347.5 524.4,349.4 525.3,349.1 526.3,349.7 527.2,350.2 528.2,350.0 529.1,350.0 530.1,350.2 531.0,350.8 532.0,350.5 532.9,350.8 533.9,350.0 534.8,349.6 535.8,349.6 536.7,349.9 537.7,350.0" fill="none" stroke="#0c7a2c" stroke-width="1.8" stroke-linejoin="round"/>
<polyline points="447.2,358.0 448.2,358.8 449.1,358.2 450.1,358.6 451.0,357.9 452.0,357.4 453.0,357.0 453.9,356.3 454.9,355.4 455.8,355.4 456.8,355.0 457.7,354.4 458.7,354.4 459.6,354.2 460.6,353.8 461.5,353.0 462.5,353.3 463.4,354.2 464.4,354.2 465.3,354.2 466.3,353.7 467.2,353.8 468.2,353.0 469.1,352.6 470.1,352.8 471.0,352.1 472.0,352.4 472.9,352.6 473.9,353.4 474.8,352.7 475.8,352.8 476.8,352.2 477.7,351.9 478.7,350.7 479.6,350.8 480.6,351.7 481.5,352.0 482.5,351.9 483.4,353.0 484.4,352.6 485.3,351.6 486.3,351.5 487.2,351.4 488.2,352.1 489.1,351.2 490.1,351.2 491.0,351.4 492.0,350.6 492.9,350.6 493.9,349.5 494.8,349.9 495.8,348.9 496.7,349.2 497.7,350.2 498.6,350.0 499.6,349.7 500.6,349.5 501.5,350.2 502.5,349.6 503.4,349.3 504.4,348.1 505.3,347.4 506.3,346.4 507.2,346.1 508.2,345.8 509.1,346.3 510.1,346.3 511.0,345.9 512.0,345.5 512.9,344.1 513.9,344.5 514.8,345.2 515.8,345.6 516.7,344.2 517.7,343.7 518.6,344.6 519.6,344.4 520.5,344.6 521.5,344.5 522.4,344.8 523.4,343.8 524.4,343.8 525.3,344.4 526.3,344.3 527.2,343.7 528.2,343.9 529.1,343.9 530.1,343.3 531.0,343.7 532.0,343.9 532.9,343.6 533.9,343.9 534.8,343.2 535.8,343.8 536.7,343.7 537.7,343.3" fill="none" stroke="#f26a12" stroke-width="1.8" stroke-linejoin="round"/>
</g>
<rect x="399.5" y="317.4" width="144.6" height="61.8" fill="none" stroke="#6e6e6e" stroke-width="1.1"/>
<line x1="404.4" y1="379.2" x2="404.4" y2="376.9" stroke="#6e6e6e" stroke-width="0.9"/>
<text x="404.4" y="388.7" font-size="7.5" text-anchor="middle" fill="#222" stroke="#222" stroke-width="0.1">1960</text>
<line x1="423.4" y1="379.2" x2="423.4" y2="376.9" stroke="#6e6e6e" stroke-width="0.9"/>
<text x="423.4" y="388.7" font-size="7.5" text-anchor="middle" fill="#222" stroke="#222" stroke-width="0.1">1980</text>
<line x1="442.5" y1="379.2" x2="442.5" y2="376.9" stroke="#6e6e6e" stroke-width="0.9"/>
<text x="442.5" y="388.7" font-size="7.5" text-anchor="middle" fill="#222" stroke="#222" stroke-width="0.1">2000</text>
<line x1="461.5" y1="379.2" x2="461.5" y2="376.9" stroke="#6e6e6e" stroke-width="0.9"/>
<text x="461.5" y="388.7" font-size="7.5" text-anchor="middle" fill="#222" stroke="#222" stroke-width="0.1">2020</text>
<line x1="480.6" y1="379.2" x2="480.6" y2="376.9" stroke="#6e6e6e" stroke-width="0.9"/>
<text x="480.6" y="388.7" font-size="7.5" text-anchor="middle" fill="#222" stroke="#222" stroke-width="0.1">2040</text>
<line x1="499.6" y1="379.2" x2="499.6" y2="376.9" stroke="#6e6e6e" stroke-width="0.9"/>
<text x="499.6" y="388.7" font-size="7.5" text-anchor="middle" fill="#222" stroke="#222" stroke-width="0.1">2060</text>
<line x1="518.6" y1="379.2" x2="518.6" y2="376.9" stroke="#6e6e6e" stroke-width="0.9"/>
<text x="518.6" y="388.7" font-size="7.5" text-anchor="middle" fill="#222" stroke="#222" stroke-width="0.1">2080</text>
<line x1="537.7" y1="379.2" x2="537.7" y2="376.9" stroke="#6e6e6e" stroke-width="0.9"/>
<text x="537.7" y="388.7" font-size="7.5" text-anchor="middle" fill="#222" stroke="#222" stroke-width="0.1">2100</text>
<line x1="399.5" y1="320.3" x2="401.8" y2="320.3" stroke="#6e6e6e" stroke-width="0.9"/>
<text x="395.3" y="322.8" font-size="7.5" text-anchor="end" fill="#222" stroke="#222" stroke-width="0.1">20</text>
<line x1="399.5" y1="339.1" x2="401.8" y2="339.1" stroke="#6e6e6e" stroke-width="0.9"/>
<text x="395.3" y="341.7" font-size="7.5" text-anchor="end" fill="#222" stroke="#222" stroke-width="0.1">10</text>
<line x1="399.5" y1="358.0" x2="401.8" y2="358.0" stroke="#6e6e6e" stroke-width="0.9"/>
<text x="395.3" y="360.5" font-size="7.5" text-anchor="end" fill="#222" stroke="#222" stroke-width="0.1">0</text>
<line x1="399.5" y1="376.8" x2="401.8" y2="376.8" stroke="#6e6e6e" stroke-width="0.9"/>
<text x="395.3" y="379.3" font-size="7.5" text-anchor="end" fill="#222" stroke="#222" stroke-width="0.1">-10</text>
<text transform="translate(374.1,348.3) rotate(-90)" font-size="7.2" text-anchor="middle" fill="#333">Annual Pr Anomaly</text>
<text transform="translate(384.9,348.3) rotate(-90)" font-size="7.2" text-anchor="middle" fill="#333">(mm)</text>
<text x="406.2" y="327.2" font-size="7.8" fill="#1f8a52">0.23/10a</text>
<text x="406.2" y="336.1" font-size="7.8" fill="#f5782a">0.67/10a</text>
<text x="406.2" y="344.9" font-size="7.8" fill="#9148c2">1.29/10a</text>
<text x="407.1" y="374.9" font-size="11" fill="#222">(o)</text>
<text x="539.9" y="374.6" font-size="10" text-anchor="end" fill="#111">DJF</text>
</g>
<line x1="70.9" y1="399.4" x2="87.7" y2="399.4" stroke="#000" stroke-width="1.4"/>
<text x="98.2" y="402.8" font-size="9.4" fill="#222" stroke="#222" stroke-width="0.1">CMIP5 Historical</text>
<line x1="188.8" y1="399.4" x2="206.3" y2="399.4" stroke="#0c7a2c" stroke-width="1.4"/>
<text x="215.6" y="402.8" font-size="9.4" fill="#222" stroke="#222" stroke-width="0.1">RCP2.6</text>
<line x1="307.0" y1="399.4" x2="324.0" y2="399.4" stroke="#f26a12" stroke-width="1.4"/>
<text x="333.8" y="402.8" font-size="9.4" fill="#222" stroke="#222" stroke-width="0.1">RCP4.5</text>
<line x1="425.5" y1="399.4" x2="442.5" y2="399.4" stroke="#8a2db5" stroke-width="1.4"/>
<text x="452.1" y="402.8" font-size="9.4" fill="#222" stroke="#222" stroke-width="0.1">RCP8.5</text>
</svg></body></html>
